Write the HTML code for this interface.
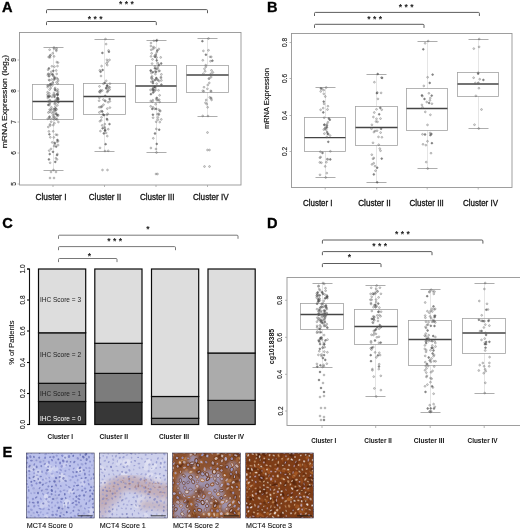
<!DOCTYPE html>
<html lang="en"><head><meta charset="utf-8"><title>Figure</title>
<style>html,body{margin:0;padding:0;background:#fff}svg{display:block}</style></head>
<body>
<svg width="520" height="530" viewBox="0 0 520 530" font-family='"Liberation Sans", sans-serif'>
<rect width="520" height="530" fill="#fff"/>
<text x="1.9" y="12" font-size="14.6" text-anchor="start" font-weight="bold" fill="#000" stroke="#000" stroke-width="0.35">A</text>
<path d="M46.5 13.2V10.6Q46.5 9.6 47.5 9.6H206.5Q207.5 9.6 207.5 10.6V13.2" fill="none" stroke="#4a4a4a" stroke-width="0.9"/>
<text x="120.6" y="6.9" font-size="8.5" text-anchor="middle" font-weight="bold" fill="#222">*</text>
<text x="126.4" y="6.9" font-size="8.5" text-anchor="middle" font-weight="bold" fill="#222">*</text>
<text x="132.2" y="6.9" font-size="8.5" text-anchor="middle" font-weight="bold" fill="#222">*</text>
<path d="M46.5 25.1V22.5Q46.5 21.5 47.5 21.5H155.3Q156.3 21.5 156.3 22.5V25.1" fill="none" stroke="#4a4a4a" stroke-width="0.9"/>
<text x="89.3" y="22.3" font-size="8.5" text-anchor="middle" font-weight="bold" fill="#222">*</text>
<text x="95.1" y="22.3" font-size="8.5" text-anchor="middle" font-weight="bold" fill="#222">*</text>
<text x="100.9" y="22.3" font-size="8.5" text-anchor="middle" font-weight="bold" fill="#222">*</text>
<rect x="19.5" y="32.5" width="221.5" height="152.5" fill="none" stroke="#949494" stroke-width="0.9"/>
<line x1="17.5" y1="60" x2="19.5" y2="60" stroke="#999" stroke-width="0.7"/>
<text x="15.5" y="60" font-size="6.5" text-anchor="middle" font-weight="normal" fill="#222" stroke="#222" stroke-width="0.15" transform="rotate(-90 15.5 60)">9</text>
<line x1="17.5" y1="91" x2="19.5" y2="91" stroke="#999" stroke-width="0.7"/>
<text x="15.5" y="91" font-size="6.5" text-anchor="middle" font-weight="normal" fill="#222" stroke="#222" stroke-width="0.15" transform="rotate(-90 15.5 91)">8</text>
<line x1="17.5" y1="122" x2="19.5" y2="122" stroke="#999" stroke-width="0.7"/>
<text x="15.5" y="122" font-size="6.5" text-anchor="middle" font-weight="normal" fill="#222" stroke="#222" stroke-width="0.15" transform="rotate(-90 15.5 122)">7</text>
<line x1="17.5" y1="153" x2="19.5" y2="153" stroke="#999" stroke-width="0.7"/>
<text x="15.5" y="153" font-size="6.5" text-anchor="middle" font-weight="normal" fill="#222" stroke="#222" stroke-width="0.15" transform="rotate(-90 15.5 153)">6</text>
<line x1="17.5" y1="184" x2="19.5" y2="184" stroke="#999" stroke-width="0.7"/>
<text x="15.5" y="184" font-size="6.5" text-anchor="middle" font-weight="normal" fill="#222" stroke="#222" stroke-width="0.15" transform="rotate(-90 15.5 184)">5</text>
<text x="7.5" y="101.6" font-size="7.7" text-anchor="middle" font-weight="normal" fill="#111" stroke="#111" stroke-width="0.15" transform="rotate(-90 7.5 101.6)" textLength="93.5" lengthAdjust="spacingAndGlyphs">mRNA Expression (log<tspan font-size="5.5" dy="1.8">2</tspan><tspan dy="-1.8">)</tspan></text>
<line x1="53" y1="185" x2="53" y2="187" stroke="#999" stroke-width="0.7"/>
<line x1="53.5" y1="47.5" x2="53.5" y2="84.5" stroke="#b5b5b5" stroke-width="0.7" stroke-dasharray="1 1"/>
<line x1="53.5" y1="119.5" x2="53.5" y2="170.5" stroke="#b5b5b5" stroke-width="0.7" stroke-dasharray="1 1"/>
<line x1="43.5" y1="47.5" x2="63.5" y2="47.5" stroke="#8a8a8a" stroke-width="0.7"/>
<line x1="43.5" y1="170.5" x2="63.5" y2="170.5" stroke="#8a8a8a" stroke-width="0.7"/>
<rect x="32.5" y="84.5" width="41.0" height="35.0" fill="none" stroke="#a2a2a2" stroke-width="0.8"/>
<line x1="32.5" y1="101.5" x2="73.5" y2="101.5" stroke="#444" stroke-width="1.3"/>
<g fill="rgba(110,110,110,0.18)" stroke="#666" stroke-width="0.5" stroke-opacity="0.8"><circle cx="57.7" cy="93.8" r="0.9"/><circle cx="54.0" cy="92.9" r="0.9"/><circle cx="56.2" cy="70.5" r="0.9"/><circle cx="56.4" cy="50.8" r="0.9"/><circle cx="49.2" cy="150.6" r="0.9"/><circle cx="49.6" cy="49.7" r="0.9"/><circle cx="50.6" cy="109.7" r="0.9"/><circle cx="50.7" cy="88.0" r="0.9"/><circle cx="56.8" cy="62.1" r="0.9"/><circle cx="56.8" cy="100.8" r="0.9"/><circle cx="52.7" cy="82.4" r="0.9"/><circle cx="54.4" cy="123.2" r="0.9"/><circle cx="51.2" cy="121.7" r="0.9"/><circle cx="50.2" cy="125.5" r="0.9"/><circle cx="49.5" cy="80.3" r="0.9"/><circle cx="49.6" cy="109.6" r="0.9"/><circle cx="54.6" cy="103.9" r="0.9"/><circle cx="50.5" cy="55.3" r="0.9"/><circle cx="57.2" cy="134.9" r="0.9"/><circle cx="50.3" cy="55.3" r="0.9"/><circle cx="48.3" cy="127.0" r="0.9"/><circle cx="54.1" cy="56.4" r="0.9"/><circle cx="58.1" cy="91.9" r="0.9"/><circle cx="57.0" cy="94.1" r="0.9"/><circle cx="56.5" cy="82.3" r="0.9"/><circle cx="57.8" cy="79.2" r="0.9"/><circle cx="54.1" cy="79.7" r="0.9"/><circle cx="47.9" cy="85.8" r="0.9"/><circle cx="50.3" cy="137.3" r="0.9"/><circle cx="50.0" cy="102.7" r="0.9"/><circle cx="54.3" cy="116.8" r="0.9"/><circle cx="49.7" cy="100.1" r="0.9"/><circle cx="48.2" cy="73.9" r="0.9"/><circle cx="53.9" cy="113.9" r="0.9"/><circle cx="57.5" cy="66.1" r="0.9"/><circle cx="47.7" cy="118.8" r="0.9"/><circle cx="48.3" cy="101.5" r="0.9"/><circle cx="57.4" cy="154.1" r="0.9"/><circle cx="57.0" cy="159.4" r="0.9"/><circle cx="51.7" cy="112.7" r="0.9"/><circle cx="48.4" cy="112.5" r="0.9"/><circle cx="57.2" cy="119.4" r="0.9"/><circle cx="56.7" cy="109.4" r="0.9"/><circle cx="54.1" cy="48.6" r="0.9"/><circle cx="55.2" cy="88.0" r="0.9"/><circle cx="49.4" cy="105.1" r="0.9"/><circle cx="57.3" cy="141.8" r="0.9"/><circle cx="49.7" cy="95.7" r="0.9"/><circle cx="51.0" cy="148.9" r="0.9"/><circle cx="56.8" cy="78.1" r="0.9"/><circle cx="50.5" cy="118.6" r="0.9"/><circle cx="49.9" cy="57.5" r="0.9"/><circle cx="52.9" cy="95.0" r="0.9"/><circle cx="58.3" cy="98.7" r="0.9"/><circle cx="47.8" cy="85.3" r="0.9"/><circle cx="53.8" cy="137.4" r="0.9"/><circle cx="47.7" cy="97.9" r="0.9"/><circle cx="56.6" cy="48.4" r="0.9"/><circle cx="54.4" cy="66.6" r="0.9"/><circle cx="54.7" cy="95.0" r="0.9"/><circle cx="47.6" cy="87.1" r="0.9"/><circle cx="55.8" cy="112.6" r="0.9"/><circle cx="57.5" cy="97.9" r="0.9"/><circle cx="48.9" cy="73.9" r="0.9"/><circle cx="57.5" cy="94.9" r="0.9"/><circle cx="57.2" cy="94.0" r="0.9"/><circle cx="57.4" cy="105.3" r="0.9"/><circle cx="56.9" cy="99.9" r="0.9"/><circle cx="52.3" cy="85.4" r="0.9"/><circle cx="52.9" cy="115.3" r="0.9"/><circle cx="56.3" cy="49.8" r="0.9"/><circle cx="56.7" cy="73.9" r="0.9"/><circle cx="52.9" cy="118.5" r="0.9"/><circle cx="53.3" cy="125.1" r="0.9"/><circle cx="53.7" cy="116.7" r="0.9"/><circle cx="56.8" cy="90.7" r="0.9"/><circle cx="58.2" cy="141.0" r="0.9"/><circle cx="49.7" cy="111.8" r="0.9"/><circle cx="54.2" cy="110.6" r="0.9"/><circle cx="51.9" cy="66.3" r="0.9"/><circle cx="55.1" cy="144.3" r="0.9"/><circle cx="58.0" cy="62.6" r="0.9"/><circle cx="48.9" cy="131.4" r="0.9"/><circle cx="57.4" cy="98.3" r="0.9"/><circle cx="49.6" cy="89.6" r="0.9"/><circle cx="48.9" cy="118.2" r="0.9"/><circle cx="50.0" cy="124.4" r="0.9"/><circle cx="51.4" cy="107.3" r="0.9"/><circle cx="55.5" cy="103.4" r="0.9"/><circle cx="49.7" cy="56.6" r="0.9"/><circle cx="51.6" cy="109.4" r="0.9"/><circle cx="49.3" cy="93.3" r="0.9"/><circle cx="50.1" cy="162.8" r="0.9"/><circle cx="57.4" cy="116.1" r="0.9"/><circle cx="57.7" cy="89.5" r="0.9"/><circle cx="49.0" cy="79.9" r="0.9"/><circle cx="48.6" cy="57.0" r="0.9"/><circle cx="47.7" cy="96.0" r="0.9"/><circle cx="58.2" cy="80.8" r="0.9"/><circle cx="53.0" cy="75.2" r="0.9"/><circle cx="53.2" cy="75.8" r="0.9"/><circle cx="49.5" cy="104.1" r="0.9"/><circle cx="57.7" cy="83.6" r="0.9"/><circle cx="52.6" cy="83.1" r="0.9"/><circle cx="53.2" cy="131.3" r="0.9"/><circle cx="47.6" cy="94.5" r="0.9"/><circle cx="52.0" cy="96.9" r="0.9"/><circle cx="47.7" cy="75.1" r="0.9"/><circle cx="56.4" cy="119.2" r="0.9"/><circle cx="55.7" cy="99.9" r="0.9"/><circle cx="55.9" cy="158.2" r="0.9"/><circle cx="47.6" cy="92.2" r="0.9"/><circle cx="54.4" cy="95.2" r="0.9"/><circle cx="51.2" cy="71.8" r="0.9"/><circle cx="53.4" cy="111.8" r="0.9"/><circle cx="54.6" cy="101.5" r="0.9"/><circle cx="58.3" cy="115.2" r="0.9"/><circle cx="50.3" cy="74.5" r="0.9"/><circle cx="49.6" cy="84.9" r="0.9"/><circle cx="50.3" cy="85.7" r="0.9"/><circle cx="58.1" cy="145.1" r="0.9"/><circle cx="54.5" cy="119.4" r="0.9"/><circle cx="55.9" cy="134.6" r="0.9"/><circle cx="52.7" cy="53.3" r="0.9"/><circle cx="48.1" cy="69.8" r="0.9"/><circle cx="54.1" cy="146.1" r="0.9"/><circle cx="54.7" cy="89.0" r="0.9"/><circle cx="55.4" cy="106.6" r="0.9"/><circle cx="50.2" cy="84.2" r="0.9"/><circle cx="51.8" cy="79.5" r="0.9"/><circle cx="58.4" cy="122.0" r="0.9"/><circle cx="52.2" cy="142.4" r="0.9"/><circle cx="50.2" cy="101.0" r="0.9"/><circle cx="55.5" cy="118.4" r="0.9"/><circle cx="54.0" cy="47.5" r="0.9"/><circle cx="53.5" cy="170.0" r="0.9"/><circle cx="51.0" cy="172.0" r="0.9"/><circle cx="56.0" cy="172.0" r="0.9"/><circle cx="50.0" cy="178.0" r="0.9"/><circle cx="54.0" cy="178.0" r="0.9"/></g>
<g fill="rgba(70,70,70,0.6)" stroke="#555" stroke-width="0.5" stroke-opacity="0.85"><circle cx="58.3" cy="102.3" r="0.9"/><circle cx="52.3" cy="74.2" r="0.9"/><circle cx="53.0" cy="151.8" r="0.9"/><circle cx="55.3" cy="161.9" r="0.9"/><circle cx="54.6" cy="78.7" r="0.9"/><circle cx="49.4" cy="134.3" r="0.9"/><circle cx="48.9" cy="68.4" r="0.9"/><circle cx="58.3" cy="99.6" r="0.9"/><circle cx="55.5" cy="110.2" r="0.9"/><circle cx="57.4" cy="114.8" r="0.9"/><circle cx="56.2" cy="114.2" r="0.9"/><circle cx="55.6" cy="108.5" r="0.9"/><circle cx="57.6" cy="94.8" r="0.9"/><circle cx="50.8" cy="84.2" r="0.9"/><circle cx="57.6" cy="98.1" r="0.9"/><circle cx="49.7" cy="154.1" r="0.9"/><circle cx="49.5" cy="96.5" r="0.9"/><circle cx="55.2" cy="90.1" r="0.9"/><circle cx="54.7" cy="142.9" r="0.9"/><circle cx="54.6" cy="77.4" r="0.9"/><circle cx="56.2" cy="146.6" r="0.9"/><circle cx="49.0" cy="76.3" r="0.9"/><circle cx="54.5" cy="96.8" r="0.9"/><circle cx="53.3" cy="70.8" r="0.9"/><circle cx="48.9" cy="159.4" r="0.9"/><circle cx="48.3" cy="104.9" r="0.9"/><circle cx="49.5" cy="116.7" r="0.9"/><circle cx="57.0" cy="155.1" r="0.9"/><circle cx="54.1" cy="108.8" r="0.9"/><circle cx="57.4" cy="140.0" r="0.9"/><circle cx="48.3" cy="96.6" r="0.9"/></g>
<line x1="104.5" y1="185" x2="104.5" y2="187" stroke="#999" stroke-width="0.7"/>
<line x1="104.5" y1="39.5" x2="104.5" y2="83.5" stroke="#b5b5b5" stroke-width="0.7" stroke-dasharray="1 1"/>
<line x1="104.5" y1="114.5" x2="104.5" y2="151.5" stroke="#b5b5b5" stroke-width="0.7" stroke-dasharray="1 1"/>
<line x1="94.5" y1="39.5" x2="114.5" y2="39.5" stroke="#8a8a8a" stroke-width="0.7"/>
<line x1="94.5" y1="151.5" x2="114.5" y2="151.5" stroke="#8a8a8a" stroke-width="0.7"/>
<rect x="83.5" y="83.5" width="42.0" height="31.0" fill="none" stroke="#a2a2a2" stroke-width="0.8"/>
<line x1="83.5" y1="96.5" x2="125.5" y2="96.5" stroke="#444" stroke-width="1.3"/>
<g fill="rgba(110,110,110,0.18)" stroke="#666" stroke-width="0.5" stroke-opacity="0.8"><circle cx="101.2" cy="120.2" r="0.9"/><circle cx="109.7" cy="87.3" r="0.9"/><circle cx="106.1" cy="44.1" r="0.9"/><circle cx="99.4" cy="112.4" r="0.9"/><circle cx="101.6" cy="66.1" r="0.9"/><circle cx="101.5" cy="106.9" r="0.9"/><circle cx="107.3" cy="65.1" r="0.9"/><circle cx="108.0" cy="90.6" r="0.9"/><circle cx="108.8" cy="86.9" r="0.9"/><circle cx="99.5" cy="86.4" r="0.9"/><circle cx="104.8" cy="128.2" r="0.9"/><circle cx="109.9" cy="101.3" r="0.9"/><circle cx="99.1" cy="100.7" r="0.9"/><circle cx="107.8" cy="88.3" r="0.9"/><circle cx="100.7" cy="107.1" r="0.9"/><circle cx="108.6" cy="50.5" r="0.9"/><circle cx="109.9" cy="107.6" r="0.9"/><circle cx="100.7" cy="90.4" r="0.9"/><circle cx="108.3" cy="129.2" r="0.9"/><circle cx="109.5" cy="59.9" r="0.9"/><circle cx="100.0" cy="147.9" r="0.9"/><circle cx="104.8" cy="124.1" r="0.9"/><circle cx="106.9" cy="59.8" r="0.9"/><circle cx="100.2" cy="92.4" r="0.9"/><circle cx="109.6" cy="89.5" r="0.9"/><circle cx="105.2" cy="100.7" r="0.9"/><circle cx="109.9" cy="83.6" r="0.9"/><circle cx="102.2" cy="125.4" r="0.9"/><circle cx="102.3" cy="90.5" r="0.9"/><circle cx="106.3" cy="88.6" r="0.9"/><circle cx="108.1" cy="102.3" r="0.9"/><circle cx="106.5" cy="63.4" r="0.9"/><circle cx="103.4" cy="99.6" r="0.9"/><circle cx="101.5" cy="117.3" r="0.9"/><circle cx="99.8" cy="70.3" r="0.9"/><circle cx="106.1" cy="132.9" r="0.9"/><circle cx="103.4" cy="83.7" r="0.9"/><circle cx="107.7" cy="113.7" r="0.9"/><circle cx="99.2" cy="107.2" r="0.9"/><circle cx="107.7" cy="61.7" r="0.9"/><circle cx="107.4" cy="119.9" r="0.9"/><circle cx="104.5" cy="127.0" r="0.9"/><circle cx="101.2" cy="111.1" r="0.9"/><circle cx="99.9" cy="121.3" r="0.9"/><circle cx="100.4" cy="131.1" r="0.9"/><circle cx="101.9" cy="106.3" r="0.9"/><circle cx="101.0" cy="76.0" r="0.9"/><circle cx="99.4" cy="97.8" r="0.9"/><circle cx="106.2" cy="80.8" r="0.9"/><circle cx="107.1" cy="92.2" r="0.9"/><circle cx="107.8" cy="91.2" r="0.9"/><circle cx="100.9" cy="90.9" r="0.9"/><circle cx="105.2" cy="101.1" r="0.9"/><circle cx="99.4" cy="91.8" r="0.9"/><circle cx="103.5" cy="104.7" r="0.9"/><circle cx="107.3" cy="108.6" r="0.9"/><circle cx="108.2" cy="150.8" r="0.9"/><circle cx="107.0" cy="115.0" r="0.9"/><circle cx="107.3" cy="136.1" r="0.9"/><circle cx="99.8" cy="91.2" r="0.9"/><circle cx="105.5" cy="39.0" r="0.9"/><circle cx="105.0" cy="151.0" r="0.9"/><circle cx="102.5" cy="170.0" r="0.9"/><circle cx="107.5" cy="170.0" r="0.9"/></g>
<g fill="rgba(70,70,70,0.6)" stroke="#555" stroke-width="0.5" stroke-opacity="0.85"><circle cx="107.2" cy="85.4" r="0.9"/><circle cx="104.0" cy="115.2" r="0.9"/><circle cx="109.5" cy="124.1" r="0.9"/><circle cx="106.9" cy="119.0" r="0.9"/><circle cx="102.3" cy="111.5" r="0.9"/><circle cx="102.4" cy="52.9" r="0.9"/><circle cx="103.1" cy="114.5" r="0.9"/><circle cx="107.0" cy="86.1" r="0.9"/><circle cx="105.2" cy="95.8" r="0.9"/><circle cx="102.6" cy="128.3" r="0.9"/><circle cx="106.2" cy="87.9" r="0.9"/><circle cx="104.7" cy="82.9" r="0.9"/><circle cx="102.6" cy="70.0" r="0.9"/><circle cx="105.0" cy="130.7" r="0.9"/><circle cx="105.6" cy="144.2" r="0.9"/><circle cx="108.9" cy="51.8" r="0.9"/><circle cx="100.6" cy="71.7" r="0.9"/><circle cx="109.6" cy="99.0" r="0.9"/><circle cx="105.2" cy="130.1" r="0.9"/><circle cx="103.8" cy="133.4" r="0.9"/></g>
<line x1="156" y1="185" x2="156" y2="187" stroke="#999" stroke-width="0.7"/>
<line x1="156.5" y1="40.5" x2="156.5" y2="65.5" stroke="#b5b5b5" stroke-width="0.7" stroke-dasharray="1 1"/>
<line x1="156.5" y1="102.5" x2="156.5" y2="152.5" stroke="#b5b5b5" stroke-width="0.7" stroke-dasharray="1 1"/>
<line x1="146.5" y1="40.5" x2="166.5" y2="40.5" stroke="#8a8a8a" stroke-width="0.7"/>
<line x1="146.5" y1="152.5" x2="166.5" y2="152.5" stroke="#8a8a8a" stroke-width="0.7"/>
<rect x="135.5" y="65.5" width="41.0" height="37.0" fill="none" stroke="#a2a2a2" stroke-width="0.8"/>
<line x1="135.5" y1="86" x2="176.5" y2="86" stroke="#444" stroke-width="1.3"/>
<g fill="rgba(110,110,110,0.18)" stroke="#666" stroke-width="0.5" stroke-opacity="0.8"><circle cx="157.8" cy="63.2" r="0.9"/><circle cx="151.5" cy="78.4" r="0.9"/><circle cx="156.3" cy="128.9" r="0.9"/><circle cx="153.3" cy="47.1" r="0.9"/><circle cx="158.8" cy="109.6" r="0.9"/><circle cx="152.5" cy="59.4" r="0.9"/><circle cx="155.6" cy="104.2" r="0.9"/><circle cx="156.0" cy="149.0" r="0.9"/><circle cx="154.5" cy="56.1" r="0.9"/><circle cx="156.2" cy="98.9" r="0.9"/><circle cx="158.0" cy="99.9" r="0.9"/><circle cx="152.4" cy="101.7" r="0.9"/><circle cx="153.1" cy="117.7" r="0.9"/><circle cx="159.2" cy="81.2" r="0.9"/><circle cx="150.7" cy="106.3" r="0.9"/><circle cx="155.4" cy="74.1" r="0.9"/><circle cx="151.3" cy="81.8" r="0.9"/><circle cx="151.0" cy="56.4" r="0.9"/><circle cx="151.5" cy="77.4" r="0.9"/><circle cx="159.2" cy="99.7" r="0.9"/><circle cx="152.9" cy="49.1" r="0.9"/><circle cx="158.9" cy="114.7" r="0.9"/><circle cx="158.7" cy="113.9" r="0.9"/><circle cx="152.1" cy="63.6" r="0.9"/><circle cx="155.2" cy="71.3" r="0.9"/><circle cx="155.6" cy="90.0" r="0.9"/><circle cx="161.3" cy="119.4" r="0.9"/><circle cx="157.0" cy="100.3" r="0.9"/><circle cx="159.8" cy="122.1" r="0.9"/><circle cx="156.5" cy="68.9" r="0.9"/><circle cx="155.6" cy="55.2" r="0.9"/><circle cx="161.4" cy="74.4" r="0.9"/><circle cx="152.8" cy="100.2" r="0.9"/><circle cx="158.1" cy="66.5" r="0.9"/><circle cx="160.7" cy="57.4" r="0.9"/><circle cx="154.5" cy="90.4" r="0.9"/><circle cx="158.9" cy="49.0" r="0.9"/><circle cx="150.7" cy="101.0" r="0.9"/><circle cx="151.4" cy="73.1" r="0.9"/><circle cx="156.2" cy="121.8" r="0.9"/><circle cx="150.9" cy="46.0" r="0.9"/><circle cx="153.9" cy="40.8" r="0.9"/><circle cx="152.0" cy="76.4" r="0.9"/><circle cx="158.5" cy="90.3" r="0.9"/><circle cx="157.9" cy="117.4" r="0.9"/><circle cx="157.8" cy="119.7" r="0.9"/><circle cx="157.5" cy="114.2" r="0.9"/><circle cx="151.2" cy="49.8" r="0.9"/><circle cx="157.8" cy="68.5" r="0.9"/><circle cx="156.6" cy="57.5" r="0.9"/><circle cx="154.8" cy="86.4" r="0.9"/><circle cx="154.9" cy="66.3" r="0.9"/><circle cx="155.7" cy="54.6" r="0.9"/><circle cx="150.8" cy="70.3" r="0.9"/><circle cx="156.7" cy="83.7" r="0.9"/><circle cx="152.5" cy="79.0" r="0.9"/><circle cx="161.0" cy="77.9" r="0.9"/><circle cx="160.9" cy="77.1" r="0.9"/><circle cx="159.6" cy="70.8" r="0.9"/><circle cx="150.9" cy="148.0" r="0.9"/><circle cx="154.5" cy="47.7" r="0.9"/><circle cx="153.0" cy="107.3" r="0.9"/><circle cx="150.5" cy="89.9" r="0.9"/><circle cx="156.5" cy="78.7" r="0.9"/><circle cx="159.6" cy="95.3" r="0.9"/><circle cx="160.2" cy="111.2" r="0.9"/><circle cx="158.1" cy="80.0" r="0.9"/><circle cx="159.6" cy="101.9" r="0.9"/><circle cx="156.7" cy="52.3" r="0.9"/><circle cx="158.7" cy="71.0" r="0.9"/><circle cx="153.2" cy="89.9" r="0.9"/><circle cx="156.2" cy="68.7" r="0.9"/><circle cx="151.6" cy="53.4" r="0.9"/><circle cx="155.5" cy="87.9" r="0.9"/><circle cx="160.0" cy="110.6" r="0.9"/><circle cx="153.3" cy="138.3" r="0.9"/><circle cx="154.2" cy="91.4" r="0.9"/><circle cx="157.4" cy="79.8" r="0.9"/><circle cx="154.6" cy="108.8" r="0.9"/><circle cx="152.5" cy="89.8" r="0.9"/><circle cx="151.0" cy="43.0" r="0.9"/><circle cx="161.4" cy="80.4" r="0.9"/><circle cx="157.0" cy="40.0" r="0.9"/><circle cx="156.5" cy="152.5" r="0.9"/><circle cx="156.0" cy="174.0" r="0.9"/><circle cx="157.5" cy="174.0" r="0.9"/></g>
<g fill="rgba(70,70,70,0.6)" stroke="#555" stroke-width="0.5" stroke-opacity="0.85"><circle cx="152.9" cy="114.7" r="0.9"/><circle cx="150.9" cy="94.2" r="0.9"/><circle cx="156.8" cy="97.8" r="0.9"/><circle cx="159.2" cy="129.7" r="0.9"/><circle cx="156.3" cy="78.0" r="0.9"/><circle cx="152.3" cy="108.9" r="0.9"/><circle cx="158.9" cy="65.0" r="0.9"/><circle cx="153.3" cy="89.8" r="0.9"/><circle cx="154.9" cy="86.7" r="0.9"/><circle cx="154.3" cy="87.0" r="0.9"/><circle cx="152.9" cy="81.4" r="0.9"/><circle cx="150.7" cy="70.8" r="0.9"/><circle cx="152.8" cy="88.4" r="0.9"/><circle cx="155.0" cy="80.0" r="0.9"/><circle cx="153.0" cy="83.2" r="0.9"/><circle cx="152.9" cy="72.2" r="0.9"/><circle cx="156.7" cy="60.4" r="0.9"/><circle cx="156.0" cy="71.9" r="0.9"/><circle cx="154.9" cy="68.3" r="0.9"/><circle cx="155.1" cy="56.8" r="0.9"/><circle cx="155.0" cy="133.5" r="0.9"/><circle cx="153.1" cy="92.5" r="0.9"/><circle cx="156.1" cy="108.8" r="0.9"/><circle cx="156.7" cy="143.9" r="0.9"/><circle cx="161.2" cy="63.5" r="0.9"/><circle cx="157.4" cy="50.5" r="0.9"/><circle cx="161.4" cy="84.6" r="0.9"/><circle cx="156.5" cy="40.7" r="0.9"/></g>
<line x1="207.5" y1="185" x2="207.5" y2="187" stroke="#999" stroke-width="0.7"/>
<line x1="207.5" y1="38.5" x2="207.5" y2="65.5" stroke="#b5b5b5" stroke-width="0.7" stroke-dasharray="1 1"/>
<line x1="207.5" y1="92.5" x2="207.5" y2="116.5" stroke="#b5b5b5" stroke-width="0.7" stroke-dasharray="1 1"/>
<line x1="197.5" y1="38.5" x2="217.5" y2="38.5" stroke="#8a8a8a" stroke-width="0.7"/>
<line x1="197.5" y1="116.5" x2="217.5" y2="116.5" stroke="#8a8a8a" stroke-width="0.7"/>
<rect x="186.5" y="65.5" width="42.0" height="27.0" fill="none" stroke="#a2a2a2" stroke-width="0.8"/>
<line x1="186.5" y1="75" x2="228.5" y2="75" stroke="#444" stroke-width="1.3"/>
<g fill="rgba(110,110,110,0.18)" stroke="#666" stroke-width="0.5" stroke-opacity="0.8"><circle cx="205.5" cy="102.8" r="0.9"/><circle cx="206.7" cy="104.1" r="0.9"/><circle cx="209.8" cy="97.3" r="0.9"/><circle cx="205.9" cy="66.8" r="0.9"/><circle cx="206.2" cy="100.0" r="0.9"/><circle cx="208.8" cy="78.7" r="0.9"/><circle cx="207.6" cy="107.3" r="0.9"/><circle cx="211.2" cy="77.0" r="0.9"/><circle cx="209.3" cy="82.9" r="0.9"/><circle cx="204.5" cy="68.8" r="0.9"/><circle cx="207.7" cy="85.0" r="0.9"/><circle cx="208.5" cy="50.3" r="0.9"/><circle cx="203.7" cy="91.3" r="0.9"/><circle cx="210.1" cy="74.9" r="0.9"/><circle cx="212.9" cy="72.4" r="0.9"/><circle cx="203.4" cy="73.7" r="0.9"/><circle cx="211.2" cy="98.0" r="0.9"/><circle cx="211.1" cy="91.4" r="0.9"/><circle cx="202.7" cy="115.9" r="0.9"/><circle cx="210.9" cy="98.4" r="0.9"/><circle cx="211.5" cy="70.4" r="0.9"/><circle cx="202.8" cy="60.3" r="0.9"/><circle cx="207.4" cy="88.8" r="0.9"/><circle cx="210.5" cy="61.2" r="0.9"/><circle cx="210.8" cy="90.8" r="0.9"/><circle cx="211.2" cy="73.6" r="0.9"/><circle cx="211.3" cy="56.9" r="0.9"/><circle cx="202.8" cy="90.8" r="0.9"/><circle cx="211.6" cy="99.9" r="0.9"/><circle cx="209.4" cy="78.4" r="0.9"/><circle cx="205.7" cy="65.2" r="0.9"/><circle cx="205.1" cy="71.3" r="0.9"/><circle cx="204.0" cy="87.2" r="0.9"/><circle cx="203.4" cy="50.9" r="0.9"/><circle cx="210.1" cy="56.8" r="0.9"/><circle cx="208.5" cy="38.5" r="0.9"/><circle cx="208.0" cy="116.0" r="0.9"/><circle cx="207.5" cy="132.5" r="0.9"/><circle cx="207.5" cy="150.0" r="0.9"/><circle cx="209.5" cy="150.0" r="0.9"/><circle cx="204.5" cy="166.5" r="0.9"/><circle cx="209.5" cy="166.5" r="0.9"/></g>
<g fill="rgba(70,70,70,0.6)" stroke="#555" stroke-width="0.5" stroke-opacity="0.85"><circle cx="212.4" cy="60.7" r="0.9"/><circle cx="202.4" cy="41.2" r="0.9"/><circle cx="205.9" cy="54.7" r="0.9"/></g>
<text x="51" y="199.6" font-size="9.3" text-anchor="middle" font-weight="normal" fill="#111" stroke="#111" stroke-width="0.3" textLength="31" lengthAdjust="spacingAndGlyphs">Cluster I</text>
<text x="105" y="199.6" font-size="9.3" text-anchor="middle" font-weight="normal" fill="#111" stroke="#111" stroke-width="0.3" textLength="32.5" lengthAdjust="spacingAndGlyphs">Cluster II</text>
<text x="157.2" y="199.6" font-size="9.3" text-anchor="middle" font-weight="normal" fill="#111" stroke="#111" stroke-width="0.3" textLength="34.5" lengthAdjust="spacingAndGlyphs">Cluster III</text>
<text x="210.8" y="199.6" font-size="9.3" text-anchor="middle" font-weight="normal" fill="#111" stroke="#111" stroke-width="0.3" textLength="35.7" lengthAdjust="spacingAndGlyphs">Cluster IV</text>
<text x="266.9" y="11.5" font-size="14.6" text-anchor="start" font-weight="bold" fill="#000" stroke="#000" stroke-width="0.3">B</text>
<path d="M314.5 16.0V13.4Q314.5 12.4 315.5 12.4H478.4Q479.4 12.4 479.4 13.4V16.0" fill="none" stroke="#4a4a4a" stroke-width="0.9"/>
<text x="400.3" y="9.8" font-size="8.5" text-anchor="middle" font-weight="bold" fill="#222">*</text>
<text x="406.1" y="9.8" font-size="8.5" text-anchor="middle" font-weight="bold" fill="#222">*</text>
<text x="411.9" y="9.8" font-size="8.5" text-anchor="middle" font-weight="bold" fill="#222">*</text>
<path d="M314.5 27.900000000000002V25.3Q314.5 24.3 315.5 24.3H423Q424 24.3 424 25.3V27.900000000000002" fill="none" stroke="#4a4a4a" stroke-width="0.9"/>
<text x="368.8" y="21.7" font-size="8.5" text-anchor="middle" font-weight="bold" fill="#222">*</text>
<text x="374.6" y="21.7" font-size="8.5" text-anchor="middle" font-weight="bold" fill="#222">*</text>
<text x="380.4" y="21.7" font-size="8.5" text-anchor="middle" font-weight="bold" fill="#222">*</text>
<rect x="291.5" y="33.5" width="220.5" height="154" fill="none" stroke="#949494" stroke-width="0.9"/>
<line x1="289.5" y1="42.5" x2="291.5" y2="42.5" stroke="#999" stroke-width="0.7"/>
<text x="286.5" y="42.5" font-size="6.5" text-anchor="middle" font-weight="normal" fill="#222" stroke="#222" stroke-width="0.15" transform="rotate(-90 286.5 42.5)">0.8</text>
<line x1="289.5" y1="78.5" x2="291.5" y2="78.5" stroke="#999" stroke-width="0.7"/>
<text x="286.5" y="78.5" font-size="6.5" text-anchor="middle" font-weight="normal" fill="#222" stroke="#222" stroke-width="0.15" transform="rotate(-90 286.5 78.5)">0.6</text>
<line x1="289.5" y1="115.5" x2="291.5" y2="115.5" stroke="#999" stroke-width="0.7"/>
<text x="286.5" y="115.5" font-size="6.5" text-anchor="middle" font-weight="normal" fill="#222" stroke="#222" stroke-width="0.15" transform="rotate(-90 286.5 115.5)">0.4</text>
<line x1="289.5" y1="151.5" x2="291.5" y2="151.5" stroke="#999" stroke-width="0.7"/>
<text x="286.5" y="151.5" font-size="6.5" text-anchor="middle" font-weight="normal" fill="#222" stroke="#222" stroke-width="0.15" transform="rotate(-90 286.5 151.5)">0.2</text>
<text x="269.3" y="98.6" font-size="7.5" text-anchor="middle" font-weight="normal" fill="#111" stroke="#111" stroke-width="0.15" transform="rotate(-90 269.3 98.6)">mRNA Expression</text>
<line x1="325.2" y1="187.5" x2="325.2" y2="189.5" stroke="#999" stroke-width="0.7"/>
<line x1="325.5" y1="87.5" x2="325.5" y2="117.5" stroke="#b5b5b5" stroke-width="0.7" stroke-dasharray="1 1"/>
<line x1="325.5" y1="151.5" x2="325.5" y2="177.5" stroke="#b5b5b5" stroke-width="0.7" stroke-dasharray="1 1"/>
<line x1="315.5" y1="87.5" x2="335.5" y2="87.5" stroke="#8a8a8a" stroke-width="0.7"/>
<line x1="315.5" y1="177.5" x2="335.5" y2="177.5" stroke="#8a8a8a" stroke-width="0.7"/>
<rect x="304.5" y="117.5" width="41.0" height="34.0" fill="none" stroke="#a2a2a2" stroke-width="0.8"/>
<line x1="304.5" y1="137.7" x2="345.5" y2="137.7" stroke="#444" stroke-width="1.3"/>
<g fill="rgba(110,110,110,0.18)" stroke="#666" stroke-width="0.5" stroke-opacity="0.8"><circle cx="323.7" cy="90.2" r="0.9"/><circle cx="330.1" cy="135.6" r="0.9"/><circle cx="327.1" cy="123.9" r="0.9"/><circle cx="330.4" cy="151.3" r="0.9"/><circle cx="326.8" cy="173.1" r="0.9"/><circle cx="320.4" cy="151.7" r="0.9"/><circle cx="323.8" cy="93.8" r="0.9"/><circle cx="320.6" cy="109.8" r="0.9"/><circle cx="327.9" cy="106.2" r="0.9"/><circle cx="319.9" cy="157.7" r="0.9"/><circle cx="320.0" cy="174.8" r="0.9"/><circle cx="325.6" cy="128.3" r="0.9"/><circle cx="325.3" cy="96.5" r="0.9"/><circle cx="320.7" cy="91.4" r="0.9"/><circle cx="322.1" cy="89.1" r="0.9"/><circle cx="324.8" cy="128.8" r="0.9"/><circle cx="321.4" cy="162.7" r="0.9"/><circle cx="326.4" cy="162.2" r="0.9"/><circle cx="319.8" cy="162.4" r="0.9"/><circle cx="327.5" cy="109.5" r="0.9"/><circle cx="326.8" cy="137.0" r="0.9"/><circle cx="320.6" cy="157.1" r="0.9"/><circle cx="325.2" cy="166.4" r="0.9"/><circle cx="327.8" cy="159.4" r="0.9"/><circle cx="324.4" cy="124.9" r="0.9"/><circle cx="324.1" cy="103.9" r="0.9"/><circle cx="323.2" cy="108.1" r="0.9"/><circle cx="327.9" cy="122.2" r="0.9"/><circle cx="324.2" cy="117.7" r="0.9"/><circle cx="323.8" cy="129.6" r="0.9"/><circle cx="326.2" cy="129.8" r="0.9"/><circle cx="325.4" cy="127.6" r="0.9"/><circle cx="324.4" cy="133.6" r="0.9"/><circle cx="327.2" cy="159.1" r="0.9"/><circle cx="328.4" cy="134.1" r="0.9"/><circle cx="326.2" cy="87.5" r="0.9"/><circle cx="325.7" cy="177.5" r="0.9"/></g>
<g fill="rgba(70,70,70,0.6)" stroke="#555" stroke-width="0.5" stroke-opacity="0.85"><circle cx="327.1" cy="132.1" r="0.9"/><circle cx="323.7" cy="101.6" r="0.9"/><circle cx="326.9" cy="125.6" r="0.9"/><circle cx="327.7" cy="133.9" r="0.9"/><circle cx="328.3" cy="141.8" r="0.9"/><circle cx="320.9" cy="88.4" r="0.9"/><circle cx="329.8" cy="119.8" r="0.9"/><circle cx="326.9" cy="127.4" r="0.9"/><circle cx="324.4" cy="124.7" r="0.9"/><circle cx="328.9" cy="118.5" r="0.9"/><circle cx="330.3" cy="159.4" r="0.9"/><circle cx="322.5" cy="152.9" r="0.9"/><circle cx="323.3" cy="112.4" r="0.9"/></g>
<line x1="376.7" y1="187.5" x2="376.7" y2="189.5" stroke="#999" stroke-width="0.7"/>
<line x1="376.5" y1="74.5" x2="376.5" y2="106.5" stroke="#b5b5b5" stroke-width="0.7" stroke-dasharray="1 1"/>
<line x1="376.5" y1="145.5" x2="376.5" y2="182.5" stroke="#b5b5b5" stroke-width="0.7" stroke-dasharray="1 1"/>
<line x1="366.5" y1="74.5" x2="386.5" y2="74.5" stroke="#8a8a8a" stroke-width="0.7"/>
<line x1="366.5" y1="182.5" x2="386.5" y2="182.5" stroke="#8a8a8a" stroke-width="0.7"/>
<rect x="355.5" y="106.5" width="42.0" height="39.0" fill="none" stroke="#a2a2a2" stroke-width="0.8"/>
<line x1="355.5" y1="127.5" x2="397.5" y2="127.5" stroke="#444" stroke-width="1.3"/>
<g fill="rgba(110,110,110,0.18)" stroke="#666" stroke-width="0.5" stroke-opacity="0.8"><circle cx="375.5" cy="170.7" r="0.9"/><circle cx="373.0" cy="158.8" r="0.9"/><circle cx="375.0" cy="131.0" r="0.9"/><circle cx="380.5" cy="118.6" r="0.9"/><circle cx="376.5" cy="118.8" r="0.9"/><circle cx="373.8" cy="158.0" r="0.9"/><circle cx="377.5" cy="121.8" r="0.9"/><circle cx="376.0" cy="121.5" r="0.9"/><circle cx="381.9" cy="137.3" r="0.9"/><circle cx="373.7" cy="163.2" r="0.9"/><circle cx="380.5" cy="150.7" r="0.9"/><circle cx="377.3" cy="92.5" r="0.9"/><circle cx="381.7" cy="109.7" r="0.9"/><circle cx="379.8" cy="148.6" r="0.9"/><circle cx="377.9" cy="98.9" r="0.9"/><circle cx="381.1" cy="92.9" r="0.9"/><circle cx="380.6" cy="132.6" r="0.9"/><circle cx="373.9" cy="132.1" r="0.9"/><circle cx="374.4" cy="82.2" r="0.9"/><circle cx="376.5" cy="109.3" r="0.9"/><circle cx="374.3" cy="112.5" r="0.9"/><circle cx="373.0" cy="142.8" r="0.9"/><circle cx="378.5" cy="136.9" r="0.9"/><circle cx="371.8" cy="154.7" r="0.9"/><circle cx="375.0" cy="166.1" r="0.9"/><circle cx="381.5" cy="77.6" r="0.9"/><circle cx="371.9" cy="124.8" r="0.9"/><circle cx="371.5" cy="128.7" r="0.9"/><circle cx="378.7" cy="144.7" r="0.9"/><circle cx="372.0" cy="164.4" r="0.9"/><circle cx="377.0" cy="130.7" r="0.9"/><circle cx="373.4" cy="117.0" r="0.9"/></g>
<g fill="rgba(70,70,70,0.6)" stroke="#555" stroke-width="0.5" stroke-opacity="0.85"><circle cx="376.9" cy="93.2" r="0.9"/><circle cx="380.3" cy="107.8" r="0.9"/><circle cx="381.7" cy="158.6" r="0.9"/><circle cx="377.2" cy="167.7" r="0.9"/><circle cx="373.8" cy="174.4" r="0.9"/><circle cx="379.2" cy="114.3" r="0.9"/><circle cx="381.1" cy="128.8" r="0.9"/><circle cx="382.1" cy="77.9" r="0.9"/><circle cx="377.7" cy="74.0" r="0.9"/><circle cx="377.2" cy="182.3" r="0.9"/></g>
<line x1="427.2" y1="187.5" x2="427.2" y2="189.5" stroke="#999" stroke-width="0.7"/>
<line x1="427.5" y1="41.5" x2="427.5" y2="88.5" stroke="#b5b5b5" stroke-width="0.7" stroke-dasharray="1 1"/>
<line x1="427.5" y1="130.5" x2="427.5" y2="168.5" stroke="#b5b5b5" stroke-width="0.7" stroke-dasharray="1 1"/>
<line x1="417.5" y1="41.5" x2="437.5" y2="41.5" stroke="#8a8a8a" stroke-width="0.7"/>
<line x1="417.5" y1="168.5" x2="437.5" y2="168.5" stroke="#8a8a8a" stroke-width="0.7"/>
<rect x="406.5" y="88.5" width="41.0" height="42.0" fill="none" stroke="#a2a2a2" stroke-width="0.8"/>
<line x1="406.5" y1="108.5" x2="447.5" y2="108.5" stroke="#444" stroke-width="1.3"/>
<g fill="rgba(110,110,110,0.18)" stroke="#666" stroke-width="0.5" stroke-opacity="0.8"><circle cx="426.2" cy="162.1" r="0.9"/><circle cx="427.5" cy="141.3" r="0.9"/><circle cx="426.7" cy="102.0" r="0.9"/><circle cx="430.3" cy="98.1" r="0.9"/><circle cx="428.9" cy="93.3" r="0.9"/><circle cx="430.1" cy="133.0" r="0.9"/><circle cx="425.9" cy="145.2" r="0.9"/><circle cx="429.9" cy="100.4" r="0.9"/><circle cx="421.9" cy="104.9" r="0.9"/><circle cx="422.4" cy="96.1" r="0.9"/><circle cx="423.8" cy="85.9" r="0.9"/><circle cx="423.0" cy="144.3" r="0.9"/><circle cx="422.5" cy="107.3" r="0.9"/><circle cx="425.1" cy="43.3" r="0.9"/><circle cx="427.6" cy="77.3" r="0.9"/><circle cx="427.5" cy="124.9" r="0.9"/><circle cx="422.5" cy="134.3" r="0.9"/><circle cx="431.9" cy="103.7" r="0.9"/><circle cx="425.3" cy="111.9" r="0.9"/><circle cx="430.4" cy="114.8" r="0.9"/><circle cx="431.0" cy="153.2" r="0.9"/><circle cx="428.2" cy="41.0" r="0.9"/><circle cx="427.7" cy="168.5" r="0.9"/></g>
<g fill="rgba(70,70,70,0.6)" stroke="#555" stroke-width="0.5" stroke-opacity="0.85"><circle cx="421.9" cy="95.4" r="0.9"/><circle cx="423.3" cy="49.3" r="0.9"/><circle cx="424.5" cy="99.0" r="0.9"/><circle cx="425.0" cy="134.5" r="0.9"/><circle cx="429.1" cy="103.0" r="0.9"/><circle cx="432.6" cy="74.6" r="0.9"/><circle cx="431.7" cy="95.6" r="0.9"/><circle cx="430.4" cy="135.2" r="0.9"/><circle cx="431.4" cy="134.0" r="0.9"/><circle cx="431.9" cy="143.2" r="0.9"/><circle cx="429.7" cy="82.9" r="0.9"/></g>
<line x1="478.2" y1="187.5" x2="478.2" y2="189.5" stroke="#999" stroke-width="0.7"/>
<line x1="478.5" y1="39.5" x2="478.5" y2="72.5" stroke="#b5b5b5" stroke-width="0.7" stroke-dasharray="1 1"/>
<line x1="478.5" y1="96.5" x2="478.5" y2="128.5" stroke="#b5b5b5" stroke-width="0.7" stroke-dasharray="1 1"/>
<line x1="468.5" y1="39.5" x2="488.5" y2="39.5" stroke="#8a8a8a" stroke-width="0.7"/>
<line x1="468.5" y1="128.5" x2="488.5" y2="128.5" stroke="#8a8a8a" stroke-width="0.7"/>
<rect x="457.5" y="72.5" width="41.0" height="24.0" fill="none" stroke="#a2a2a2" stroke-width="0.8"/>
<line x1="457.5" y1="84" x2="498.5" y2="84" stroke="#444" stroke-width="1.3"/>
<g fill="rgba(110,110,110,0.18)" stroke="#666" stroke-width="0.5" stroke-opacity="0.8"><circle cx="475.3" cy="83.0" r="0.9"/><circle cx="474.5" cy="124.7" r="0.9"/><circle cx="475.9" cy="95.8" r="0.9"/><circle cx="479.1" cy="46.9" r="0.9"/><circle cx="473.8" cy="48.6" r="0.9"/><circle cx="478.9" cy="88.2" r="0.9"/><circle cx="478.4" cy="83.1" r="0.9"/><circle cx="478.2" cy="72.7" r="0.9"/><circle cx="479.7" cy="79.2" r="0.9"/><circle cx="473.6" cy="77.7" r="0.9"/><circle cx="481.5" cy="109.5" r="0.9"/><circle cx="478.2" cy="82.9" r="0.9"/><circle cx="479.2" cy="39.0" r="0.9"/><circle cx="478.7" cy="128.5" r="0.9"/></g>
<g fill="rgba(70,70,70,0.6)" stroke="#555" stroke-width="0.5" stroke-opacity="0.85"><circle cx="478.2" cy="73.7" r="0.9"/><circle cx="483.4" cy="79.9" r="0.9"/></g>
<text x="317.8" y="206" font-size="8.7" text-anchor="middle" font-weight="normal" fill="#111" stroke="#111" stroke-width="0.3" textLength="29.5" lengthAdjust="spacingAndGlyphs">Cluster I</text>
<text x="374.5" y="206" font-size="8.7" text-anchor="middle" font-weight="normal" fill="#111" stroke="#111" stroke-width="0.3" textLength="32.5" lengthAdjust="spacingAndGlyphs">Cluster II</text>
<text x="426.7" y="206" font-size="8.7" text-anchor="middle" font-weight="normal" fill="#111" stroke="#111" stroke-width="0.3" textLength="34.3" lengthAdjust="spacingAndGlyphs">Cluster III</text>
<text x="480.5" y="206" font-size="8.7" text-anchor="middle" font-weight="normal" fill="#111" stroke="#111" stroke-width="0.3" textLength="35" lengthAdjust="spacingAndGlyphs">Cluster IV</text>
<text x="2.3" y="228.2" font-size="14.6" text-anchor="start" font-weight="bold" fill="#000" stroke="#000" stroke-width="0.3">C</text>
<path d="M58.5 238.79999999999998V236.2Q58.5 235.2 59.5 235.2H237Q238 235.2 238 236.2V238.79999999999998" fill="none" stroke="#555" stroke-width="0.8"/>
<text x="148.0" y="231.8" font-size="8.5" text-anchor="middle" font-weight="bold" fill="#222">*</text>
<path d="M58.5 250.2V247.6Q58.5 246.6 59.5 246.6H174.5Q175.5 246.6 175.5 247.6V250.2" fill="none" stroke="#555" stroke-width="0.8"/>
<text x="108.9" y="243.9" font-size="8.5" text-anchor="middle" font-weight="bold" fill="#222">*</text>
<text x="114.7" y="243.9" font-size="8.5" text-anchor="middle" font-weight="bold" fill="#222">*</text>
<text x="120.5" y="243.9" font-size="8.5" text-anchor="middle" font-weight="bold" fill="#222">*</text>
<path d="M58.5 262.1V259.5Q58.5 258.5 59.5 258.5H116Q117 258.5 117 259.5V262.1" fill="none" stroke="#555" stroke-width="0.8"/>
<text x="89.3" y="259.3" font-size="8.5" text-anchor="middle" font-weight="bold" fill="#222">*</text>
<rect x="38.5" y="401.5" width="47.2" height="23.0" fill="#373737" stroke="#0a0a0a" stroke-width="1.2"/>
<rect x="38.5" y="383.3" width="47.2" height="18.2" fill="#7c7c7c" stroke="#0a0a0a" stroke-width="1.2"/>
<rect x="38.5" y="332.8" width="47.2" height="50.5" fill="#ababab" stroke="#0a0a0a" stroke-width="1.2"/>
<rect x="38.5" y="269.0" width="47.2" height="63.8" fill="#dddddd" stroke="#0a0a0a" stroke-width="1.2"/>
<rect x="94.8" y="402.3" width="47.2" height="22.2" fill="#373737" stroke="#0a0a0a" stroke-width="1.2"/>
<rect x="94.8" y="373.4" width="47.2" height="28.9" fill="#7c7c7c" stroke="#0a0a0a" stroke-width="1.2"/>
<rect x="94.8" y="343.3" width="47.2" height="30.1" fill="#ababab" stroke="#0a0a0a" stroke-width="1.2"/>
<rect x="94.8" y="269.0" width="47.2" height="74.3" fill="#dddddd" stroke="#0a0a0a" stroke-width="1.2"/>
<rect x="151.5" y="418.3" width="47.2" height="6.2" fill="#7c7c7c" stroke="#0a0a0a" stroke-width="1.2"/>
<rect x="151.5" y="396.5" width="47.2" height="21.8" fill="#ababab" stroke="#0a0a0a" stroke-width="1.2"/>
<rect x="151.5" y="269.0" width="47.2" height="127.5" fill="#dddddd" stroke="#0a0a0a" stroke-width="1.2"/>
<rect x="208" y="400.4" width="47.2" height="24.1" fill="#7c7c7c" stroke="#0a0a0a" stroke-width="1.2"/>
<rect x="208" y="353.0" width="47.2" height="47.4" fill="#ababab" stroke="#0a0a0a" stroke-width="1.2"/>
<rect x="208" y="269.0" width="47.2" height="84.0" fill="#dddddd" stroke="#0a0a0a" stroke-width="1.2"/>
<path d="M27 269H29.5V424.5H27" fill="none" stroke="#111" stroke-width="1.1"/>
<line x1="27" y1="269" x2="29.5" y2="269" stroke="#111" stroke-width="1.1"/>
<text x="24.8" y="269" font-size="6.5" text-anchor="middle" font-weight="normal" fill="#222" stroke="#222" stroke-width="0.15" transform="rotate(-90 24.8 269)">1.0</text>
<line x1="27" y1="300" x2="29.5" y2="300" stroke="#111" stroke-width="1.1"/>
<text x="24.8" y="300" font-size="6.5" text-anchor="middle" font-weight="normal" fill="#222" stroke="#222" stroke-width="0.15" transform="rotate(-90 24.8 300)">0.8</text>
<line x1="27" y1="331" x2="29.5" y2="331" stroke="#111" stroke-width="1.1"/>
<text x="24.8" y="331" font-size="6.5" text-anchor="middle" font-weight="normal" fill="#222" stroke="#222" stroke-width="0.15" transform="rotate(-90 24.8 331)">0.6</text>
<line x1="27" y1="362.5" x2="29.5" y2="362.5" stroke="#111" stroke-width="1.1"/>
<text x="24.8" y="362.5" font-size="6.5" text-anchor="middle" font-weight="normal" fill="#222" stroke="#222" stroke-width="0.15" transform="rotate(-90 24.8 362.5)">0.4</text>
<line x1="27" y1="393.5" x2="29.5" y2="393.5" stroke="#111" stroke-width="1.1"/>
<text x="24.8" y="393.5" font-size="6.5" text-anchor="middle" font-weight="normal" fill="#222" stroke="#222" stroke-width="0.15" transform="rotate(-90 24.8 393.5)">0.2</text>
<line x1="27" y1="424.5" x2="29.5" y2="424.5" stroke="#111" stroke-width="1.1"/>
<text x="24.8" y="424.5" font-size="6.5" text-anchor="middle" font-weight="normal" fill="#222" stroke="#222" stroke-width="0.15" transform="rotate(-90 24.8 424.5)">0.0</text>
<text x="14.4" y="342.7" font-size="7.5" text-anchor="middle" font-weight="normal" fill="#111" stroke="#111" stroke-width="0.1" transform="rotate(-90 14.4 342.7)">% of Patients</text>
<text x="40" y="302" font-size="7.2" text-anchor="start" font-weight="normal" fill="#222" textLength="41" lengthAdjust="spacingAndGlyphs">IHC Score = 3</text>
<text x="40" y="356.5" font-size="7.2" text-anchor="start" font-weight="normal" fill="#222" textLength="41" lengthAdjust="spacingAndGlyphs">IHC Score = 2</text>
<text x="40" y="395.5" font-size="7.2" text-anchor="start" font-weight="normal" fill="#222" textLength="41" lengthAdjust="spacingAndGlyphs">IHC Score = 1</text>
<text x="40" y="420.5" font-size="7.2" text-anchor="start" font-weight="normal" fill="#fff" textLength="41" lengthAdjust="spacingAndGlyphs">IHC Score = 0</text>
<text x="60.3" y="438.5" font-size="7" text-anchor="middle" font-weight="bold" fill="#111" textLength="25.5" lengthAdjust="spacingAndGlyphs">Cluster I</text>
<text x="113.8" y="438.5" font-size="7" text-anchor="middle" font-weight="bold" fill="#111" textLength="28.5" lengthAdjust="spacingAndGlyphs">Cluster II</text>
<text x="174" y="438.5" font-size="7" text-anchor="middle" font-weight="bold" fill="#111" textLength="30" lengthAdjust="spacingAndGlyphs">Cluster III</text>
<text x="229" y="438.5" font-size="7" text-anchor="middle" font-weight="bold" fill="#111" textLength="30" lengthAdjust="spacingAndGlyphs">Cluster IV</text>
<text x="266.9" y="228" font-size="14.6" text-anchor="start" font-weight="bold" fill="#000" stroke="#000" stroke-width="0.3">D</text>
<path d="M322.4 243.6V241Q322.4 240 323.4 240H481.9Q482.9 240 482.9 241V243.6" fill="none" stroke="#4a4a4a" stroke-width="0.9"/>
<text x="396.6" y="237" font-size="8.5" text-anchor="middle" font-weight="bold" fill="#222">*</text>
<text x="402.4" y="237" font-size="8.5" text-anchor="middle" font-weight="bold" fill="#222">*</text>
<text x="408.2" y="237" font-size="8.5" text-anchor="middle" font-weight="bold" fill="#222">*</text>
<path d="M322.4 255.2V252.6Q322.4 251.6 323.4 251.6H431Q432 251.6 432 252.6V255.2" fill="none" stroke="#4a4a4a" stroke-width="0.9"/>
<text x="373.8" y="248.6" font-size="8.5" text-anchor="middle" font-weight="bold" fill="#222">*</text>
<text x="379.6" y="248.6" font-size="8.5" text-anchor="middle" font-weight="bold" fill="#222">*</text>
<text x="385.4" y="248.6" font-size="8.5" text-anchor="middle" font-weight="bold" fill="#222">*</text>
<path d="M322.4 267.1V264.5Q322.4 263.5 323.4 263.5H380Q381 263.5 381 264.5V267.1" fill="none" stroke="#4a4a4a" stroke-width="0.9"/>
<text x="349.3" y="259.9" font-size="8.5" text-anchor="middle" font-weight="bold" fill="#222">*</text>
<rect x="287" y="277.5" width="236" height="148" fill="none" stroke="#949494" stroke-width="0.9"/>
<line x1="285" y1="300.3" x2="287" y2="300.3" stroke="#999" stroke-width="0.7"/>
<text x="282.5" y="300.3" font-size="6.5" text-anchor="middle" font-weight="normal" fill="#222" stroke="#222" stroke-width="0.15" transform="rotate(-90 282.5 300.3)">0.8</text>
<line x1="285" y1="337.3" x2="287" y2="337.3" stroke="#999" stroke-width="0.7"/>
<text x="282.5" y="337.3" font-size="6.5" text-anchor="middle" font-weight="normal" fill="#222" stroke="#222" stroke-width="0.15" transform="rotate(-90 282.5 337.3)">0.6</text>
<line x1="285" y1="374.3" x2="287" y2="374.3" stroke="#999" stroke-width="0.7"/>
<text x="282.5" y="374.3" font-size="6.5" text-anchor="middle" font-weight="normal" fill="#222" stroke="#222" stroke-width="0.15" transform="rotate(-90 282.5 374.3)">0.4</text>
<line x1="285" y1="411" x2="287" y2="411" stroke="#999" stroke-width="0.7"/>
<text x="282.5" y="411" font-size="6.5" text-anchor="middle" font-weight="normal" fill="#222" stroke="#222" stroke-width="0.15" transform="rotate(-90 282.5 411)">0.2</text>
<text x="273.5" y="346.5" font-size="7" text-anchor="middle" font-weight="bold" fill="#111" transform="rotate(-90 273.5 346.5)">cg1018385</text>
<line x1="322" y1="426" x2="322" y2="428" stroke="#999" stroke-width="0.7"/>
<line x1="322.5" y1="283.5" x2="322.5" y2="303.5" stroke="#b5b5b5" stroke-width="0.7" stroke-dasharray="1 1"/>
<line x1="322.5" y1="329.5" x2="322.5" y2="367.5" stroke="#b5b5b5" stroke-width="0.7" stroke-dasharray="1 1"/>
<line x1="312.5" y1="283.5" x2="332.5" y2="283.5" stroke="#8a8a8a" stroke-width="0.7"/>
<line x1="312.5" y1="367.5" x2="332.5" y2="367.5" stroke="#8a8a8a" stroke-width="0.7"/>
<rect x="300.5" y="303.5" width="43.0" height="26.0" fill="none" stroke="#a2a2a2" stroke-width="0.8"/>
<line x1="300.5" y1="314.5" x2="343.5" y2="314.5" stroke="#444" stroke-width="1.3"/>
<g fill="rgba(110,110,110,0.18)" stroke="#666" stroke-width="0.5" stroke-opacity="0.8"><circle cx="319.2" cy="289.1" r="0.9"/><circle cx="326.8" cy="363.7" r="0.9"/><circle cx="323.8" cy="315.5" r="0.9"/><circle cx="319.9" cy="300.4" r="0.9"/><circle cx="327.3" cy="298.2" r="0.9"/><circle cx="324.5" cy="316.4" r="0.9"/><circle cx="323.5" cy="364.9" r="0.9"/><circle cx="320.4" cy="307.4" r="0.9"/><circle cx="319.0" cy="301.0" r="0.9"/><circle cx="324.1" cy="326.1" r="0.9"/><circle cx="319.5" cy="319.2" r="0.9"/><circle cx="326.5" cy="313.7" r="0.9"/><circle cx="323.3" cy="313.9" r="0.9"/><circle cx="319.6" cy="342.0" r="0.9"/><circle cx="316.9" cy="321.8" r="0.9"/><circle cx="324.7" cy="347.2" r="0.9"/><circle cx="319.2" cy="298.8" r="0.9"/><circle cx="326.9" cy="309.1" r="0.9"/><circle cx="321.0" cy="320.7" r="0.9"/><circle cx="317.8" cy="302.2" r="0.9"/><circle cx="326.8" cy="324.1" r="0.9"/><circle cx="327.5" cy="339.6" r="0.9"/><circle cx="324.9" cy="317.3" r="0.9"/><circle cx="319.5" cy="298.5" r="0.9"/><circle cx="320.0" cy="325.4" r="0.9"/><circle cx="321.5" cy="356.0" r="0.9"/><circle cx="321.7" cy="304.2" r="0.9"/><circle cx="317.3" cy="331.6" r="0.9"/><circle cx="321.3" cy="311.0" r="0.9"/><circle cx="324.7" cy="294.5" r="0.9"/><circle cx="324.0" cy="310.5" r="0.9"/><circle cx="324.3" cy="315.2" r="0.9"/><circle cx="316.7" cy="297.7" r="0.9"/><circle cx="323.0" cy="347.7" r="0.9"/><circle cx="317.8" cy="314.3" r="0.9"/><circle cx="320.9" cy="320.7" r="0.9"/><circle cx="321.3" cy="307.2" r="0.9"/><circle cx="323.4" cy="306.6" r="0.9"/><circle cx="325.0" cy="306.5" r="0.9"/><circle cx="326.2" cy="308.4" r="0.9"/><circle cx="323.9" cy="344.6" r="0.9"/><circle cx="324.5" cy="318.9" r="0.9"/><circle cx="321.3" cy="354.6" r="0.9"/><circle cx="325.0" cy="317.9" r="0.9"/><circle cx="320.3" cy="329.2" r="0.9"/><circle cx="321.1" cy="314.8" r="0.9"/><circle cx="318.7" cy="314.4" r="0.9"/><circle cx="324.3" cy="351.6" r="0.9"/><circle cx="319.3" cy="351.2" r="0.9"/><circle cx="321.9" cy="322.4" r="0.9"/><circle cx="323.8" cy="300.9" r="0.9"/><circle cx="321.1" cy="312.3" r="0.9"/><circle cx="322.3" cy="292.2" r="0.9"/><circle cx="324.1" cy="335.1" r="0.9"/><circle cx="320.7" cy="326.9" r="0.9"/><circle cx="322.4" cy="307.1" r="0.9"/><circle cx="318.1" cy="296.1" r="0.9"/><circle cx="326.8" cy="313.0" r="0.9"/><circle cx="317.4" cy="294.2" r="0.9"/><circle cx="321.9" cy="339.4" r="0.9"/><circle cx="325.5" cy="314.9" r="0.9"/><circle cx="324.2" cy="342.7" r="0.9"/><circle cx="318.9" cy="313.1" r="0.9"/><circle cx="321.4" cy="306.6" r="0.9"/><circle cx="327.4" cy="352.3" r="0.9"/><circle cx="318.2" cy="299.2" r="0.9"/><circle cx="318.4" cy="354.9" r="0.9"/><circle cx="318.9" cy="311.1" r="0.9"/><circle cx="324.2" cy="283.9" r="0.9"/><circle cx="317.2" cy="327.4" r="0.9"/><circle cx="324.2" cy="310.7" r="0.9"/><circle cx="319.7" cy="308.4" r="0.9"/><circle cx="320.5" cy="319.8" r="0.9"/><circle cx="316.7" cy="295.6" r="0.9"/><circle cx="324.1" cy="324.4" r="0.9"/><circle cx="320.8" cy="320.7" r="0.9"/><circle cx="322.3" cy="321.5" r="0.9"/><circle cx="326.3" cy="326.3" r="0.9"/><circle cx="316.9" cy="296.0" r="0.9"/><circle cx="318.6" cy="340.2" r="0.9"/><circle cx="320.9" cy="321.3" r="0.9"/><circle cx="319.2" cy="332.3" r="0.9"/><circle cx="322.7" cy="316.2" r="0.9"/><circle cx="321.6" cy="317.1" r="0.9"/><circle cx="321.4" cy="337.6" r="0.9"/><circle cx="322.9" cy="319.6" r="0.9"/><circle cx="317.3" cy="317.7" r="0.9"/><circle cx="322.6" cy="347.5" r="0.9"/><circle cx="325.5" cy="288.2" r="0.9"/><circle cx="317.1" cy="325.9" r="0.9"/><circle cx="318.7" cy="285.8" r="0.9"/><circle cx="327.0" cy="297.7" r="0.9"/><circle cx="325.6" cy="306.0" r="0.9"/><circle cx="326.8" cy="295.3" r="0.9"/><circle cx="325.6" cy="290.7" r="0.9"/><circle cx="318.5" cy="311.2" r="0.9"/><circle cx="319.1" cy="314.1" r="0.9"/><circle cx="323.9" cy="313.6" r="0.9"/><circle cx="323.9" cy="366.2" r="0.9"/><circle cx="324.4" cy="320.2" r="0.9"/><circle cx="321.9" cy="303.7" r="0.9"/><circle cx="317.0" cy="309.1" r="0.9"/><circle cx="320.1" cy="290.4" r="0.9"/><circle cx="318.6" cy="318.1" r="0.9"/><circle cx="326.0" cy="315.7" r="0.9"/><circle cx="325.8" cy="297.7" r="0.9"/><circle cx="324.9" cy="325.7" r="0.9"/><circle cx="325.6" cy="315.3" r="0.9"/><circle cx="316.8" cy="293.4" r="0.9"/><circle cx="317.0" cy="332.7" r="0.9"/><circle cx="316.9" cy="363.9" r="0.9"/><circle cx="317.7" cy="294.9" r="0.9"/><circle cx="318.4" cy="286.4" r="0.9"/><circle cx="318.1" cy="320.1" r="0.9"/><circle cx="320.8" cy="322.1" r="0.9"/><circle cx="323.3" cy="303.5" r="0.9"/><circle cx="323.0" cy="283.0" r="0.9"/><circle cx="322.5" cy="367.0" r="0.9"/><circle cx="324.0" cy="375.0" r="0.9"/><circle cx="323.0" cy="383.0" r="0.9"/><circle cx="320.0" cy="397.0" r="0.9"/><circle cx="324.0" cy="396.0" r="0.9"/><circle cx="321.0" cy="408.0" r="0.9"/><circle cx="325.0" cy="408.0" r="0.9"/><circle cx="320.0" cy="416.0" r="0.9"/><circle cx="324.0" cy="417.0" r="0.9"/><circle cx="321.0" cy="420.0" r="0.9"/></g>
<g fill="rgba(70,70,70,0.6)" stroke="#555" stroke-width="0.5" stroke-opacity="0.85"><circle cx="325.3" cy="359.9" r="0.9"/><circle cx="320.3" cy="339.1" r="0.9"/><circle cx="325.1" cy="298.4" r="0.9"/><circle cx="326.9" cy="296.7" r="0.9"/><circle cx="317.1" cy="303.8" r="0.9"/><circle cx="324.9" cy="310.9" r="0.9"/><circle cx="317.7" cy="292.4" r="0.9"/><circle cx="326.0" cy="305.5" r="0.9"/><circle cx="324.3" cy="344.3" r="0.9"/><circle cx="326.4" cy="307.3" r="0.9"/><circle cx="318.9" cy="341.0" r="0.9"/><circle cx="325.5" cy="340.4" r="0.9"/><circle cx="322.5" cy="322.9" r="0.9"/><circle cx="320.1" cy="344.1" r="0.9"/><circle cx="319.5" cy="328.8" r="0.9"/><circle cx="320.4" cy="365.3" r="0.9"/><circle cx="321.2" cy="337.8" r="0.9"/><circle cx="320.5" cy="338.0" r="0.9"/><circle cx="322.9" cy="293.9" r="0.9"/><circle cx="327.3" cy="296.5" r="0.9"/><circle cx="318.4" cy="300.0" r="0.9"/><circle cx="319.5" cy="309.8" r="0.9"/><circle cx="322.1" cy="292.4" r="0.9"/><circle cx="324.8" cy="313.2" r="0.9"/><circle cx="324.1" cy="355.1" r="0.9"/><circle cx="327.4" cy="327.7" r="0.9"/><circle cx="319.9" cy="348.8" r="0.9"/><circle cx="317.3" cy="366.6" r="0.9"/><circle cx="320.8" cy="332.3" r="0.9"/><circle cx="323.0" cy="358.1" r="0.9"/><circle cx="318.9" cy="314.8" r="0.9"/><circle cx="319.7" cy="295.4" r="0.9"/><circle cx="318.5" cy="301.3" r="0.9"/><circle cx="324.9" cy="322.0" r="0.9"/><circle cx="320.0" cy="372.0" r="0.9"/><circle cx="319.0" cy="380.0" r="0.9"/><circle cx="321.0" cy="388.0" r="0.9"/><circle cx="324.0" cy="392.0" r="0.9"/><circle cx="324.0" cy="420.0" r="0.9"/></g>
<line x1="375.7" y1="426" x2="375.7" y2="428" stroke="#999" stroke-width="0.7"/>
<line x1="375.5" y1="285.5" x2="375.5" y2="309.5" stroke="#b5b5b5" stroke-width="0.7" stroke-dasharray="1 1"/>
<line x1="375.5" y1="344.5" x2="375.5" y2="396.5" stroke="#b5b5b5" stroke-width="0.7" stroke-dasharray="1 1"/>
<line x1="365.5" y1="285.5" x2="385.5" y2="285.5" stroke="#8a8a8a" stroke-width="0.7"/>
<line x1="365.5" y1="396.5" x2="385.5" y2="396.5" stroke="#8a8a8a" stroke-width="0.7"/>
<rect x="354.5" y="309.5" width="43.0" height="35.0" fill="none" stroke="#a2a2a2" stroke-width="0.8"/>
<line x1="354.5" y1="326.5" x2="397.5" y2="326.5" stroke="#444" stroke-width="1.3"/>
<g fill="rgba(110,110,110,0.18)" stroke="#666" stroke-width="0.5" stroke-opacity="0.8"><circle cx="371.7" cy="296.8" r="0.9"/><circle cx="370.9" cy="303.1" r="0.9"/><circle cx="380.5" cy="327.4" r="0.9"/><circle cx="378.8" cy="311.5" r="0.9"/><circle cx="373.5" cy="335.0" r="0.9"/><circle cx="373.7" cy="376.6" r="0.9"/><circle cx="378.9" cy="342.8" r="0.9"/><circle cx="376.2" cy="288.8" r="0.9"/><circle cx="376.3" cy="357.4" r="0.9"/><circle cx="371.5" cy="334.8" r="0.9"/><circle cx="375.7" cy="307.0" r="0.9"/><circle cx="374.3" cy="333.1" r="0.9"/><circle cx="371.6" cy="299.7" r="0.9"/><circle cx="376.9" cy="337.3" r="0.9"/><circle cx="380.9" cy="390.1" r="0.9"/><circle cx="374.3" cy="320.3" r="0.9"/><circle cx="377.3" cy="315.4" r="0.9"/><circle cx="379.5" cy="315.2" r="0.9"/><circle cx="374.4" cy="388.4" r="0.9"/><circle cx="373.7" cy="331.0" r="0.9"/><circle cx="373.5" cy="307.2" r="0.9"/><circle cx="371.8" cy="311.0" r="0.9"/><circle cx="371.1" cy="342.6" r="0.9"/><circle cx="372.7" cy="322.3" r="0.9"/><circle cx="372.4" cy="369.1" r="0.9"/><circle cx="373.3" cy="316.4" r="0.9"/><circle cx="371.5" cy="349.5" r="0.9"/><circle cx="370.4" cy="299.7" r="0.9"/><circle cx="373.7" cy="319.5" r="0.9"/><circle cx="380.9" cy="293.8" r="0.9"/><circle cx="379.1" cy="328.8" r="0.9"/><circle cx="371.2" cy="287.8" r="0.9"/><circle cx="381.1" cy="311.7" r="0.9"/><circle cx="378.8" cy="369.1" r="0.9"/><circle cx="378.0" cy="318.0" r="0.9"/><circle cx="378.9" cy="336.8" r="0.9"/><circle cx="370.7" cy="348.3" r="0.9"/><circle cx="375.0" cy="292.8" r="0.9"/><circle cx="373.3" cy="318.9" r="0.9"/><circle cx="379.9" cy="287.7" r="0.9"/><circle cx="376.7" cy="306.3" r="0.9"/><circle cx="375.9" cy="333.9" r="0.9"/><circle cx="377.6" cy="291.5" r="0.9"/><circle cx="376.1" cy="299.6" r="0.9"/><circle cx="379.3" cy="352.8" r="0.9"/><circle cx="379.2" cy="364.2" r="0.9"/><circle cx="375.4" cy="306.9" r="0.9"/><circle cx="377.3" cy="291.2" r="0.9"/><circle cx="374.3" cy="317.2" r="0.9"/><circle cx="378.0" cy="321.0" r="0.9"/><circle cx="370.6" cy="293.9" r="0.9"/><circle cx="379.4" cy="307.6" r="0.9"/><circle cx="374.4" cy="305.2" r="0.9"/><circle cx="378.6" cy="297.4" r="0.9"/><circle cx="371.1" cy="304.1" r="0.9"/><circle cx="374.1" cy="316.9" r="0.9"/><circle cx="373.1" cy="322.9" r="0.9"/><circle cx="380.8" cy="375.8" r="0.9"/><circle cx="372.4" cy="370.3" r="0.9"/><circle cx="375.1" cy="352.4" r="0.9"/><circle cx="380.1" cy="355.1" r="0.9"/><circle cx="373.3" cy="347.1" r="0.9"/><circle cx="380.6" cy="316.3" r="0.9"/><circle cx="371.0" cy="341.3" r="0.9"/><circle cx="372.7" cy="293.5" r="0.9"/><circle cx="376.2" cy="302.1" r="0.9"/><circle cx="373.4" cy="318.9" r="0.9"/><circle cx="375.6" cy="293.4" r="0.9"/><circle cx="376.7" cy="285.5" r="0.9"/><circle cx="376.2" cy="396.5" r="0.9"/></g>
<g fill="rgba(70,70,70,0.6)" stroke="#555" stroke-width="0.5" stroke-opacity="0.85"><circle cx="375.1" cy="330.3" r="0.9"/><circle cx="375.4" cy="304.9" r="0.9"/><circle cx="370.7" cy="355.2" r="0.9"/><circle cx="371.0" cy="361.2" r="0.9"/><circle cx="378.4" cy="311.9" r="0.9"/><circle cx="377.9" cy="355.4" r="0.9"/><circle cx="377.2" cy="327.0" r="0.9"/><circle cx="379.7" cy="325.1" r="0.9"/><circle cx="380.7" cy="342.6" r="0.9"/><circle cx="376.0" cy="329.3" r="0.9"/><circle cx="379.0" cy="366.5" r="0.9"/><circle cx="381.1" cy="326.6" r="0.9"/><circle cx="372.0" cy="347.6" r="0.9"/><circle cx="375.0" cy="340.5" r="0.9"/><circle cx="371.8" cy="318.9" r="0.9"/><circle cx="373.6" cy="294.2" r="0.9"/><circle cx="378.3" cy="303.6" r="0.9"/></g>
<line x1="430.2" y1="426" x2="430.2" y2="428" stroke="#999" stroke-width="0.7"/>
<line x1="430.5" y1="289.5" x2="430.5" y2="320.5" stroke="#b5b5b5" stroke-width="0.7" stroke-dasharray="1 1"/>
<line x1="430.5" y1="365.5" x2="430.5" y2="412.5" stroke="#b5b5b5" stroke-width="0.7" stroke-dasharray="1 1"/>
<line x1="420.5" y1="289.5" x2="440.5" y2="289.5" stroke="#8a8a8a" stroke-width="0.7"/>
<line x1="420.5" y1="412.5" x2="440.5" y2="412.5" stroke="#8a8a8a" stroke-width="0.7"/>
<rect x="408.5" y="320.5" width="43.0" height="45.0" fill="none" stroke="#a2a2a2" stroke-width="0.8"/>
<line x1="408.5" y1="339.5" x2="451.5" y2="339.5" stroke="#444" stroke-width="1.3"/>
<g fill="rgba(110,110,110,0.18)" stroke="#666" stroke-width="0.5" stroke-opacity="0.8"><circle cx="425.7" cy="366.0" r="0.9"/><circle cx="425.2" cy="315.6" r="0.9"/><circle cx="435.3" cy="322.4" r="0.9"/><circle cx="432.9" cy="387.5" r="0.9"/><circle cx="430.5" cy="378.1" r="0.9"/><circle cx="433.9" cy="361.2" r="0.9"/><circle cx="430.1" cy="316.4" r="0.9"/><circle cx="434.6" cy="341.3" r="0.9"/><circle cx="429.8" cy="360.4" r="0.9"/><circle cx="430.7" cy="310.7" r="0.9"/><circle cx="427.4" cy="311.2" r="0.9"/><circle cx="432.3" cy="311.5" r="0.9"/><circle cx="434.2" cy="366.5" r="0.9"/><circle cx="431.5" cy="358.5" r="0.9"/><circle cx="425.5" cy="326.9" r="0.9"/><circle cx="432.2" cy="340.9" r="0.9"/><circle cx="433.6" cy="393.7" r="0.9"/><circle cx="429.8" cy="411.5" r="0.9"/><circle cx="434.2" cy="309.4" r="0.9"/><circle cx="424.8" cy="348.9" r="0.9"/><circle cx="431.2" cy="411.3" r="0.9"/><circle cx="429.8" cy="411.6" r="0.9"/><circle cx="428.3" cy="366.0" r="0.9"/><circle cx="429.0" cy="339.4" r="0.9"/><circle cx="425.8" cy="333.6" r="0.9"/><circle cx="426.1" cy="328.0" r="0.9"/><circle cx="424.9" cy="345.4" r="0.9"/><circle cx="427.9" cy="337.5" r="0.9"/><circle cx="428.5" cy="341.2" r="0.9"/><circle cx="434.2" cy="355.0" r="0.9"/><circle cx="426.1" cy="340.9" r="0.9"/><circle cx="435.6" cy="361.3" r="0.9"/><circle cx="431.6" cy="378.7" r="0.9"/><circle cx="435.4" cy="343.0" r="0.9"/><circle cx="435.5" cy="346.5" r="0.9"/><circle cx="432.1" cy="321.8" r="0.9"/><circle cx="428.0" cy="324.6" r="0.9"/><circle cx="432.0" cy="347.8" r="0.9"/><circle cx="434.8" cy="406.8" r="0.9"/><circle cx="425.7" cy="336.2" r="0.9"/><circle cx="425.8" cy="341.5" r="0.9"/><circle cx="430.5" cy="382.2" r="0.9"/><circle cx="434.5" cy="291.6" r="0.9"/><circle cx="425.0" cy="386.3" r="0.9"/><circle cx="430.5" cy="340.5" r="0.9"/><circle cx="432.6" cy="370.9" r="0.9"/><circle cx="433.2" cy="348.1" r="0.9"/><circle cx="430.5" cy="350.3" r="0.9"/><circle cx="428.7" cy="335.2" r="0.9"/><circle cx="433.0" cy="319.9" r="0.9"/><circle cx="426.5" cy="368.4" r="0.9"/><circle cx="435.2" cy="308.9" r="0.9"/><circle cx="427.1" cy="324.9" r="0.9"/><circle cx="429.3" cy="312.7" r="0.9"/><circle cx="428.2" cy="338.6" r="0.9"/><circle cx="425.0" cy="370.3" r="0.9"/><circle cx="425.3" cy="362.2" r="0.9"/><circle cx="432.3" cy="345.5" r="0.9"/><circle cx="426.4" cy="376.9" r="0.9"/><circle cx="425.4" cy="317.7" r="0.9"/><circle cx="434.4" cy="321.3" r="0.9"/><circle cx="428.6" cy="322.1" r="0.9"/><circle cx="431.9" cy="308.7" r="0.9"/><circle cx="429.6" cy="291.4" r="0.9"/><circle cx="427.4" cy="384.6" r="0.9"/><circle cx="424.7" cy="335.6" r="0.9"/><circle cx="426.9" cy="375.9" r="0.9"/><circle cx="425.2" cy="302.5" r="0.9"/><circle cx="434.4" cy="315.9" r="0.9"/><circle cx="426.0" cy="351.9" r="0.9"/><circle cx="433.5" cy="356.2" r="0.9"/><circle cx="426.3" cy="372.6" r="0.9"/><circle cx="434.2" cy="321.0" r="0.9"/><circle cx="430.1" cy="360.5" r="0.9"/><circle cx="433.6" cy="404.1" r="0.9"/><circle cx="433.1" cy="291.4" r="0.9"/><circle cx="427.9" cy="339.2" r="0.9"/><circle cx="435.4" cy="337.0" r="0.9"/><circle cx="432.1" cy="341.2" r="0.9"/><circle cx="431.0" cy="372.3" r="0.9"/><circle cx="429.3" cy="292.2" r="0.9"/><circle cx="429.7" cy="405.2" r="0.9"/><circle cx="433.4" cy="321.5" r="0.9"/><circle cx="426.3" cy="350.1" r="0.9"/><circle cx="426.0" cy="321.7" r="0.9"/><circle cx="433.8" cy="293.9" r="0.9"/><circle cx="430.8" cy="362.0" r="0.9"/><circle cx="431.1" cy="318.0" r="0.9"/><circle cx="425.2" cy="355.9" r="0.9"/><circle cx="431.2" cy="289.7" r="0.9"/><circle cx="430.7" cy="412.0" r="0.9"/></g>
<g fill="rgba(70,70,70,0.6)" stroke="#555" stroke-width="0.5" stroke-opacity="0.85"><circle cx="434.6" cy="317.2" r="0.9"/><circle cx="431.7" cy="347.9" r="0.9"/><circle cx="427.2" cy="296.2" r="0.9"/><circle cx="434.0" cy="408.5" r="0.9"/><circle cx="425.5" cy="391.9" r="0.9"/><circle cx="432.1" cy="386.3" r="0.9"/><circle cx="428.7" cy="357.5" r="0.9"/><circle cx="433.5" cy="350.5" r="0.9"/><circle cx="426.9" cy="339.1" r="0.9"/><circle cx="427.6" cy="330.5" r="0.9"/><circle cx="433.2" cy="336.0" r="0.9"/><circle cx="434.5" cy="326.0" r="0.9"/><circle cx="430.7" cy="408.4" r="0.9"/><circle cx="432.6" cy="353.5" r="0.9"/><circle cx="430.8" cy="325.8" r="0.9"/><circle cx="426.6" cy="339.2" r="0.9"/><circle cx="427.0" cy="364.0" r="0.9"/><circle cx="433.5" cy="306.4" r="0.9"/><circle cx="426.2" cy="343.1" r="0.9"/><circle cx="427.7" cy="408.5" r="0.9"/><circle cx="435.1" cy="315.7" r="0.9"/></g>
<line x1="484.2" y1="426" x2="484.2" y2="428" stroke="#999" stroke-width="0.7"/>
<line x1="484.5" y1="283.5" x2="484.5" y2="318.5" stroke="#b5b5b5" stroke-width="0.7" stroke-dasharray="1 1"/>
<line x1="484.5" y1="353.5" x2="484.5" y2="393.5" stroke="#b5b5b5" stroke-width="0.7" stroke-dasharray="1 1"/>
<line x1="474.5" y1="283.5" x2="494.5" y2="283.5" stroke="#8a8a8a" stroke-width="0.7"/>
<line x1="474.5" y1="393.5" x2="494.5" y2="393.5" stroke="#8a8a8a" stroke-width="0.7"/>
<rect x="462.5" y="318.5" width="43.0" height="35.0" fill="none" stroke="#a2a2a2" stroke-width="0.8"/>
<line x1="462.5" y1="333.0" x2="505.5" y2="333.0" stroke="#444" stroke-width="1.3"/>
<g fill="rgba(110,110,110,0.18)" stroke="#666" stroke-width="0.5" stroke-opacity="0.8"><circle cx="485.5" cy="332.9" r="0.9"/><circle cx="485.3" cy="382.8" r="0.9"/><circle cx="484.3" cy="320.9" r="0.9"/><circle cx="484.4" cy="289.0" r="0.9"/><circle cx="478.8" cy="370.5" r="0.9"/><circle cx="485.7" cy="371.2" r="0.9"/><circle cx="480.0" cy="331.1" r="0.9"/><circle cx="484.8" cy="342.7" r="0.9"/><circle cx="489.2" cy="366.3" r="0.9"/><circle cx="484.7" cy="338.6" r="0.9"/><circle cx="484.1" cy="366.3" r="0.9"/><circle cx="481.2" cy="320.8" r="0.9"/><circle cx="485.3" cy="324.6" r="0.9"/><circle cx="483.9" cy="327.5" r="0.9"/><circle cx="489.4" cy="362.9" r="0.9"/><circle cx="481.5" cy="339.9" r="0.9"/><circle cx="485.1" cy="369.3" r="0.9"/><circle cx="489.6" cy="357.1" r="0.9"/><circle cx="481.7" cy="315.3" r="0.9"/><circle cx="488.0" cy="309.5" r="0.9"/><circle cx="479.3" cy="301.0" r="0.9"/><circle cx="489.4" cy="325.6" r="0.9"/><circle cx="485.2" cy="350.5" r="0.9"/><circle cx="482.8" cy="363.0" r="0.9"/><circle cx="488.9" cy="320.1" r="0.9"/><circle cx="484.1" cy="321.4" r="0.9"/><circle cx="479.7" cy="365.1" r="0.9"/><circle cx="487.0" cy="303.8" r="0.9"/><circle cx="483.7" cy="373.2" r="0.9"/><circle cx="485.2" cy="283.0" r="0.9"/><circle cx="484.7" cy="393.0" r="0.9"/></g>
<g fill="rgba(70,70,70,0.6)" stroke="#555" stroke-width="0.5" stroke-opacity="0.85"><circle cx="478.9" cy="319.8" r="0.9"/><circle cx="485.5" cy="347.7" r="0.9"/><circle cx="486.0" cy="344.2" r="0.9"/><circle cx="486.1" cy="334.9" r="0.9"/><circle cx="489.4" cy="341.8" r="0.9"/><circle cx="488.5" cy="320.9" r="0.9"/><circle cx="482.6" cy="320.9" r="0.9"/><circle cx="486.2" cy="342.0" r="0.9"/><circle cx="481.6" cy="331.0" r="0.9"/><circle cx="484.9" cy="344.2" r="0.9"/><circle cx="486.3" cy="309.7" r="0.9"/></g>
<text x="323.7" y="443" font-size="7" text-anchor="middle" font-weight="bold" fill="#111" textLength="25" lengthAdjust="spacingAndGlyphs">Cluster I</text>
<text x="378" y="443" font-size="7" text-anchor="middle" font-weight="bold" fill="#111" textLength="27.5" lengthAdjust="spacingAndGlyphs">Cluster II</text>
<text x="429" y="443" font-size="7" text-anchor="middle" font-weight="bold" fill="#111" textLength="30.5" lengthAdjust="spacingAndGlyphs">Cluster III</text>
<text x="482.5" y="443" font-size="7" text-anchor="middle" font-weight="bold" fill="#111" textLength="30" lengthAdjust="spacingAndGlyphs">Cluster IV</text>
<text x="2.4" y="457.2" font-size="14.6" text-anchor="start" font-weight="bold" fill="#000" stroke="#000" stroke-width="0.3">E</text>
<defs><filter id="blur3" x="-20%" y="-20%" width="140%" height="140%"><feGaussianBlur stdDeviation="2.5"/></filter><filter id="blur2" x="-20%" y="-20%" width="140%" height="140%"><feGaussianBlur stdDeviation="2"/></filter></defs>
<clipPath id="clip0"><rect x="26.3" y="453" width="67.9" height="65"/></clipPath>
<g clip-path="url(#clip0)">
<rect x="26.3" y="453" width="67.9" height="65" fill="#bbc1ec"/>
<ellipse cx="62.0" cy="476.2" rx="3.2" ry="3.0" fill="#dcdef3" opacity="0.72" transform="rotate(54 62.0 476.2)"/>
<ellipse cx="82.6" cy="482.8" rx="3.7" ry="3.3" fill="#dcdef3" opacity="0.50" transform="rotate(108 82.6 482.8)"/>
<ellipse cx="55.5" cy="497.4" rx="3.3" ry="3.1" fill="#b4b9e2" opacity="0.69" transform="rotate(89 55.5 497.4)"/>
<ellipse cx="67.4" cy="502.1" rx="3.3" ry="2.7" fill="#dcdef3" opacity="0.70" transform="rotate(28 67.4 502.1)"/>
<ellipse cx="69.0" cy="460.7" rx="2.7" ry="1.8" fill="#dcdef3" opacity="0.45" transform="rotate(100 69.0 460.7)"/>
<ellipse cx="46.8" cy="500.3" rx="4.3" ry="2.5" fill="#dcdef3" opacity="0.42" transform="rotate(138 46.8 500.3)"/>
<ellipse cx="30.9" cy="468.2" rx="4.3" ry="3.0" fill="#dcdef3" opacity="0.59" transform="rotate(3 30.9 468.2)"/>
<ellipse cx="65.0" cy="465.0" rx="3.6" ry="1.9" fill="#dcdef3" opacity="0.51" transform="rotate(142 65.0 465.0)"/>
<ellipse cx="59.9" cy="480.1" rx="3.9" ry="2.7" fill="#d3d6ef" opacity="0.56" transform="rotate(152 59.9 480.1)"/>
<ellipse cx="62.4" cy="510.2" rx="5.0" ry="3.2" fill="#b4b9e2" opacity="0.76" transform="rotate(95 62.4 510.2)"/>
<ellipse cx="66.1" cy="457.5" rx="2.9" ry="2.8" fill="#dcdef3" opacity="0.62" transform="rotate(109 66.1 457.5)"/>
<ellipse cx="55.4" cy="468.6" rx="2.9" ry="2.9" fill="#dcdef3" opacity="0.53" transform="rotate(56 55.4 468.6)"/>
<ellipse cx="56.7" cy="480.9" rx="3.9" ry="3.0" fill="#b4b9e2" opacity="0.72" transform="rotate(131 56.7 480.9)"/>
<ellipse cx="92.3" cy="482.2" rx="3.3" ry="2.8" fill="#d3d6ef" opacity="0.48" transform="rotate(48 92.3 482.2)"/>
<ellipse cx="42.1" cy="505.2" rx="3.3" ry="2.1" fill="#d3d6ef" opacity="0.66" transform="rotate(97 42.1 505.2)"/>
<ellipse cx="79.7" cy="457.9" rx="5.0" ry="1.7" fill="#b4b9e2" opacity="0.51" transform="rotate(3 79.7 457.9)"/>
<ellipse cx="86.1" cy="457.4" rx="2.9" ry="3.4" fill="#b4b9e2" opacity="0.61" transform="rotate(112 86.1 457.4)"/>
<ellipse cx="91.0" cy="511.6" rx="4.7" ry="3.0" fill="#dcdef3" opacity="0.60" transform="rotate(147 91.0 511.6)"/>
<ellipse cx="45.9" cy="496.3" rx="2.4" ry="2.0" fill="#dcdef3" opacity="0.79" transform="rotate(108 45.9 496.3)"/>
<ellipse cx="70.9" cy="491.2" rx="3.4" ry="2.3" fill="#dcdef3" opacity="0.63" transform="rotate(157 70.9 491.2)"/>
<ellipse cx="38.5" cy="472.0" rx="3.7" ry="2.7" fill="#d3d6ef" opacity="0.67" transform="rotate(8 38.5 472.0)"/>
<ellipse cx="90.4" cy="483.4" rx="2.6" ry="3.0" fill="#b4b9e2" opacity="0.45" transform="rotate(108 90.4 483.4)"/>
<ellipse cx="44.4" cy="490.8" rx="2.7" ry="1.6" fill="#b4b9e2" opacity="0.63" transform="rotate(27 44.4 490.8)"/>
<ellipse cx="43.5" cy="460.7" rx="2.1" ry="2.6" fill="#b4b9e2" opacity="0.68" transform="rotate(148 43.5 460.7)"/>
<ellipse cx="35.8" cy="477.4" rx="3.0" ry="2.9" fill="#d3d6ef" opacity="0.70" transform="rotate(128 35.8 477.4)"/>
<ellipse cx="39.6" cy="481.1" rx="3.2" ry="1.7" fill="#dcdef3" opacity="0.46" transform="rotate(69 39.6 481.1)"/>
<ellipse cx="52.0" cy="474.8" rx="3.1" ry="1.8" fill="#d3d6ef" opacity="0.66" transform="rotate(52 52.0 474.8)"/>
<ellipse cx="79.6" cy="470.1" rx="2.5" ry="3.3" fill="#dcdef3" opacity="0.75" transform="rotate(127 79.6 470.1)"/>
<ellipse cx="83.4" cy="512.4" rx="4.8" ry="2.3" fill="#b4b9e2" opacity="0.58" transform="rotate(5 83.4 512.4)"/>
<ellipse cx="64.8" cy="479.0" rx="3.1" ry="3.4" fill="#d3d6ef" opacity="0.43" transform="rotate(76 64.8 479.0)"/>
<ellipse cx="59.2" cy="507.7" rx="3.9" ry="1.8" fill="#b4b9e2" opacity="0.53" transform="rotate(124 59.2 507.7)"/>
<ellipse cx="36.9" cy="490.5" rx="4.2" ry="2.0" fill="#b4b9e2" opacity="0.52" transform="rotate(172 36.9 490.5)"/>
<ellipse cx="50.0" cy="468.8" rx="3.6" ry="2.8" fill="#dcdef3" opacity="0.73" transform="rotate(114 50.0 468.8)"/>
<ellipse cx="79.3" cy="506.5" rx="4.1" ry="3.2" fill="#b4b9e2" opacity="0.42" transform="rotate(32 79.3 506.5)"/>
<ellipse cx="46.9" cy="464.8" rx="2.9" ry="1.7" fill="#dcdef3" opacity="0.67" transform="rotate(136 46.9 464.8)"/>
<ellipse cx="88.7" cy="496.8" rx="4.8" ry="2.5" fill="#b4b9e2" opacity="0.46" transform="rotate(88 88.7 496.8)"/>
<ellipse cx="46.5" cy="504.0" rx="3.5" ry="2.5" fill="#d3d6ef" opacity="0.51" transform="rotate(124 46.5 504.0)"/>
<ellipse cx="28.7" cy="465.5" rx="4.9" ry="2.8" fill="#b4b9e2" opacity="0.62" transform="rotate(28 28.7 465.5)"/>
<ellipse cx="31.3" cy="513.8" rx="4.8" ry="3.5" fill="#b4b9e2" opacity="0.45" transform="rotate(48 31.3 513.8)"/>
<ellipse cx="36.4" cy="459.8" rx="4.8" ry="2.4" fill="#b4b9e2" opacity="0.61" transform="rotate(1 36.4 459.8)"/>
<ellipse cx="65.0" cy="504.8" rx="3.2" ry="2.1" fill="#dcdef3" opacity="0.71" transform="rotate(94 65.0 504.8)"/>
<ellipse cx="46.0" cy="478.5" rx="2.0" ry="1.6" fill="#dcdef3" opacity="0.55" transform="rotate(141 46.0 478.5)"/>
<ellipse cx="46.9" cy="517.9" rx="2.1" ry="3.1" fill="#dcdef3" opacity="0.63" transform="rotate(143 46.9 517.9)"/>
<ellipse cx="68.9" cy="459.3" rx="4.7" ry="2.4" fill="#b4b9e2" opacity="0.48" transform="rotate(88 68.9 459.3)"/>
<ellipse cx="55.4" cy="487.2" rx="2.2" ry="2.0" fill="#b4b9e2" opacity="0.65" transform="rotate(176 55.4 487.2)"/>
<ellipse cx="93.1" cy="503.6" rx="1.5" ry="0.9" fill="#6c72b8" opacity="0.60" transform="rotate(143 93.1 503.6)"/>
<ellipse cx="48.4" cy="486.4" rx="1.1" ry="1.0" fill="#6068b0" opacity="0.61" transform="rotate(114 48.4 486.4)"/>
<ellipse cx="61.1" cy="502.0" rx="1.5" ry="0.9" fill="#8a90cf" opacity="0.71" transform="rotate(54 61.1 502.0)"/>
<ellipse cx="51.9" cy="502.6" rx="1.1" ry="0.9" fill="#8a90cf" opacity="0.85" transform="rotate(117 51.9 502.6)"/>
<ellipse cx="56.8" cy="498.2" rx="1.4" ry="0.9" fill="#959bd4" opacity="0.68" transform="rotate(156 56.8 498.2)"/>
<ellipse cx="37.1" cy="512.3" rx="1.0" ry="1.2" fill="#6068b0" opacity="0.82" transform="rotate(125 37.1 512.3)"/>
<ellipse cx="74.3" cy="462.0" rx="1.3" ry="0.9" fill="#6068b0" opacity="0.70" transform="rotate(137 74.3 462.0)"/>
<ellipse cx="31.1" cy="493.2" rx="0.9" ry="1.0" fill="#959bd4" opacity="0.74" transform="rotate(141 31.1 493.2)"/>
<ellipse cx="57.2" cy="511.0" rx="1.3" ry="0.7" fill="#7a80c6" opacity="0.89" transform="rotate(96 57.2 511.0)"/>
<ellipse cx="28.5" cy="506.2" rx="1.1" ry="0.9" fill="#6068b0" opacity="0.74" transform="rotate(157 28.5 506.2)"/>
<ellipse cx="80.2" cy="471.3" rx="1.1" ry="0.9" fill="#6068b0" opacity="0.74" transform="rotate(148 80.2 471.3)"/>
<ellipse cx="28.7" cy="512.0" rx="1.4" ry="1.1" fill="#8a90cf" opacity="0.70" transform="rotate(29 28.7 512.0)"/>
<ellipse cx="47.4" cy="513.1" rx="1.3" ry="0.8" fill="#8a90cf" opacity="0.63" transform="rotate(172 47.4 513.1)"/>
<ellipse cx="60.2" cy="516.1" rx="1.2" ry="1.0" fill="#6068b0" opacity="0.92" transform="rotate(69 60.2 516.1)"/>
<ellipse cx="84.3" cy="499.6" rx="0.9" ry="0.7" fill="#8a90cf" opacity="0.71" transform="rotate(69 84.3 499.6)"/>
<ellipse cx="52.6" cy="515.0" rx="1.3" ry="1.2" fill="#6068b0" opacity="0.62" transform="rotate(177 52.6 515.0)"/>
<ellipse cx="58.4" cy="459.3" rx="1.0" ry="1.0" fill="#6068b0" opacity="0.87" transform="rotate(30 58.4 459.3)"/>
<ellipse cx="85.7" cy="463.5" rx="1.0" ry="1.0" fill="#6c72b8" opacity="0.79" transform="rotate(85 85.7 463.5)"/>
<ellipse cx="40.0" cy="482.6" rx="1.4" ry="1.1" fill="#6068b0" opacity="0.83" transform="rotate(19 40.0 482.6)"/>
<ellipse cx="29.5" cy="466.2" rx="1.6" ry="0.9" fill="#6c72b8" opacity="0.89" transform="rotate(126 29.5 466.2)"/>
<ellipse cx="76.4" cy="496.7" rx="1.1" ry="1.0" fill="#6068b0" opacity="0.83" transform="rotate(62 76.4 496.7)"/>
<ellipse cx="90.1" cy="461.6" rx="1.0" ry="1.1" fill="#8a90cf" opacity="0.87" transform="rotate(156 90.1 461.6)"/>
<ellipse cx="33.6" cy="488.4" rx="1.4" ry="1.1" fill="#959bd4" opacity="0.69" transform="rotate(160 33.6 488.4)"/>
<ellipse cx="92.7" cy="498.9" rx="1.0" ry="0.9" fill="#6068b0" opacity="0.95" transform="rotate(31 92.7 498.9)"/>
<ellipse cx="81.7" cy="516.1" rx="1.5" ry="0.8" fill="#6c72b8" opacity="0.78" transform="rotate(119 81.7 516.1)"/>
<ellipse cx="45.1" cy="457.7" rx="1.0" ry="1.2" fill="#7a80c6" opacity="0.93" transform="rotate(18 45.1 457.7)"/>
<ellipse cx="73.2" cy="455.8" rx="0.9" ry="1.1" fill="#6068b0" opacity="0.90" transform="rotate(25 73.2 455.8)"/>
<ellipse cx="38.1" cy="471.9" rx="1.1" ry="0.8" fill="#6c72b8" opacity="0.74" transform="rotate(172 38.1 471.9)"/>
<ellipse cx="27.7" cy="497.7" rx="1.1" ry="1.1" fill="#8a90cf" opacity="0.70" transform="rotate(121 27.7 497.7)"/>
<ellipse cx="37.9" cy="502.4" rx="1.3" ry="1.1" fill="#6068b0" opacity="0.77" transform="rotate(75 37.9 502.4)"/>
<ellipse cx="64.8" cy="494.2" rx="1.2" ry="0.8" fill="#6068b0" opacity="0.91" transform="rotate(89 64.8 494.2)"/>
<ellipse cx="52.0" cy="460.2" rx="1.3" ry="0.9" fill="#7a80c6" opacity="0.90" transform="rotate(63 52.0 460.2)"/>
<ellipse cx="73.3" cy="498.9" rx="1.0" ry="0.9" fill="#8a90cf" opacity="0.82" transform="rotate(46 73.3 498.9)"/>
<ellipse cx="43.3" cy="503.5" rx="1.0" ry="1.1" fill="#6c72b8" opacity="0.82" transform="rotate(84 43.3 503.5)"/>
<ellipse cx="85.7" cy="477.8" rx="1.2" ry="0.8" fill="#6068b0" opacity="0.86" transform="rotate(161 85.7 477.8)"/>
<ellipse cx="81.5" cy="478.2" rx="1.0" ry="0.8" fill="#6068b0" opacity="0.78" transform="rotate(1 81.5 478.2)"/>
<ellipse cx="58.9" cy="507.8" rx="1.3" ry="1.2" fill="#6068b0" opacity="0.91" transform="rotate(146 58.9 507.8)"/>
<ellipse cx="90.8" cy="517.6" rx="1.5" ry="1.0" fill="#6068b0" opacity="0.86" transform="rotate(131 90.8 517.6)"/>
<ellipse cx="51.5" cy="467.0" rx="1.0" ry="0.8" fill="#8a90cf" opacity="0.69" transform="rotate(175 51.5 467.0)"/>
<ellipse cx="55.9" cy="462.6" rx="1.3" ry="1.0" fill="#959bd4" opacity="0.76" transform="rotate(82 55.9 462.6)"/>
<ellipse cx="82.3" cy="490.5" rx="1.1" ry="1.1" fill="#6068b0" opacity="0.74" transform="rotate(173 82.3 490.5)"/>
<ellipse cx="77.7" cy="489.9" rx="1.6" ry="1.0" fill="#959bd4" opacity="0.76" transform="rotate(154 77.7 489.9)"/>
<ellipse cx="84.5" cy="481.9" rx="1.5" ry="1.0" fill="#7a80c6" opacity="0.86" transform="rotate(79 84.5 481.9)"/>
<ellipse cx="58.0" cy="452.4" rx="1.2" ry="0.9" fill="#6c72b8" opacity="0.81" transform="rotate(52 58.0 452.4)"/>
<ellipse cx="93.6" cy="474.4" rx="1.1" ry="0.8" fill="#6c72b8" opacity="0.93" transform="rotate(70 93.6 474.4)"/>
<ellipse cx="56.0" cy="485.2" rx="1.3" ry="1.0" fill="#7a80c6" opacity="0.85" transform="rotate(51 56.0 485.2)"/>
<ellipse cx="86.2" cy="503.7" rx="1.4" ry="0.7" fill="#6068b0" opacity="0.85" transform="rotate(103 86.2 503.7)"/>
<ellipse cx="46.1" cy="483.0" rx="1.6" ry="0.9" fill="#959bd4" opacity="0.90" transform="rotate(157 46.1 483.0)"/>
<ellipse cx="90.2" cy="496.4" rx="1.3" ry="1.0" fill="#6068b0" opacity="0.72" transform="rotate(117 90.2 496.4)"/>
<ellipse cx="91.2" cy="487.2" rx="1.2" ry="0.9" fill="#6068b0" opacity="0.74" transform="rotate(10 91.2 487.2)"/>
<ellipse cx="40.6" cy="518.4" rx="1.4" ry="0.9" fill="#8a90cf" opacity="0.90" transform="rotate(44 40.6 518.4)"/>
<ellipse cx="74.9" cy="516.1" rx="1.4" ry="1.1" fill="#959bd4" opacity="0.89" transform="rotate(29 74.9 516.1)"/>
<ellipse cx="89.3" cy="471.4" rx="1.1" ry="0.8" fill="#8a90cf" opacity="0.76" transform="rotate(110 89.3 471.4)"/>
<ellipse cx="31.1" cy="515.5" rx="1.1" ry="0.8" fill="#959bd4" opacity="0.66" transform="rotate(161 31.1 515.5)"/>
<ellipse cx="84.1" cy="495.4" rx="1.2" ry="1.2" fill="#6068b0" opacity="0.72" transform="rotate(134 84.1 495.4)"/>
<ellipse cx="92.2" cy="453.6" rx="1.2" ry="1.2" fill="#8a90cf" opacity="0.66" transform="rotate(3 92.2 453.6)"/>
<ellipse cx="69.4" cy="476.1" rx="1.3" ry="0.7" fill="#959bd4" opacity="0.79" transform="rotate(11 69.4 476.1)"/>
<ellipse cx="55.8" cy="466.3" rx="1.2" ry="0.8" fill="#7a80c6" opacity="0.67" transform="rotate(84 55.8 466.3)"/>
<ellipse cx="70.6" cy="493.1" rx="0.9" ry="0.8" fill="#959bd4" opacity="0.72" transform="rotate(59 70.6 493.1)"/>
<ellipse cx="63.1" cy="518.3" rx="1.5" ry="0.8" fill="#959bd4" opacity="0.67" transform="rotate(138 63.1 518.3)"/>
<ellipse cx="59.5" cy="481.4" rx="1.1" ry="0.9" fill="#7a80c6" opacity="0.76" transform="rotate(76 59.5 481.4)"/>
<ellipse cx="31.4" cy="460.6" rx="1.4" ry="0.8" fill="#6c72b8" opacity="0.78" transform="rotate(9 31.4 460.6)"/>
<ellipse cx="64.2" cy="490.2" rx="1.5" ry="0.7" fill="#8a90cf" opacity="0.70" transform="rotate(172 64.2 490.2)"/>
<ellipse cx="94.6" cy="517.8" rx="0.9" ry="1.0" fill="#6068b0" opacity="0.65" transform="rotate(38 94.6 517.8)"/>
<ellipse cx="51.6" cy="494.2" rx="1.1" ry="1.0" fill="#6068b0" opacity="0.67" transform="rotate(52 51.6 494.2)"/>
<ellipse cx="68.1" cy="503.2" rx="1.5" ry="0.9" fill="#8a90cf" opacity="0.78" transform="rotate(106 68.1 503.2)"/>
<ellipse cx="46.3" cy="473.4" rx="1.4" ry="1.1" fill="#959bd4" opacity="0.86" transform="rotate(51 46.3 473.4)"/>
<ellipse cx="25.6" cy="475.6" rx="1.5" ry="1.1" fill="#6c72b8" opacity="0.80" transform="rotate(84 25.6 475.6)"/>
<ellipse cx="34.9" cy="517.1" rx="1.1" ry="1.0" fill="#959bd4" opacity="0.65" transform="rotate(30 34.9 517.1)"/>
<ellipse cx="62.4" cy="508.7" rx="0.9" ry="1.0" fill="#6c72b8" opacity="0.73" transform="rotate(131 62.4 508.7)"/>
<ellipse cx="59.7" cy="477.1" rx="1.1" ry="1.1" fill="#6068b0" opacity="0.74" transform="rotate(117 59.7 477.1)"/>
<ellipse cx="94.5" cy="468.2" rx="1.5" ry="0.8" fill="#959bd4" opacity="0.73" transform="rotate(178 94.5 468.2)"/>
<ellipse cx="51.9" cy="473.7" rx="1.5" ry="1.0" fill="#959bd4" opacity="0.73" transform="rotate(169 51.9 473.7)"/>
<ellipse cx="65.6" cy="480.9" rx="1.4" ry="1.0" fill="#6068b0" opacity="0.69" transform="rotate(17 65.6 480.9)"/>
<ellipse cx="46.7" cy="489.4" rx="1.6" ry="0.9" fill="#8a90cf" opacity="0.94" transform="rotate(1 46.7 489.4)"/>
<ellipse cx="40.1" cy="508.8" rx="1.6" ry="0.8" fill="#7a80c6" opacity="0.75" transform="rotate(12 40.1 508.8)"/>
<ellipse cx="29.3" cy="471.1" rx="1.3" ry="1.1" fill="#6c72b8" opacity="0.81" transform="rotate(35 29.3 471.1)"/>
<ellipse cx="33.9" cy="456.9" rx="1.2" ry="0.9" fill="#6068b0" opacity="0.80" transform="rotate(78 33.9 456.9)"/>
<ellipse cx="85.9" cy="492.0" rx="1.1" ry="0.8" fill="#6c72b8" opacity="0.82" transform="rotate(113 85.9 492.0)"/>
<ellipse cx="41.8" cy="490.6" rx="1.1" ry="0.9" fill="#6c72b8" opacity="0.71" transform="rotate(117 41.8 490.6)"/>
<ellipse cx="40.4" cy="461.9" rx="1.3" ry="1.2" fill="#7a80c6" opacity="0.60" transform="rotate(164 40.4 461.9)"/>
<ellipse cx="56.1" cy="477.9" rx="1.2" ry="1.1" fill="#6068b0" opacity="0.81" transform="rotate(70 56.1 477.9)"/>
<ellipse cx="53.1" cy="499.0" rx="1.3" ry="1.0" fill="#6068b0" opacity="0.73" transform="rotate(176 53.1 499.0)"/>
<ellipse cx="66.2" cy="485.1" rx="1.2" ry="0.8" fill="#959bd4" opacity="0.94" transform="rotate(28 66.2 485.1)"/>
<ellipse cx="88.8" cy="484.3" rx="1.3" ry="0.8" fill="#7a80c6" opacity="0.84" transform="rotate(69 88.8 484.3)"/>
<ellipse cx="67.0" cy="461.6" rx="1.2" ry="1.1" fill="#6c72b8" opacity="0.71" transform="rotate(112 67.0 461.6)"/>
<ellipse cx="38.0" cy="493.0" rx="1.3" ry="0.9" fill="#6068b0" opacity="0.93" transform="rotate(98 38.0 493.0)"/>
<ellipse cx="43.1" cy="494.2" rx="1.5" ry="0.7" fill="#8a90cf" opacity="0.84" transform="rotate(58 43.1 494.2)"/>
<ellipse cx="65.4" cy="452.1" rx="1.6" ry="0.8" fill="#7a80c6" opacity="0.61" transform="rotate(11 65.4 452.1)"/>
<ellipse cx="63.2" cy="460.9" rx="1.5" ry="1.2" fill="#6c72b8" opacity="0.82" transform="rotate(67 63.2 460.9)"/>
<ellipse cx="46.4" cy="499.0" rx="1.1" ry="1.1" fill="#8a90cf" opacity="0.86" transform="rotate(34 46.4 499.0)"/>
<ellipse cx="72.9" cy="489.6" rx="1.5" ry="0.9" fill="#7a80c6" opacity="0.93" transform="rotate(134 72.9 489.6)"/>
<ellipse cx="60.7" cy="469.9" rx="1.5" ry="0.9" fill="#8a90cf" opacity="0.80" transform="rotate(41 60.7 469.9)"/>
<ellipse cx="91.2" cy="478.8" rx="1.6" ry="0.8" fill="#8a90cf" opacity="0.87" transform="rotate(115 91.2 478.8)"/>
<ellipse cx="70.5" cy="461.8" rx="0.9" ry="0.8" fill="#6c72b8" opacity="0.81" transform="rotate(28 70.5 461.8)"/>
<ellipse cx="60.5" cy="491.4" rx="1.2" ry="0.9" fill="#7a80c6" opacity="0.69" transform="rotate(30 60.5 491.4)"/>
<ellipse cx="25.6" cy="492.8" rx="1.0" ry="1.2" fill="#7a80c6" opacity="0.61" transform="rotate(33 25.6 492.8)"/>
<ellipse cx="95.0" cy="482.5" rx="1.2" ry="1.1" fill="#959bd4" opacity="0.94" transform="rotate(175 95.0 482.5)"/>
<ellipse cx="89.3" cy="474.8" rx="1.0" ry="0.9" fill="#8a90cf" opacity="0.78" transform="rotate(21 89.3 474.8)"/>
<ellipse cx="34.3" cy="506.1" rx="1.4" ry="1.1" fill="#8a90cf" opacity="0.94" transform="rotate(113 34.3 506.1)"/>
<ellipse cx="45.7" cy="454.1" rx="1.5" ry="1.1" fill="#959bd4" opacity="0.84" transform="rotate(150 45.7 454.1)"/>
<ellipse cx="28.2" cy="487.1" rx="0.9" ry="0.9" fill="#8a90cf" opacity="0.91" transform="rotate(164 28.2 487.1)"/>
<ellipse cx="33.7" cy="476.9" rx="1.4" ry="0.9" fill="#6068b0" opacity="0.74" transform="rotate(130 33.7 476.9)"/>
<ellipse cx="40.8" cy="476.5" rx="1.1" ry="0.8" fill="#6c72b8" opacity="0.77" transform="rotate(170 40.8 476.5)"/>
<ellipse cx="60.0" cy="473.4" rx="1.5" ry="0.8" fill="#7a80c6" opacity="0.62" transform="rotate(79 60.0 473.4)"/>
<ellipse cx="69.2" cy="469.5" rx="0.9" ry="1.0" fill="#8a90cf" opacity="0.62" transform="rotate(119 69.2 469.5)"/>
<ellipse cx="43.5" cy="509.0" rx="1.4" ry="0.9" fill="#8a90cf" opacity="0.64" transform="rotate(144 43.5 509.0)"/>
<ellipse cx="66.8" cy="512.2" rx="1.0" ry="1.1" fill="#6068b0" opacity="0.93" transform="rotate(147 66.8 512.2)"/>
<ellipse cx="36.7" cy="466.8" rx="1.4" ry="0.9" fill="#6068b0" opacity="0.73" transform="rotate(80 36.7 466.8)"/>
<ellipse cx="69.0" cy="456.5" rx="1.6" ry="1.2" fill="#7a80c6" opacity="0.87" transform="rotate(94 69.0 456.5)"/>
<ellipse cx="29.5" cy="477.9" rx="1.2" ry="0.9" fill="#6068b0" opacity="0.73" transform="rotate(57 29.5 477.9)"/>
<ellipse cx="85.9" cy="454.3" rx="1.5" ry="1.1" fill="#6068b0" opacity="0.87" transform="rotate(128 85.9 454.3)"/>
<ellipse cx="60.8" cy="486.0" rx="1.0" ry="0.9" fill="#6c72b8" opacity="0.66" transform="rotate(15 60.8 486.0)"/>
<ellipse cx="85.0" cy="488.5" rx="1.3" ry="1.0" fill="#8a90cf" opacity="0.93" transform="rotate(25 85.0 488.5)"/>
<ellipse cx="42.0" cy="471.8" rx="1.3" ry="0.9" fill="#7a80c6" opacity="0.71" transform="rotate(87 42.0 471.8)"/>
<ellipse cx="73.4" cy="510.8" rx="1.0" ry="0.9" fill="#6c72b8" opacity="0.85" transform="rotate(79 73.4 510.8)"/>
<ellipse cx="90.1" cy="490.5" rx="1.0" ry="1.2" fill="#6068b0" opacity="0.77" transform="rotate(46 90.1 490.5)"/>
<ellipse cx="67.5" cy="518.8" rx="1.0" ry="1.1" fill="#6068b0" opacity="0.89" transform="rotate(109 67.5 518.8)"/>
<ellipse cx="84.9" cy="508.5" rx="1.1" ry="0.7" fill="#7a80c6" opacity="0.71" transform="rotate(53 84.9 508.5)"/>
<ellipse cx="36.2" cy="497.4" rx="1.5" ry="0.7" fill="#6068b0" opacity="0.75" transform="rotate(140 36.2 497.4)"/>
<ellipse cx="41.3" cy="466.2" rx="1.1" ry="0.9" fill="#6068b0" opacity="0.67" transform="rotate(83 41.3 466.2)"/>
<ellipse cx="70.5" cy="480.1" rx="1.2" ry="1.0" fill="#959bd4" opacity="0.81" transform="rotate(131 70.5 480.1)"/>
<ellipse cx="33.0" cy="498.9" rx="1.2" ry="1.2" fill="#8a90cf" opacity="0.88" transform="rotate(140 33.0 498.9)"/>
<ellipse cx="53.5" cy="457.1" rx="1.3" ry="1.2" fill="#6c72b8" opacity="0.72" transform="rotate(65 53.5 457.1)"/>
<ellipse cx="62.2" cy="455.7" rx="1.2" ry="1.1" fill="#7a80c6" opacity="0.82" transform="rotate(35 62.2 455.7)"/>
<ellipse cx="80.3" cy="454.8" rx="1.2" ry="0.8" fill="#6c72b8" opacity="0.64" transform="rotate(90 80.3 454.8)"/>
<ellipse cx="59.0" cy="494.9" rx="1.3" ry="1.0" fill="#6c72b8" opacity="0.70" transform="rotate(138 59.0 494.9)"/>
<ellipse cx="27.2" cy="453.9" rx="1.4" ry="1.0" fill="#8a90cf" opacity="0.78" transform="rotate(3 27.2 453.9)"/>
<ellipse cx="49.3" cy="477.7" rx="1.0" ry="0.7" fill="#8a90cf" opacity="0.85" transform="rotate(63 49.3 477.7)"/>
<ellipse cx="72.8" cy="502.9" rx="1.5" ry="0.8" fill="#6c72b8" opacity="0.85" transform="rotate(155 72.8 502.9)"/>
<ellipse cx="47.8" cy="493.0" rx="1.4" ry="1.0" fill="#8a90cf" opacity="0.82" transform="rotate(151 47.8 493.0)"/>
<ellipse cx="77.8" cy="458.4" rx="1.3" ry="1.1" fill="#7a80c6" opacity="0.70" transform="rotate(56 77.8 458.4)"/>
<ellipse cx="34.1" cy="473.3" rx="1.0" ry="0.8" fill="#8a90cf" opacity="0.86" transform="rotate(90 34.1 473.3)"/>
<ellipse cx="44.8" cy="464.0" rx="1.3" ry="1.0" fill="#7a80c6" opacity="0.77" transform="rotate(150 44.8 464.0)"/>
<ellipse cx="69.3" cy="487.1" rx="1.5" ry="0.8" fill="#6c72b8" opacity="0.63" transform="rotate(28 69.3 487.1)"/>
<ellipse cx="71.3" cy="517.6" rx="1.3" ry="0.8" fill="#6068b0" opacity="0.74" transform="rotate(60 71.3 517.6)"/>
<ellipse cx="73.2" cy="472.1" rx="1.2" ry="0.9" fill="#6c72b8" opacity="0.68" transform="rotate(59 73.2 472.1)"/>
<ellipse cx="77.5" cy="485.4" rx="1.6" ry="0.8" fill="#6068b0" opacity="0.91" transform="rotate(163 77.5 485.4)"/>
<ellipse cx="74.8" cy="452.1" rx="1.0" ry="1.1" fill="#6068b0" opacity="0.69" transform="rotate(124 74.8 452.1)"/>
<ellipse cx="89.5" cy="500.8" rx="1.6" ry="0.8" fill="#8a90cf" opacity="0.83" transform="rotate(123 89.5 500.8)"/>
<ellipse cx="76.4" cy="504.7" rx="1.3" ry="1.0" fill="#7a80c6" opacity="0.88" transform="rotate(178 76.4 504.7)"/>
<ellipse cx="55.2" cy="505.6" rx="1.2" ry="0.9" fill="#8a90cf" opacity="0.63" transform="rotate(103 55.2 505.6)"/>
<ellipse cx="78.8" cy="510.2" rx="1.4" ry="0.8" fill="#6c72b8" opacity="0.62" transform="rotate(23 78.8 510.2)"/>
<ellipse cx="92.5" cy="493.7" rx="0.9" ry="1.2" fill="#6068b0" opacity="0.88" transform="rotate(141 92.5 493.7)"/>
<ellipse cx="48.9" cy="505.6" rx="1.3" ry="0.7" fill="#959bd4" opacity="0.86" transform="rotate(41 48.9 505.6)"/>
<ellipse cx="66.3" cy="465.1" rx="1.1" ry="0.9" fill="#8a90cf" opacity="0.73" transform="rotate(110 66.3 465.1)"/>
<ellipse cx="56.4" cy="514.6" rx="1.4" ry="1.0" fill="#7a80c6" opacity="0.83" transform="rotate(28 56.4 514.6)"/>
<ellipse cx="65.7" cy="498.1" rx="1.2" ry="0.8" fill="#6068b0" opacity="0.70" transform="rotate(76 65.7 498.1)"/>
<ellipse cx="94.4" cy="461.2" rx="1.5" ry="0.9" fill="#8a90cf" opacity="0.76" transform="rotate(50 94.4 461.2)"/>
<ellipse cx="80.8" cy="460.1" rx="1.2" ry="0.7" fill="#6c72b8" opacity="0.79" transform="rotate(2 80.8 460.1)"/>
<ellipse cx="31.8" cy="485.3" rx="1.3" ry="1.1" fill="#8a90cf" opacity="0.92" transform="rotate(51 31.8 485.3)"/>
<ellipse cx="29.6" cy="502.4" rx="1.1" ry="0.8" fill="#6c72b8" opacity="0.67" transform="rotate(98 29.6 502.4)"/>
<ellipse cx="50.2" cy="457.1" rx="0.9" ry="1.2" fill="#6068b0" opacity="0.65" transform="rotate(71 50.2 457.1)"/>
<ellipse cx="74.9" cy="482.6" rx="1.4" ry="0.8" fill="#8a90cf" opacity="0.70" transform="rotate(33 74.9 482.6)"/>
<ellipse cx="80.8" cy="506.2" rx="1.3" ry="1.0" fill="#8a90cf" opacity="0.70" transform="rotate(143 80.8 506.2)"/>
<ellipse cx="88.8" cy="507.6" rx="1.3" ry="0.7" fill="#8a90cf" opacity="0.79" transform="rotate(180 88.8 507.6)"/>
<ellipse cx="73.9" cy="493.3" rx="1.1" ry="0.9" fill="#6068b0" opacity="0.70" transform="rotate(159 73.9 493.3)"/>
<ellipse cx="86.3" cy="467.9" rx="1.2" ry="0.9" fill="#8a90cf" opacity="0.73" transform="rotate(31 86.3 467.9)"/>
<ellipse cx="84.1" cy="513.4" rx="1.2" ry="1.2" fill="#959bd4" opacity="0.66" transform="rotate(156 84.1 513.4)"/>
<ellipse cx="84.9" cy="474.0" rx="1.6" ry="0.8" fill="#6068b0" opacity="0.81" transform="rotate(90 84.9 474.0)"/>
<ellipse cx="25.8" cy="467.1" rx="1.4" ry="0.8" fill="#8a90cf" opacity="0.94" transform="rotate(14 25.8 467.1)"/>
<ellipse cx="94.5" cy="457.4" rx="1.0" ry="0.8" fill="#8a90cf" opacity="0.70" transform="rotate(13 94.5 457.4)"/>
<ellipse cx="64.4" cy="474.2" rx="1.3" ry="0.7" fill="#8a90cf" opacity="0.76" transform="rotate(176 64.4 474.2)"/>
<ellipse cx="70.0" cy="465.8" rx="1.1" ry="0.9" fill="#6068b0" opacity="0.74" transform="rotate(3 70.0 465.8)"/>
<ellipse cx="77.7" cy="480.1" rx="1.3" ry="0.9" fill="#8a90cf" opacity="0.70" transform="rotate(113 77.7 480.1)"/>
<ellipse cx="49.1" cy="517.5" rx="0.9" ry="0.8" fill="#8a90cf" opacity="0.75" transform="rotate(53 49.1 517.5)"/>
<ellipse cx="26.7" cy="480.6" rx="1.2" ry="0.7" fill="#8a90cf" opacity="0.64" transform="rotate(45 26.7 480.6)"/>
<ellipse cx="68.2" cy="507.6" rx="1.3" ry="0.9" fill="#6068b0" opacity="0.70" transform="rotate(23 68.2 507.6)"/>
<ellipse cx="40.8" cy="498.9" rx="1.4" ry="0.8" fill="#8a90cf" opacity="0.84" transform="rotate(58 40.8 498.9)"/>
<ellipse cx="55.4" cy="495.1" rx="0.9" ry="0.8" fill="#959bd4" opacity="0.92" transform="rotate(43 55.4 495.1)"/>
<ellipse cx="42.8" cy="452.0" rx="1.1" ry="0.8" fill="#8a90cf" opacity="0.87" transform="rotate(157 42.8 452.0)"/>
<ellipse cx="39.6" cy="488.1" rx="1.2" ry="0.8" fill="#6c72b8" opacity="0.73" transform="rotate(125 39.6 488.1)"/>
<ellipse cx="65.4" cy="470.9" rx="1.0" ry="1.1" fill="#8a90cf" opacity="0.73" transform="rotate(55 65.4 470.9)"/>
<ellipse cx="57.7" cy="502.7" rx="1.1" ry="1.1" fill="#8a90cf" opacity="0.75" transform="rotate(8 57.7 502.7)"/>
<ellipse cx="89.0" cy="457.1" rx="1.4" ry="0.8" fill="#6068b0" opacity="0.70" transform="rotate(83 89.0 457.1)"/>
<ellipse cx="79.0" cy="502.4" rx="0.9" ry="1.1" fill="#7a80c6" opacity="0.93" transform="rotate(140 79.0 502.4)"/>
<ellipse cx="42.9" cy="479.7" rx="1.0" ry="1.0" fill="#8a90cf" opacity="0.81" transform="rotate(6 42.9 479.7)"/>
<ellipse cx="31.4" cy="452.6" rx="1.5" ry="0.7" fill="#7a80c6" opacity="0.72" transform="rotate(106 31.4 452.6)"/>
<ellipse cx="61.8" cy="498.8" rx="1.5" ry="1.1" fill="#6068b0" opacity="0.75" transform="rotate(171 61.8 498.8)"/>
<ellipse cx="51.8" cy="490.5" rx="1.5" ry="1.1" fill="#6068b0" opacity="0.91" transform="rotate(63 51.8 490.5)"/>
<ellipse cx="36.5" cy="483.4" rx="1.1" ry="1.0" fill="#7a80c6" opacity="0.83" transform="rotate(42 36.5 483.4)"/>
<ellipse cx="39.5" cy="452.9" rx="1.0" ry="0.9" fill="#6068b0" opacity="0.75" transform="rotate(86 39.5 452.9)"/>
<ellipse cx="52.1" cy="507.5" rx="1.0" ry="1.0" fill="#959bd4" opacity="0.76" transform="rotate(14 52.1 507.5)"/>
<ellipse cx="56.9" cy="472.1" rx="1.3" ry="0.8" fill="#8a90cf" opacity="0.80" transform="rotate(23 56.9 472.1)"/>
<ellipse cx="51.9" cy="486.5" rx="1.0" ry="0.8" fill="#6068b0" opacity="0.92" transform="rotate(147 51.9 486.5)"/>
<ellipse cx="76.0" cy="476.1" rx="1.3" ry="1.1" fill="#7a80c6" opacity="0.71" transform="rotate(6 76.0 476.1)"/>
<ellipse cx="78.0" cy="514.1" rx="1.4" ry="0.9" fill="#8a90cf" opacity="0.82" transform="rotate(114 78.0 514.1)"/>
<ellipse cx="31.4" cy="509.7" rx="1.5" ry="1.1" fill="#959bd4" opacity="0.90" transform="rotate(25 31.4 509.7)"/>
<ellipse cx="76.7" cy="472.0" rx="1.2" ry="0.9" fill="#6068b0" opacity="0.77" transform="rotate(171 76.7 472.0)"/>
<ellipse cx="79.5" cy="495.7" rx="1.3" ry="1.1" fill="#6068b0" opacity="0.72" transform="rotate(164 79.5 495.7)"/>
<ellipse cx="82.0" cy="464.3" rx="1.6" ry="1.1" fill="#959bd4" opacity="0.74" transform="rotate(26 82.0 464.3)"/>
<ellipse cx="48.2" cy="466.7" rx="1.0" ry="1.0" fill="#7a80c6" opacity="0.79" transform="rotate(68 48.2 466.7)"/>
<ellipse cx="48.9" cy="462.3" rx="1.6" ry="1.1" fill="#8a90cf" opacity="0.88" transform="rotate(81 48.9 462.3)"/>
<ellipse cx="34.4" cy="480.8" rx="1.1" ry="0.7" fill="#6068b0" opacity="0.81" transform="rotate(5 34.4 480.8)"/>
<ellipse cx="74.0" cy="486.0" rx="1.1" ry="1.0" fill="#7a80c6" opacity="0.66" transform="rotate(97 74.0 486.0)"/>
<ellipse cx="73.7" cy="468.5" rx="1.1" ry="0.7" fill="#7a80c6" opacity="0.79" transform="rotate(140 73.7 468.5)"/>
<ellipse cx="33.6" cy="469.5" rx="1.0" ry="1.2" fill="#6c72b8" opacity="0.91" transform="rotate(24 33.6 469.5)"/>
<ellipse cx="61.7" cy="466.3" rx="1.4" ry="1.2" fill="#8a90cf" opacity="0.87" transform="rotate(116 61.7 466.3)"/>
<ellipse cx="78.0" cy="464.7" rx="1.2" ry="0.8" fill="#959bd4" opacity="0.90" transform="rotate(79 78.0 464.7)"/>
<ellipse cx="46.1" cy="478.5" rx="1.3" ry="1.2" fill="#959bd4" opacity="0.69" transform="rotate(26 46.1 478.5)"/>
<ellipse cx="72.7" cy="477.0" rx="1.1" ry="1.2" fill="#7a80c6" opacity="0.65" transform="rotate(66 72.7 477.0)"/>
<ellipse cx="26.7" cy="462.9" rx="1.4" ry="1.1" fill="#7a80c6" opacity="0.71" transform="rotate(144 26.7 462.9)"/>
<ellipse cx="91.9" cy="465.3" rx="1.0" ry="0.8" fill="#959bd4" opacity="0.81" transform="rotate(94 91.9 465.3)"/>
<ellipse cx="37.0" cy="475.2" rx="1.3" ry="0.8" fill="#959bd4" opacity="0.81" transform="rotate(2 37.0 475.2)"/>
<ellipse cx="93.7" cy="512.2" rx="0.9" ry="1.0" fill="#6068b0" opacity="0.92" transform="rotate(24 93.7 512.2)"/>
<ellipse cx="43.1" cy="514.6" rx="0.9" ry="0.7" fill="#8a90cf" opacity="0.75" transform="rotate(69 43.1 514.6)"/>
<ellipse cx="39.2" cy="457.7" rx="1.1" ry="1.0" fill="#6068b0" opacity="0.78" transform="rotate(69 39.2 457.7)"/>
<ellipse cx="34.5" cy="492.9" rx="1.0" ry="1.2" fill="#959bd4" opacity="0.72" transform="rotate(99 34.5 492.9)"/>
<ellipse cx="70.8" cy="512.9" rx="1.3" ry="0.8" fill="#959bd4" opacity="0.79" transform="rotate(144 70.8 512.9)"/>
<ellipse cx="55.5" cy="491.7" rx="1.2" ry="0.8" fill="#7a80c6" opacity="0.67" transform="rotate(94 55.5 491.7)"/>
<ellipse cx="54.5" cy="481.4" rx="1.3" ry="1.1" fill="#6068b0" opacity="0.88" transform="rotate(39 54.5 481.4)"/>
<ellipse cx="27.1" cy="457.8" rx="1.5" ry="1.2" fill="#6068b0" opacity="0.81" transform="rotate(64 27.1 457.8)"/>
<ellipse cx="77.5" cy="519.0" rx="1.3" ry="0.8" fill="#6c72b8" opacity="0.65" transform="rotate(135 77.5 519.0)"/>
<ellipse cx="48.7" cy="452.5" rx="0.9" ry="1.1" fill="#8a90cf" opacity="0.90" transform="rotate(98 48.7 452.5)"/>
<ellipse cx="52.7" cy="452.6" rx="1.4" ry="0.9" fill="#7a80c6" opacity="0.93" transform="rotate(122 52.7 452.6)"/>
<ellipse cx="43.6" cy="460.9" rx="0.9" ry="0.7" fill="#8a90cf" opacity="0.77" transform="rotate(170 43.6 460.9)"/>
<ellipse cx="86.4" cy="518.6" rx="1.3" ry="0.9" fill="#7a80c6" opacity="0.93" transform="rotate(16 86.4 518.6)"/>
<ellipse cx="82.1" cy="486.2" rx="1.0" ry="0.8" fill="#8a90cf" opacity="0.89" transform="rotate(31 82.1 486.2)"/>
<ellipse cx="34.3" cy="464.5" rx="1.3" ry="0.8" fill="#6c72b8" opacity="0.72" transform="rotate(112 34.3 464.5)"/>
<ellipse cx="47.5" cy="470.2" rx="1.5" ry="1.1" fill="#6068b0" opacity="0.78" transform="rotate(141 47.5 470.2)"/>
<ellipse cx="67.4" cy="491.0" rx="1.1" ry="1.0" fill="#959bd4" opacity="0.69" transform="rotate(167 67.4 491.0)"/>
<ellipse cx="26.9" cy="484.0" rx="1.1" ry="0.9" fill="#7a80c6" opacity="0.91" transform="rotate(76 26.9 484.0)"/>
<ellipse cx="55.3" cy="518.9" rx="1.4" ry="1.0" fill="#6c72b8" opacity="0.80" transform="rotate(123 55.3 518.9)"/>
<ellipse cx="48.8" cy="509.4" rx="1.2" ry="0.8" fill="#6c72b8" opacity="0.67" transform="rotate(25 48.8 509.4)"/>
<ellipse cx="42.8" cy="484.6" rx="1.3" ry="0.9" fill="#6068b0" opacity="0.75" transform="rotate(137 42.8 484.6)"/>
<ellipse cx="83.8" cy="470.2" rx="1.2" ry="0.9" fill="#6c72b8" opacity="0.76" transform="rotate(18 83.8 470.2)"/>
<ellipse cx="74.2" cy="507.2" rx="1.1" ry="1.2" fill="#959bd4" opacity="0.82" transform="rotate(91 74.2 507.2)"/>
<ellipse cx="93.0" cy="507.4" rx="1.1" ry="0.9" fill="#6c72b8" opacity="0.88" transform="rotate(56 93.0 507.4)"/>
<ellipse cx="69.8" cy="496.6" rx="1.1" ry="0.9" fill="#8a90cf" opacity="0.64" transform="rotate(141 69.8 496.6)"/>
<ellipse cx="80.8" cy="482.4" rx="1.0" ry="1.1" fill="#959bd4" opacity="0.62" transform="rotate(84 80.8 482.4)"/>
<ellipse cx="88.6" cy="511.6" rx="1.6" ry="1.1" fill="#8a90cf" opacity="0.74" transform="rotate(80 88.6 511.6)"/>
<ellipse cx="60.1" cy="463.0" rx="1.4" ry="1.0" fill="#7a80c6" opacity="0.94" transform="rotate(93 60.1 463.0)"/>
<ellipse cx="26.0" cy="472.3" rx="1.2" ry="1.0" fill="#7a80c6" opacity="0.82" transform="rotate(131 26.0 472.3)"/>
<ellipse cx="48.4" cy="501.7" rx="1.4" ry="1.1" fill="#959bd4" opacity="0.71" transform="rotate(29 48.4 501.7)"/>
<ellipse cx="33.7" cy="512.9" rx="1.1" ry="0.9" fill="#959bd4" opacity="0.66" transform="rotate(13 33.7 512.9)"/>
<ellipse cx="36.4" cy="460.4" rx="1.0" ry="0.9" fill="#8a90cf" opacity="0.94" transform="rotate(171 36.4 460.4)"/>
<ellipse cx="38.4" cy="505.7" rx="1.1" ry="0.8" fill="#8a90cf" opacity="0.84" transform="rotate(42 38.4 505.7)"/>
<ellipse cx="94.2" cy="490.5" rx="0.9" ry="1.0" fill="#6068b0" opacity="0.89" transform="rotate(91 94.2 490.5)"/>
<ellipse cx="86.7" cy="459.5" rx="1.5" ry="1.1" fill="#6068b0" opacity="0.71" transform="rotate(94 86.7 459.5)"/>
<ellipse cx="64.9" cy="506.6" rx="1.4" ry="1.1" fill="#959bd4" opacity="0.69" transform="rotate(89 64.9 506.6)"/>
<ellipse cx="60.9" cy="512.9" rx="1.3" ry="1.0" fill="#959bd4" opacity="0.78" transform="rotate(149 60.9 512.9)"/>
<ellipse cx="26.6" cy="517.6" rx="1.4" ry="0.7" fill="#6068b0" opacity="0.85" transform="rotate(137 26.6 517.6)"/>
<ellipse cx="40.7" cy="512.3" rx="1.2" ry="0.8" fill="#959bd4" opacity="0.79" transform="rotate(126 40.7 512.3)"/>
<ellipse cx="49.7" cy="481.5" rx="1.0" ry="0.9" fill="#6c72b8" opacity="0.77" transform="rotate(147 49.7 481.5)"/>
<ellipse cx="33.2" cy="502.6" rx="1.5" ry="0.9" fill="#6c72b8" opacity="0.85" transform="rotate(12 33.2 502.6)"/>
<ellipse cx="34.9" cy="452.0" rx="1.3" ry="0.7" fill="#8a90cf" opacity="0.68" transform="rotate(126 34.9 452.0)"/>
<ellipse cx="89.6" cy="468.0" rx="1.4" ry="1.1" fill="#959bd4" opacity="0.86" transform="rotate(21 89.6 468.0)"/>
<ellipse cx="25.8" cy="509.6" rx="1.2" ry="1.1" fill="#8a90cf" opacity="0.70" transform="rotate(67 25.8 509.6)"/>
<ellipse cx="78.9" cy="499.0" rx="1.6" ry="0.9" fill="#6c72b8" opacity="0.78" transform="rotate(30 78.9 499.0)"/>
<ellipse cx="65.1" cy="457.6" rx="1.1" ry="1.1" fill="#6068b0" opacity="0.63" transform="rotate(121 65.1 457.6)"/>
<ellipse cx="58.2" cy="488.6" rx="1.0" ry="0.8" fill="#959bd4" opacity="0.64" transform="rotate(175 58.2 488.6)"/>
<ellipse cx="64.4" cy="503.3" rx="1.0" ry="0.7" fill="#6068b0" opacity="0.76" transform="rotate(112 64.4 503.3)"/>
<ellipse cx="28.8" cy="490.4" rx="1.5" ry="0.7" fill="#6068b0" opacity="0.70" transform="rotate(88 28.8 490.4)"/>
<ellipse cx="30.4" cy="456.7" rx="1.5" ry="1.1" fill="#6c72b8" opacity="0.75" transform="rotate(67 30.4 456.7)"/>
<ellipse cx="75.9" cy="501.1" rx="1.4" ry="1.1" fill="#6c72b8" opacity="0.67" transform="rotate(26 75.9 501.1)"/>
<ellipse cx="63.9" cy="514.8" rx="1.2" ry="0.7" fill="#6068b0" opacity="0.61" transform="rotate(19 63.9 514.8)"/>
<ellipse cx="38.6" cy="515.3" rx="1.2" ry="1.0" fill="#8a90cf" opacity="0.85" transform="rotate(72 38.6 515.3)"/>
<ellipse cx="52.7" cy="511.6" rx="1.0" ry="0.9" fill="#959bd4" opacity="0.84" transform="rotate(23 52.7 511.6)"/>
<ellipse cx="38.2" cy="479.0" rx="1.2" ry="0.8" fill="#6c72b8" opacity="0.81" transform="rotate(80 38.2 479.0)"/>
<ellipse cx="56.7" cy="455.6" rx="1.0" ry="1.2" fill="#8a90cf" opacity="0.77" transform="rotate(139 56.7 455.6)"/>
<ellipse cx="63.4" cy="478.3" rx="1.4" ry="1.2" fill="#6c72b8" opacity="0.73" transform="rotate(117 63.4 478.3)"/>
<ellipse cx="29.4" cy="474.4" rx="0.9" ry="0.9" fill="#8a90cf" opacity="0.60" transform="rotate(17 29.4 474.4)"/>
<ellipse cx="49.4" cy="497.0" rx="1.5" ry="0.8" fill="#6068b0" opacity="0.62" transform="rotate(168 49.4 497.0)"/>
<ellipse cx="31.3" cy="481.8" rx="1.0" ry="1.0" fill="#6068b0" opacity="0.83" transform="rotate(154 31.3 481.8)"/>
<ellipse cx="30.3" cy="518.7" rx="1.1" ry="1.2" fill="#6c72b8" opacity="0.68" transform="rotate(179 30.3 518.7)"/>
<ellipse cx="79.9" cy="467.9" rx="1.5" ry="1.1" fill="#6c72b8" opacity="0.93" transform="rotate(141 79.9 467.9)"/>
<ellipse cx="83.3" cy="457.0" rx="1.5" ry="1.1" fill="#6068b0" opacity="0.88" transform="rotate(43 83.3 457.0)"/>
<ellipse cx="87.9" cy="515.5" rx="1.6" ry="0.9" fill="#8a90cf" opacity="0.69" transform="rotate(179 87.9 515.5)"/>
<ellipse cx="88.1" cy="480.4" rx="1.1" ry="1.1" fill="#959bd4" opacity="0.66" transform="rotate(50 88.1 480.4)"/>
<ellipse cx="71.3" cy="452.9" rx="1.4" ry="1.0" fill="#6c72b8" opacity="0.67" transform="rotate(88 71.3 452.9)"/>
<ellipse cx="94.6" cy="478.1" rx="1.4" ry="1.1" fill="#6068b0" opacity="0.89" transform="rotate(116 94.6 478.1)"/>
<ellipse cx="45.4" cy="518.1" rx="1.3" ry="1.2" fill="#6c72b8" opacity="0.63" transform="rotate(151 45.4 518.1)"/>
<ellipse cx="25.7" cy="501.0" rx="1.0" ry="0.9" fill="#959bd4" opacity="0.87" transform="rotate(165 25.7 501.0)"/>
<ellipse cx="94.5" cy="486.8" rx="1.0" ry="1.0" fill="#6c72b8" opacity="0.89" transform="rotate(178 94.5 486.8)"/>
<ellipse cx="79.4" cy="475.2" rx="1.5" ry="0.8" fill="#7a80c6" opacity="0.64" transform="rotate(179 79.4 475.2)"/>
<ellipse cx="61.4" cy="452.3" rx="0.9" ry="1.0" fill="#959bd4" opacity="0.78" transform="rotate(122 61.4 452.3)"/>
</g>
<rect x="26.3" y="453" width="67.9" height="65" fill="none" stroke="#3a3a55" stroke-width="0.6"/>
<line x1="77.7" y1="515.8" x2="92.7" y2="515.8" stroke="#1a1a1a" stroke-width="0.8"/>
<text x="26.7" y="528" font-size="7" text-anchor="start" font-weight="normal" fill="#111" stroke="#111" stroke-width="0.12" textLength="46" lengthAdjust="spacingAndGlyphs">MCT4 Score 0</text>
<clipPath id="clip1"><rect x="99.4" y="453" width="67.9" height="65"/></clipPath>
<g clip-path="url(#clip1)">
<rect x="99.4" y="453" width="67.9" height="65" fill="#cdd0ec"/>
<ellipse cx="159.9" cy="517.5" rx="4.0" ry="4.0" fill="#e2e3f3" opacity="0.48" transform="rotate(126 159.9 517.5)"/>
<ellipse cx="149.0" cy="462.0" rx="2.9" ry="2.0" fill="#e2e3f3" opacity="0.77" transform="rotate(115 149.0 462.0)"/>
<ellipse cx="128.1" cy="463.3" rx="4.1" ry="2.5" fill="#e2e3f3" opacity="0.72" transform="rotate(112 128.1 463.3)"/>
<ellipse cx="130.0" cy="482.1" rx="3.3" ry="2.5" fill="#e2e3f3" opacity="0.51" transform="rotate(107 130.0 482.1)"/>
<ellipse cx="122.1" cy="485.7" rx="3.8" ry="1.9" fill="#e2e3f3" opacity="0.62" transform="rotate(14 122.1 485.7)"/>
<ellipse cx="163.3" cy="497.2" rx="4.7" ry="1.8" fill="#e2e3f3" opacity="0.67" transform="rotate(99 163.3 497.2)"/>
<ellipse cx="142.4" cy="495.6" rx="2.4" ry="3.0" fill="#e2e3f3" opacity="0.50" transform="rotate(84 142.4 495.6)"/>
<ellipse cx="136.2" cy="506.2" rx="2.9" ry="1.7" fill="#e2e3f3" opacity="0.72" transform="rotate(24 136.2 506.2)"/>
<ellipse cx="119.0" cy="462.6" rx="3.9" ry="2.0" fill="#e2e3f3" opacity="0.50" transform="rotate(132 119.0 462.6)"/>
<ellipse cx="111.0" cy="486.9" rx="4.0" ry="2.7" fill="#e2e3f3" opacity="0.66" transform="rotate(63 111.0 486.9)"/>
<ellipse cx="161.4" cy="464.1" rx="4.1" ry="1.5" fill="#e2e3f3" opacity="0.60" transform="rotate(84 161.4 464.1)"/>
<ellipse cx="103.4" cy="468.8" rx="4.0" ry="1.7" fill="#e2e3f3" opacity="0.56" transform="rotate(38 103.4 468.8)"/>
<ellipse cx="155.4" cy="486.6" rx="2.6" ry="3.5" fill="#e2e3f3" opacity="0.67" transform="rotate(2 155.4 486.6)"/>
<ellipse cx="141.3" cy="501.5" rx="4.4" ry="3.8" fill="#e2e3f3" opacity="0.54" transform="rotate(46 141.3 501.5)"/>
<ellipse cx="145.9" cy="467.6" rx="2.5" ry="2.9" fill="#e2e3f3" opacity="0.63" transform="rotate(1 145.9 467.6)"/>
<ellipse cx="113.8" cy="508.0" rx="4.5" ry="1.9" fill="#e2e3f3" opacity="0.41" transform="rotate(82 113.8 508.0)"/>
<ellipse cx="157.6" cy="479.4" rx="4.4" ry="3.5" fill="#e2e3f3" opacity="0.68" transform="rotate(94 157.6 479.4)"/>
<ellipse cx="166.5" cy="457.9" rx="2.6" ry="2.3" fill="#e2e3f3" opacity="0.52" transform="rotate(106 166.5 457.9)"/>
<ellipse cx="147.2" cy="462.3" rx="2.1" ry="3.6" fill="#e2e3f3" opacity="0.75" transform="rotate(32 147.2 462.3)"/>
<ellipse cx="149.5" cy="475.2" rx="4.1" ry="2.3" fill="#e2e3f3" opacity="0.70" transform="rotate(160 149.5 475.2)"/>
<ellipse cx="153.7" cy="466.8" rx="4.5" ry="2.0" fill="#e2e3f3" opacity="0.76" transform="rotate(132 153.7 466.8)"/>
<ellipse cx="125.0" cy="475.2" rx="4.9" ry="2.0" fill="#e2e3f3" opacity="0.75" transform="rotate(29 125.0 475.2)"/>
<ellipse cx="148.5" cy="488.3" rx="3.9" ry="1.6" fill="#e2e3f3" opacity="0.52" transform="rotate(63 148.5 488.3)"/>
<ellipse cx="106.1" cy="485.8" rx="4.2" ry="3.2" fill="#e2e3f3" opacity="0.60" transform="rotate(125 106.1 485.8)"/>
<ellipse cx="113.7" cy="488.6" rx="2.5" ry="3.2" fill="#e2e3f3" opacity="0.40" transform="rotate(111 113.7 488.6)"/>
<ellipse cx="146.0" cy="515.8" rx="3.5" ry="2.2" fill="#e2e3f3" opacity="0.63" transform="rotate(65 146.0 515.8)"/>
<ellipse cx="113.6" cy="497.2" rx="2.5" ry="2.2" fill="#e2e3f3" opacity="0.41" transform="rotate(108 113.6 497.2)"/>
<ellipse cx="126.2" cy="462.2" rx="3.8" ry="3.0" fill="#e2e3f3" opacity="0.70" transform="rotate(163 126.2 462.2)"/>
<ellipse cx="100.1" cy="495.7" rx="3.2" ry="3.1" fill="#e2e3f3" opacity="0.51" transform="rotate(125 100.1 495.7)"/>
<ellipse cx="103.9" cy="483.0" rx="3.2" ry="2.9" fill="#e2e3f3" opacity="0.71" transform="rotate(160 103.9 483.0)"/>
<g filter="url(#blur3)">
<path d="M95.4 505.0C107.548 488.75 119.77000000000001 480.3 133.35000000000002 483.55S157.115 492.0 171.3 492.0" fill="none" stroke="#bfa6ae" stroke-width="15" opacity="0.8"/>
<path d="M97.4 518.0Q109.58500000000001 501.75 119.77000000000001 492.0" fill="none" stroke="#bda4ae" stroke-width="11" opacity="0.5"/>
<path d="M140.14000000000001 505.0Q153.72000000000003 503.7 169.3 508.25" fill="none" stroke="#bfa6ac" stroke-width="9" opacity="0.6"/>
</g>
<ellipse cx="138.2" cy="486.4" rx="0.7" ry="0.9" fill="#8e6468" opacity="0.64"/>
<ellipse cx="154.9" cy="487.6" rx="1.0" ry="0.7" fill="#7d5a68" opacity="0.38"/>
<ellipse cx="129.2" cy="478.9" rx="1.0" ry="1.0" fill="#7d5a68" opacity="0.57"/>
<ellipse cx="148.7" cy="485.1" rx="0.7" ry="0.6" fill="#8e6468" opacity="0.43"/>
<ellipse cx="106.7" cy="498.8" rx="1.2" ry="0.7" fill="#a07a7c" opacity="0.61"/>
<ellipse cx="138.3" cy="483.9" rx="0.6" ry="0.6" fill="#7d5a68" opacity="0.64"/>
<ellipse cx="129.5" cy="483.8" rx="1.2" ry="1.0" fill="#8e6468" opacity="0.63"/>
<ellipse cx="144.3" cy="480.2" rx="0.8" ry="0.7" fill="#8e6468" opacity="0.64"/>
<ellipse cx="135.6" cy="485.9" rx="0.7" ry="0.6" fill="#a07a7c" opacity="0.64"/>
<ellipse cx="145.4" cy="487.2" rx="1.0" ry="0.9" fill="#8e6468" opacity="0.66"/>
<ellipse cx="158.6" cy="483.1" rx="1.1" ry="0.6" fill="#8e6468" opacity="0.68"/>
<ellipse cx="112.2" cy="493.7" rx="0.7" ry="0.5" fill="#8e6468" opacity="0.51"/>
<ellipse cx="165.6" cy="486.9" rx="1.2" ry="0.5" fill="#8e6468" opacity="0.39"/>
<ellipse cx="145.8" cy="488.3" rx="0.6" ry="0.7" fill="#7d5a68" opacity="0.40"/>
<ellipse cx="138.5" cy="485.5" rx="0.9" ry="0.9" fill="#7d5a68" opacity="0.42"/>
<ellipse cx="134.7" cy="477.3" rx="1.1" ry="0.7" fill="#7d5a68" opacity="0.46"/>
<ellipse cx="148.2" cy="488.8" rx="0.8" ry="0.5" fill="#8e6468" opacity="0.68"/>
<ellipse cx="99.4" cy="505.2" rx="0.6" ry="0.6" fill="#7d5a68" opacity="0.57"/>
<ellipse cx="110.2" cy="491.0" rx="0.8" ry="0.8" fill="#7d5a68" opacity="0.64"/>
<ellipse cx="125.4" cy="487.0" rx="0.9" ry="0.8" fill="#8e6468" opacity="0.68"/>
<ellipse cx="123.7" cy="482.2" rx="0.7" ry="0.6" fill="#7d5a68" opacity="0.45"/>
<ellipse cx="143.4" cy="486.8" rx="0.9" ry="0.6" fill="#a07a7c" opacity="0.35"/>
<ellipse cx="107.8" cy="491.1" rx="0.7" ry="0.7" fill="#8e6468" opacity="0.52"/>
<ellipse cx="135.2" cy="487.1" rx="1.0" ry="0.9" fill="#8e6468" opacity="0.44"/>
<ellipse cx="152.5" cy="483.6" rx="0.7" ry="0.8" fill="#a07a7c" opacity="0.48"/>
<ellipse cx="138.4" cy="482.6" rx="1.2" ry="0.9" fill="#a07a7c" opacity="0.47"/>
<ellipse cx="144.9" cy="481.8" rx="0.8" ry="1.0" fill="#a07a7c" opacity="0.41"/>
<ellipse cx="166.9" cy="486.6" rx="1.0" ry="0.5" fill="#7d5a68" opacity="0.40"/>
<ellipse cx="159.6" cy="487.2" rx="1.3" ry="0.9" fill="#7d5a68" opacity="0.48"/>
<ellipse cx="146.0" cy="479.7" rx="0.8" ry="1.0" fill="#a07a7c" opacity="0.70"/>
<ellipse cx="149.6" cy="492.1" rx="1.3" ry="1.0" fill="#7d5a68" opacity="0.65"/>
<ellipse cx="105.6" cy="503.9" rx="1.1" ry="0.5" fill="#7d5a68" opacity="0.56"/>
<ellipse cx="159.9" cy="492.3" rx="0.8" ry="0.8" fill="#7d5a68" opacity="0.49"/>
<ellipse cx="115.0" cy="493.2" rx="1.0" ry="0.9" fill="#a07a7c" opacity="0.38"/>
<ellipse cx="149.7" cy="483.0" rx="1.0" ry="0.8" fill="#a07a7c" opacity="0.51"/>
<ellipse cx="155.6" cy="483.4" rx="1.2" ry="0.7" fill="#a07a7c" opacity="0.51"/>
<ellipse cx="141.9" cy="485.7" rx="1.2" ry="0.9" fill="#a07a7c" opacity="0.38"/>
<ellipse cx="113.6" cy="486.4" rx="1.0" ry="0.9" fill="#8e6468" opacity="0.43"/>
<ellipse cx="163.0" cy="492.4" rx="0.7" ry="0.6" fill="#8e6468" opacity="0.50"/>
<ellipse cx="122.6" cy="480.4" rx="1.0" ry="0.5" fill="#8e6468" opacity="0.36"/>
<ellipse cx="156.8" cy="514.4" rx="0.9" ry="1.1" fill="#9da1d4" opacity="0.57" transform="rotate(165 156.8 514.4)"/>
<ellipse cx="99.1" cy="500.6" rx="1.4" ry="0.8" fill="#9095cf" opacity="0.82" transform="rotate(15 99.1 500.6)"/>
<ellipse cx="121.2" cy="481.9" rx="1.3" ry="0.9" fill="#7a7fbe" opacity="0.51" transform="rotate(47 121.2 481.9)"/>
<ellipse cx="135.3" cy="454.2" rx="1.0" ry="0.7" fill="#9095cf" opacity="0.66" transform="rotate(31 135.3 454.2)"/>
<ellipse cx="164.3" cy="467.0" rx="1.4" ry="0.7" fill="#9095cf" opacity="0.69" transform="rotate(179 164.3 467.0)"/>
<ellipse cx="168.1" cy="458.5" rx="1.1" ry="1.0" fill="#9095cf" opacity="0.84" transform="rotate(72 168.1 458.5)"/>
<ellipse cx="164.2" cy="502.6" rx="1.4" ry="0.7" fill="#9095cf" opacity="0.71" transform="rotate(103 164.2 502.6)"/>
<ellipse cx="108.1" cy="499.9" rx="1.3" ry="0.8" fill="#9095cf" opacity="0.52" transform="rotate(176 108.1 499.9)"/>
<ellipse cx="131.0" cy="508.9" rx="0.8" ry="0.7" fill="#7a7fbe" opacity="0.73" transform="rotate(101 131.0 508.9)"/>
<ellipse cx="151.9" cy="510.2" rx="0.8" ry="1.0" fill="#9095cf" opacity="0.87" transform="rotate(60 151.9 510.2)"/>
<ellipse cx="117.6" cy="470.7" rx="1.1" ry="0.8" fill="#9095cf" opacity="0.73" transform="rotate(25 117.6 470.7)"/>
<ellipse cx="109.0" cy="474.4" rx="0.9" ry="0.6" fill="#7a7fbe" opacity="0.72" transform="rotate(91 109.0 474.4)"/>
<ellipse cx="113.6" cy="474.4" rx="1.3" ry="0.6" fill="#9095cf" opacity="0.59" transform="rotate(57 113.6 474.4)"/>
<ellipse cx="152.8" cy="518.8" rx="1.5" ry="0.9" fill="#9095cf" opacity="0.79" transform="rotate(10 152.8 518.8)"/>
<ellipse cx="131.6" cy="457.7" rx="0.8" ry="1.0" fill="#858ac6" opacity="0.56" transform="rotate(169 131.6 457.7)"/>
<ellipse cx="158.0" cy="489.8" rx="1.2" ry="0.7" fill="#9095cf" opacity="0.56" transform="rotate(25 158.0 489.8)"/>
<ellipse cx="126.9" cy="455.0" rx="1.3" ry="0.8" fill="#9da1d4" opacity="0.72" transform="rotate(163 126.9 455.0)"/>
<ellipse cx="131.2" cy="462.0" rx="1.0" ry="0.9" fill="#9095cf" opacity="0.71" transform="rotate(142 131.2 462.0)"/>
<ellipse cx="130.2" cy="484.9" rx="1.1" ry="0.6" fill="#9da1d4" opacity="0.82" transform="rotate(123 130.2 484.9)"/>
<ellipse cx="99.7" cy="457.8" rx="1.1" ry="0.9" fill="#7a7fbe" opacity="0.82" transform="rotate(68 99.7 457.8)"/>
<ellipse cx="157.0" cy="502.1" rx="1.4" ry="1.1" fill="#858ac6" opacity="0.70" transform="rotate(59 157.0 502.1)"/>
<ellipse cx="129.8" cy="493.1" rx="1.0" ry="0.7" fill="#9da1d4" opacity="0.74" transform="rotate(177 129.8 493.1)"/>
<ellipse cx="124.5" cy="494.0" rx="1.5" ry="0.7" fill="#858ac6" opacity="0.60" transform="rotate(87 124.5 494.0)"/>
<ellipse cx="102.6" cy="479.4" rx="1.2" ry="0.8" fill="#9095cf" opacity="0.53" transform="rotate(32 102.6 479.4)"/>
<ellipse cx="157.9" cy="458.4" rx="1.3" ry="0.8" fill="#9095cf" opacity="0.79" transform="rotate(116 157.9 458.4)"/>
<ellipse cx="166.9" cy="497.8" rx="0.9" ry="0.9" fill="#9da1d4" opacity="0.66" transform="rotate(131 166.9 497.8)"/>
<ellipse cx="167.5" cy="510.0" rx="1.2" ry="1.1" fill="#9da1d4" opacity="0.62" transform="rotate(16 167.5 510.0)"/>
<ellipse cx="133.7" cy="477.2" rx="1.0" ry="0.8" fill="#9da1d4" opacity="0.77" transform="rotate(114 133.7 477.2)"/>
<ellipse cx="164.9" cy="479.6" rx="1.3" ry="1.0" fill="#9095cf" opacity="0.56" transform="rotate(130 164.9 479.6)"/>
<ellipse cx="117.4" cy="461.4" rx="1.4" ry="0.6" fill="#9095cf" opacity="0.58" transform="rotate(96 117.4 461.4)"/>
<ellipse cx="141.2" cy="509.4" rx="1.5" ry="0.7" fill="#9095cf" opacity="0.56" transform="rotate(143 141.2 509.4)"/>
<ellipse cx="162.4" cy="495.8" rx="1.3" ry="0.6" fill="#9095cf" opacity="0.65" transform="rotate(166 162.4 495.8)"/>
<ellipse cx="145.3" cy="497.8" rx="1.4" ry="0.7" fill="#9da1d4" opacity="0.55" transform="rotate(123 145.3 497.8)"/>
<ellipse cx="157.5" cy="496.7" rx="1.3" ry="1.1" fill="#9095cf" opacity="0.50" transform="rotate(35 157.5 496.7)"/>
<ellipse cx="137.7" cy="483.1" rx="1.1" ry="1.0" fill="#9da1d4" opacity="0.57" transform="rotate(167 137.7 483.1)"/>
<ellipse cx="116.8" cy="509.6" rx="1.1" ry="0.8" fill="#858ac6" opacity="0.52" transform="rotate(92 116.8 509.6)"/>
<ellipse cx="106.7" cy="495.6" rx="1.1" ry="1.1" fill="#7a7fbe" opacity="0.72" transform="rotate(165 106.7 495.6)"/>
<ellipse cx="104.6" cy="508.3" rx="0.9" ry="0.7" fill="#9095cf" opacity="0.53" transform="rotate(94 104.6 508.3)"/>
<ellipse cx="163.7" cy="488.8" rx="0.9" ry="0.9" fill="#9da1d4" opacity="0.57" transform="rotate(21 163.7 488.8)"/>
<ellipse cx="137.3" cy="473.8" rx="1.4" ry="0.7" fill="#9da1d4" opacity="0.56" transform="rotate(22 137.3 473.8)"/>
<ellipse cx="161.3" cy="483.8" rx="1.1" ry="0.8" fill="#9095cf" opacity="0.77" transform="rotate(152 161.3 483.8)"/>
<ellipse cx="140.2" cy="491.6" rx="1.0" ry="0.7" fill="#9da1d4" opacity="0.82" transform="rotate(106 140.2 491.6)"/>
<ellipse cx="98.9" cy="495.0" rx="1.1" ry="1.0" fill="#9095cf" opacity="0.73" transform="rotate(58 98.9 495.0)"/>
<ellipse cx="149.3" cy="464.5" rx="1.1" ry="1.1" fill="#858ac6" opacity="0.52" transform="rotate(135 149.3 464.5)"/>
<ellipse cx="150.0" cy="497.5" rx="0.9" ry="1.0" fill="#7a7fbe" opacity="0.83" transform="rotate(37 150.0 497.5)"/>
<ellipse cx="136.0" cy="501.3" rx="1.3" ry="1.0" fill="#858ac6" opacity="0.59" transform="rotate(67 136.0 501.3)"/>
<ellipse cx="145.1" cy="461.8" rx="1.0" ry="0.7" fill="#7a7fbe" opacity="0.68" transform="rotate(117 145.1 461.8)"/>
<ellipse cx="144.4" cy="506.3" rx="1.2" ry="1.1" fill="#9da1d4" opacity="0.61" transform="rotate(107 144.4 506.3)"/>
<ellipse cx="151.3" cy="515.1" rx="1.0" ry="0.9" fill="#858ac6" opacity="0.76" transform="rotate(18 151.3 515.1)"/>
<ellipse cx="120.0" cy="517.3" rx="0.8" ry="0.9" fill="#9095cf" opacity="0.74" transform="rotate(143 120.0 517.3)"/>
<ellipse cx="123.7" cy="478.1" rx="0.9" ry="0.8" fill="#858ac6" opacity="0.55" transform="rotate(174 123.7 478.1)"/>
<ellipse cx="148.7" cy="471.1" rx="1.2" ry="1.1" fill="#9da1d4" opacity="0.78" transform="rotate(99 148.7 471.1)"/>
<ellipse cx="111.0" cy="466.9" rx="1.1" ry="1.1" fill="#7a7fbe" opacity="0.87" transform="rotate(15 111.0 466.9)"/>
<ellipse cx="159.0" cy="505.3" rx="1.1" ry="0.7" fill="#858ac6" opacity="0.58" transform="rotate(118 159.0 505.3)"/>
<ellipse cx="163.9" cy="475.6" rx="0.9" ry="1.1" fill="#7a7fbe" opacity="0.75" transform="rotate(82 163.9 475.6)"/>
<ellipse cx="123.7" cy="467.1" rx="1.3" ry="0.7" fill="#858ac6" opacity="0.90" transform="rotate(23 123.7 467.1)"/>
<ellipse cx="109.9" cy="479.5" rx="1.3" ry="0.9" fill="#9da1d4" opacity="0.62" transform="rotate(136 109.9 479.5)"/>
<ellipse cx="100.5" cy="464.1" rx="0.9" ry="0.9" fill="#7a7fbe" opacity="0.75" transform="rotate(113 100.5 464.1)"/>
<ellipse cx="152.8" cy="503.2" rx="1.0" ry="0.8" fill="#9da1d4" opacity="0.50" transform="rotate(81 152.8 503.2)"/>
<ellipse cx="119.8" cy="457.7" rx="1.2" ry="1.0" fill="#858ac6" opacity="0.73" transform="rotate(140 119.8 457.7)"/>
<ellipse cx="112.7" cy="504.7" rx="1.3" ry="0.9" fill="#9095cf" opacity="0.76" transform="rotate(149 112.7 504.7)"/>
<ellipse cx="108.7" cy="462.0" rx="1.1" ry="0.8" fill="#9095cf" opacity="0.87" transform="rotate(125 108.7 462.0)"/>
<ellipse cx="149.9" cy="476.1" rx="1.5" ry="0.9" fill="#9da1d4" opacity="0.73" transform="rotate(131 149.9 476.1)"/>
<ellipse cx="146.2" cy="482.9" rx="1.3" ry="0.8" fill="#9da1d4" opacity="0.87" transform="rotate(118 146.2 482.9)"/>
<ellipse cx="127.6" cy="517.8" rx="1.2" ry="1.0" fill="#7a7fbe" opacity="0.86" transform="rotate(86 127.6 517.8)"/>
<ellipse cx="106.0" cy="517.8" rx="1.0" ry="0.9" fill="#9da1d4" opacity="0.61" transform="rotate(145 106.0 517.8)"/>
<ellipse cx="123.5" cy="457.2" rx="1.3" ry="0.9" fill="#9095cf" opacity="0.84" transform="rotate(147 123.5 457.2)"/>
<ellipse cx="120.2" cy="497.1" rx="1.2" ry="0.9" fill="#858ac6" opacity="0.52" transform="rotate(104 120.2 497.1)"/>
<ellipse cx="156.5" cy="462.3" rx="1.3" ry="0.8" fill="#9095cf" opacity="0.80" transform="rotate(98 156.5 462.3)"/>
<ellipse cx="98.9" cy="506.6" rx="0.9" ry="1.0" fill="#7a7fbe" opacity="0.90" transform="rotate(21 98.9 506.6)"/>
<ellipse cx="143.6" cy="515.5" rx="0.8" ry="1.1" fill="#9da1d4" opacity="0.56" transform="rotate(169 143.6 515.5)"/>
<ellipse cx="163.9" cy="506.9" rx="0.9" ry="0.9" fill="#7a7fbe" opacity="0.77" transform="rotate(166 163.9 506.9)"/>
<ellipse cx="147.5" cy="458.7" rx="1.2" ry="0.8" fill="#9095cf" opacity="0.69" transform="rotate(8 147.5 458.7)"/>
<ellipse cx="156.1" cy="468.0" rx="0.9" ry="0.8" fill="#7a7fbe" opacity="0.56" transform="rotate(22 156.1 468.0)"/>
<ellipse cx="136.0" cy="505.2" rx="1.3" ry="0.6" fill="#7a7fbe" opacity="0.72" transform="rotate(69 136.0 505.2)"/>
<ellipse cx="106.9" cy="457.3" rx="1.4" ry="0.9" fill="#9da1d4" opacity="0.86" transform="rotate(96 106.9 457.3)"/>
<ellipse cx="132.4" cy="514.4" rx="1.4" ry="0.7" fill="#858ac6" opacity="0.77" transform="rotate(93 132.4 514.4)"/>
<ellipse cx="112.2" cy="498.5" rx="1.3" ry="0.9" fill="#7a7fbe" opacity="0.63" transform="rotate(58 112.2 498.5)"/>
<ellipse cx="112.7" cy="493.6" rx="1.0" ry="1.0" fill="#7a7fbe" opacity="0.83" transform="rotate(158 112.7 493.6)"/>
<ellipse cx="136.3" cy="488.6" rx="1.1" ry="1.1" fill="#858ac6" opacity="0.57" transform="rotate(118 136.3 488.6)"/>
<ellipse cx="151.8" cy="454.3" rx="0.8" ry="0.8" fill="#7a7fbe" opacity="0.62" transform="rotate(101 151.8 454.3)"/>
<ellipse cx="112.3" cy="514.3" rx="1.2" ry="0.9" fill="#858ac6" opacity="0.77" transform="rotate(78 112.3 514.3)"/>
<ellipse cx="141.7" cy="458.7" rx="1.3" ry="0.8" fill="#9da1d4" opacity="0.62" transform="rotate(44 141.7 458.7)"/>
<ellipse cx="123.6" cy="518.8" rx="0.9" ry="1.0" fill="#9095cf" opacity="0.81" transform="rotate(120 123.6 518.8)"/>
<ellipse cx="141.4" cy="474.1" rx="1.3" ry="0.8" fill="#9da1d4" opacity="0.76" transform="rotate(151 141.4 474.1)"/>
<ellipse cx="129.6" cy="488.8" rx="1.1" ry="0.8" fill="#7a7fbe" opacity="0.83" transform="rotate(172 129.6 488.8)"/>
<ellipse cx="110.2" cy="517.8" rx="1.0" ry="1.0" fill="#7a7fbe" opacity="0.66" transform="rotate(55 110.2 517.8)"/>
<ellipse cx="122.4" cy="514.2" rx="1.1" ry="0.9" fill="#7a7fbe" opacity="0.66" transform="rotate(42 122.4 514.2)"/>
<ellipse cx="128.7" cy="476.8" rx="1.2" ry="0.9" fill="#858ac6" opacity="0.81" transform="rotate(145 128.7 476.8)"/>
<ellipse cx="102.4" cy="503.3" rx="0.8" ry="0.9" fill="#9da1d4" opacity="0.71" transform="rotate(103 102.4 503.3)"/>
<ellipse cx="103.2" cy="455.9" rx="0.9" ry="0.7" fill="#9095cf" opacity="0.82" transform="rotate(11 103.2 455.9)"/>
<ellipse cx="155.7" cy="452.9" rx="1.3" ry="1.1" fill="#9da1d4" opacity="0.71" transform="rotate(62 155.7 452.9)"/>
<ellipse cx="129.4" cy="470.3" rx="1.4" ry="1.0" fill="#9095cf" opacity="0.79" transform="rotate(57 129.4 470.3)"/>
<ellipse cx="135.0" cy="493.2" rx="1.2" ry="0.8" fill="#9095cf" opacity="0.80" transform="rotate(171 135.0 493.2)"/>
<ellipse cx="144.7" cy="478.4" rx="1.4" ry="0.9" fill="#9095cf" opacity="0.65" transform="rotate(58 144.7 478.4)"/>
<ellipse cx="117.0" cy="491.1" rx="1.1" ry="1.0" fill="#858ac6" opacity="0.52" transform="rotate(138 117.0 491.1)"/>
<ellipse cx="109.4" cy="511.4" rx="1.5" ry="1.1" fill="#7a7fbe" opacity="0.76" transform="rotate(14 109.4 511.4)"/>
<ellipse cx="153.6" cy="486.4" rx="1.1" ry="0.7" fill="#858ac6" opacity="0.56" transform="rotate(39 153.6 486.4)"/>
<ellipse cx="138.6" cy="513.3" rx="1.2" ry="0.7" fill="#9095cf" opacity="0.74" transform="rotate(63 138.6 513.3)"/>
<ellipse cx="162.4" cy="458.4" rx="0.8" ry="1.0" fill="#9095cf" opacity="0.69" transform="rotate(156 162.4 458.4)"/>
<ellipse cx="100.8" cy="469.2" rx="1.1" ry="0.7" fill="#858ac6" opacity="0.79" transform="rotate(12 100.8 469.2)"/>
<ellipse cx="154.3" cy="493.8" rx="1.0" ry="0.8" fill="#9095cf" opacity="0.64" transform="rotate(150 154.3 493.8)"/>
<ellipse cx="141.3" cy="495.6" rx="1.3" ry="1.0" fill="#9095cf" opacity="0.51" transform="rotate(101 141.3 495.6)"/>
<ellipse cx="126.1" cy="472.5" rx="1.4" ry="1.0" fill="#7a7fbe" opacity="0.65" transform="rotate(174 126.1 472.5)"/>
<ellipse cx="99.4" cy="486.2" rx="1.0" ry="0.7" fill="#7a7fbe" opacity="0.66" transform="rotate(177 99.4 486.2)"/>
<ellipse cx="104.9" cy="469.6" rx="0.8" ry="1.1" fill="#858ac6" opacity="0.88" transform="rotate(151 104.9 469.6)"/>
<ellipse cx="156.1" cy="477.8" rx="0.8" ry="0.8" fill="#7a7fbe" opacity="0.76" transform="rotate(102 156.1 477.8)"/>
<ellipse cx="109.3" cy="488.1" rx="0.9" ry="0.7" fill="#858ac6" opacity="0.59" transform="rotate(72 109.3 488.1)"/>
<ellipse cx="162.0" cy="515.3" rx="1.3" ry="0.7" fill="#7a7fbe" opacity="0.57" transform="rotate(100 162.0 515.3)"/>
<ellipse cx="114.5" cy="483.0" rx="1.2" ry="1.0" fill="#858ac6" opacity="0.80" transform="rotate(61 114.5 483.0)"/>
<ellipse cx="104.4" cy="476.0" rx="1.2" ry="0.7" fill="#858ac6" opacity="0.83" transform="rotate(81 104.4 476.0)"/>
<ellipse cx="123.7" cy="504.3" rx="1.1" ry="0.8" fill="#9095cf" opacity="0.70" transform="rotate(128 123.7 504.3)"/>
<ellipse cx="128.9" cy="501.2" rx="1.4" ry="0.7" fill="#9da1d4" opacity="0.54" transform="rotate(113 128.9 501.2)"/>
<ellipse cx="143.0" cy="467.4" rx="1.0" ry="0.9" fill="#7a7fbe" opacity="0.50" transform="rotate(160 143.0 467.4)"/>
<ellipse cx="124.9" cy="487.1" rx="1.0" ry="0.9" fill="#7a7fbe" opacity="0.76" transform="rotate(6 124.9 487.1)"/>
<ellipse cx="157.7" cy="482.6" rx="1.1" ry="0.6" fill="#858ac6" opacity="0.67" transform="rotate(67 157.7 482.6)"/>
<ellipse cx="153.8" cy="482.4" rx="1.2" ry="0.7" fill="#858ac6" opacity="0.68" transform="rotate(106 153.8 482.4)"/>
<ellipse cx="102.7" cy="515.9" rx="0.9" ry="1.0" fill="#9da1d4" opacity="0.76" transform="rotate(141 102.7 515.9)"/>
<ellipse cx="113.2" cy="459.6" rx="1.3" ry="1.0" fill="#9da1d4" opacity="0.79" transform="rotate(63 113.2 459.6)"/>
<ellipse cx="133.5" cy="497.3" rx="1.2" ry="0.9" fill="#9095cf" opacity="0.71" transform="rotate(169 133.5 497.3)"/>
<ellipse cx="145.7" cy="454.8" rx="1.0" ry="1.0" fill="#9da1d4" opacity="0.90" transform="rotate(85 145.7 454.8)"/>
<ellipse cx="121.8" cy="508.3" rx="1.2" ry="0.7" fill="#858ac6" opacity="0.50" transform="rotate(20 121.8 508.3)"/>
<ellipse cx="126.1" cy="498.4" rx="1.5" ry="1.0" fill="#9095cf" opacity="0.51" transform="rotate(159 126.1 498.4)"/>
<ellipse cx="164.7" cy="462.3" rx="1.1" ry="0.9" fill="#858ac6" opacity="0.76" transform="rotate(125 164.7 462.3)"/>
<ellipse cx="118.0" cy="502.5" rx="0.8" ry="0.8" fill="#7a7fbe" opacity="0.68" transform="rotate(172 118.0 502.5)"/>
<ellipse cx="113.9" cy="488.8" rx="1.3" ry="0.6" fill="#9095cf" opacity="0.61" transform="rotate(16 113.9 488.8)"/>
<ellipse cx="141.3" cy="501.4" rx="1.5" ry="1.0" fill="#9da1d4" opacity="0.59" transform="rotate(131 141.3 501.4)"/>
<ellipse cx="98.6" cy="479.1" rx="1.1" ry="0.7" fill="#9da1d4" opacity="0.84" transform="rotate(131 98.6 479.1)"/>
<ellipse cx="105.3" cy="487.3" rx="0.9" ry="0.8" fill="#858ac6" opacity="0.87" transform="rotate(120 105.3 487.3)"/>
<ellipse cx="164.3" cy="454.0" rx="1.4" ry="1.0" fill="#9095cf" opacity="0.72" transform="rotate(46 164.3 454.0)"/>
<ellipse cx="160.8" cy="463.2" rx="1.5" ry="1.0" fill="#858ac6" opacity="0.79" transform="rotate(89 160.8 463.2)"/>
<ellipse cx="145.4" cy="491.4" rx="1.5" ry="1.0" fill="#858ac6" opacity="0.64" transform="rotate(141 145.4 491.4)"/>
<ellipse cx="134.4" cy="465.6" rx="1.1" ry="0.6" fill="#9095cf" opacity="0.81" transform="rotate(159 134.4 465.6)"/>
<ellipse cx="138.9" cy="463.6" rx="1.4" ry="0.9" fill="#858ac6" opacity="0.60" transform="rotate(173 138.9 463.6)"/>
<ellipse cx="119.7" cy="474.6" rx="1.5" ry="0.8" fill="#9da1d4" opacity="0.67" transform="rotate(137 119.7 474.6)"/>
<ellipse cx="127.3" cy="466.3" rx="1.4" ry="1.1" fill="#9da1d4" opacity="0.77" transform="rotate(147 127.3 466.3)"/>
<ellipse cx="164.9" cy="517.6" rx="1.1" ry="0.8" fill="#7a7fbe" opacity="0.57" transform="rotate(28 164.9 517.6)"/>
<ellipse cx="147.4" cy="501.1" rx="1.0" ry="0.7" fill="#9da1d4" opacity="0.74" transform="rotate(136 147.4 501.1)"/>
<ellipse cx="125.8" cy="462.6" rx="1.4" ry="0.9" fill="#9095cf" opacity="0.83" transform="rotate(152 125.8 462.6)"/>
<ellipse cx="112.7" cy="470.6" rx="1.1" ry="1.0" fill="#7a7fbe" opacity="0.52" transform="rotate(15 112.7 470.6)"/>
<ellipse cx="106.0" cy="503.1" rx="0.9" ry="0.8" fill="#858ac6" opacity="0.81" transform="rotate(88 106.0 503.1)"/>
<ellipse cx="102.9" cy="494.4" rx="1.3" ry="0.9" fill="#9da1d4" opacity="0.67" transform="rotate(28 102.9 494.4)"/>
<ellipse cx="149.4" cy="507.3" rx="1.0" ry="0.8" fill="#9da1d4" opacity="0.62" transform="rotate(77 149.4 507.3)"/>
<ellipse cx="108.2" cy="453.9" rx="0.9" ry="0.7" fill="#9da1d4" opacity="0.74" transform="rotate(28 108.2 453.9)"/>
<ellipse cx="126.8" cy="513.9" rx="1.0" ry="1.0" fill="#7a7fbe" opacity="0.81" transform="rotate(170 126.8 513.9)"/>
<ellipse cx="165.8" cy="470.4" rx="1.2" ry="0.8" fill="#858ac6" opacity="0.75" transform="rotate(24 165.8 470.4)"/>
<ellipse cx="150.5" cy="489.2" rx="1.3" ry="1.1" fill="#858ac6" opacity="0.72" transform="rotate(22 150.5 489.2)"/>
<ellipse cx="119.6" cy="488.6" rx="1.3" ry="1.0" fill="#9095cf" opacity="0.90" transform="rotate(125 119.6 488.6)"/>
<ellipse cx="151.7" cy="468.3" rx="0.8" ry="0.6" fill="#7a7fbe" opacity="0.56" transform="rotate(135 151.7 468.3)"/>
<ellipse cx="116.4" cy="476.8" rx="1.0" ry="0.9" fill="#7a7fbe" opacity="0.76" transform="rotate(96 116.4 476.8)"/>
<ellipse cx="166.4" cy="483.7" rx="0.8" ry="0.8" fill="#9095cf" opacity="0.51" transform="rotate(142 166.4 483.7)"/>
<ellipse cx="119.2" cy="453.4" rx="1.1" ry="0.7" fill="#858ac6" opacity="0.89" transform="rotate(158 119.2 453.4)"/>
<ellipse cx="159.2" cy="518.9" rx="1.3" ry="0.8" fill="#858ac6" opacity="0.86" transform="rotate(128 159.2 518.9)"/>
<ellipse cx="104.9" cy="482.7" rx="0.9" ry="0.9" fill="#7a7fbe" opacity="0.89" transform="rotate(35 104.9 482.7)"/>
<ellipse cx="146.6" cy="511.6" rx="1.3" ry="0.7" fill="#9da1d4" opacity="0.73" transform="rotate(145 146.6 511.6)"/>
<ellipse cx="98.5" cy="490.6" rx="1.1" ry="1.0" fill="#9da1d4" opacity="0.67" transform="rotate(172 98.5 490.6)"/>
<ellipse cx="147.5" cy="518.0" rx="0.8" ry="0.8" fill="#858ac6" opacity="0.74" transform="rotate(100 147.5 518.0)"/>
<ellipse cx="120.8" cy="464.2" rx="0.8" ry="1.1" fill="#9da1d4" opacity="0.89" transform="rotate(29 120.8 464.2)"/>
<ellipse cx="113.4" cy="452.3" rx="0.9" ry="0.8" fill="#858ac6" opacity="0.64" transform="rotate(24 113.4 452.3)"/>
<ellipse cx="163.7" cy="510.6" rx="0.9" ry="1.1" fill="#7a7fbe" opacity="0.90" transform="rotate(165 163.7 510.6)"/>
<ellipse cx="131.1" cy="453.3" rx="1.4" ry="1.0" fill="#7a7fbe" opacity="0.80" transform="rotate(40 131.1 453.3)"/>
<ellipse cx="160.4" cy="467.3" rx="0.8" ry="0.8" fill="#858ac6" opacity="0.84" transform="rotate(157 160.4 467.3)"/>
<ellipse cx="134.2" cy="518.3" rx="1.3" ry="0.8" fill="#9da1d4" opacity="0.58" transform="rotate(54 134.2 518.3)"/>
<ellipse cx="126.1" cy="508.6" rx="1.0" ry="0.9" fill="#858ac6" opacity="0.56" transform="rotate(83 126.1 508.6)"/>
<ellipse cx="99.4" cy="453.9" rx="1.0" ry="0.7" fill="#9da1d4" opacity="0.59" transform="rotate(123 99.4 453.9)"/>
<ellipse cx="160.4" cy="477.8" rx="0.9" ry="0.7" fill="#7a7fbe" opacity="0.61" transform="rotate(46 160.4 477.8)"/>
<ellipse cx="105.5" cy="511.8" rx="1.3" ry="0.9" fill="#9095cf" opacity="0.60" transform="rotate(77 105.5 511.8)"/>
<ellipse cx="106.8" cy="490.9" rx="1.3" ry="0.9" fill="#7a7fbe" opacity="0.74" transform="rotate(36 106.8 490.9)"/>
<ellipse cx="140.3" cy="486.0" rx="0.9" ry="0.8" fill="#9da1d4" opacity="0.72" transform="rotate(60 140.3 486.0)"/>
<ellipse cx="139.5" cy="467.8" rx="1.2" ry="0.9" fill="#9da1d4" opacity="0.69" transform="rotate(63 139.5 467.8)"/>
<ellipse cx="109.8" cy="483.8" rx="1.4" ry="1.0" fill="#9da1d4" opacity="0.63" transform="rotate(173 109.8 483.8)"/>
<ellipse cx="154.6" cy="499.3" rx="1.5" ry="1.1" fill="#7a7fbe" opacity="0.73" transform="rotate(140 154.6 499.3)"/>
<ellipse cx="151.0" cy="479.9" rx="1.4" ry="0.7" fill="#7a7fbe" opacity="0.58" transform="rotate(59 151.0 479.9)"/>
<ellipse cx="134.5" cy="510.7" rx="0.8" ry="0.6" fill="#7a7fbe" opacity="0.66" transform="rotate(90 134.5 510.7)"/>
<ellipse cx="138.1" cy="457.4" rx="1.0" ry="0.7" fill="#858ac6" opacity="0.86" transform="rotate(10 138.1 457.4)"/>
<ellipse cx="155.4" cy="473.4" rx="1.1" ry="0.9" fill="#9da1d4" opacity="0.81" transform="rotate(20 155.4 473.4)"/>
<ellipse cx="151.1" cy="460.0" rx="1.2" ry="0.9" fill="#9da1d4" opacity="0.61" transform="rotate(89 151.1 460.0)"/>
<ellipse cx="168.2" cy="464.5" rx="0.8" ry="1.0" fill="#9095cf" opacity="0.69" transform="rotate(132 168.2 464.5)"/>
<ellipse cx="116.5" cy="466.2" rx="1.1" ry="0.8" fill="#9095cf" opacity="0.51" transform="rotate(1 116.5 466.2)"/>
<ellipse cx="99.8" cy="511.6" rx="1.3" ry="0.9" fill="#7a7fbe" opacity="0.65" transform="rotate(46 99.8 511.6)"/>
<ellipse cx="112.7" cy="509.3" rx="0.8" ry="1.0" fill="#7a7fbe" opacity="0.85" transform="rotate(22 112.7 509.3)"/>
<ellipse cx="116.8" cy="514.6" rx="0.8" ry="0.7" fill="#9095cf" opacity="0.58" transform="rotate(80 116.8 514.6)"/>
<ellipse cx="99.0" cy="516.0" rx="1.4" ry="0.7" fill="#858ac6" opacity="0.71" transform="rotate(104 99.0 516.0)"/>
<ellipse cx="127.3" cy="504.9" rx="1.2" ry="0.8" fill="#9da1d4" opacity="0.75" transform="rotate(23 127.3 504.9)"/>
<ellipse cx="144.3" cy="487.9" rx="1.3" ry="0.9" fill="#9095cf" opacity="0.84" transform="rotate(41 144.3 487.9)"/>
<ellipse cx="131.3" cy="474.2" rx="0.9" ry="0.7" fill="#9da1d4" opacity="0.61" transform="rotate(157 131.3 474.2)"/>
<ellipse cx="168.2" cy="454.1" rx="1.3" ry="0.7" fill="#9da1d4" opacity="0.52" transform="rotate(24 168.2 454.1)"/>
<ellipse cx="122.3" cy="500.2" rx="1.5" ry="0.9" fill="#7a7fbe" opacity="0.74" transform="rotate(135 122.3 500.2)"/>
<ellipse cx="137.1" cy="496.3" rx="1.5" ry="0.7" fill="#9095cf" opacity="0.86" transform="rotate(85 137.1 496.3)"/>
<ellipse cx="132.7" cy="481.9" rx="1.2" ry="1.0" fill="#858ac6" opacity="0.71" transform="rotate(8 132.7 481.9)"/>
<ellipse cx="139.1" cy="453.1" rx="1.1" ry="0.7" fill="#858ac6" opacity="0.54" transform="rotate(109 139.1 453.1)"/>
<ellipse cx="148.7" cy="486.1" rx="0.9" ry="0.6" fill="#9da1d4" opacity="0.70" transform="rotate(104 148.7 486.1)"/>
<ellipse cx="161.0" cy="492.0" rx="0.8" ry="0.7" fill="#7a7fbe" opacity="0.89" transform="rotate(33 161.0 492.0)"/>
<ellipse cx="102.3" cy="472.7" rx="1.3" ry="0.7" fill="#9da1d4" opacity="0.72" transform="rotate(20 102.3 472.7)"/>
<ellipse cx="167.5" cy="505.1" rx="0.9" ry="0.7" fill="#7a7fbe" opacity="0.58" transform="rotate(157 167.5 505.1)"/>
<ellipse cx="164.6" cy="492.6" rx="0.9" ry="0.8" fill="#7a7fbe" opacity="0.60" transform="rotate(142 164.6 492.6)"/>
<ellipse cx="133.7" cy="469.6" rx="1.0" ry="0.8" fill="#9da1d4" opacity="0.59" transform="rotate(103 133.7 469.6)"/>
<ellipse cx="167.9" cy="473.4" rx="1.0" ry="0.6" fill="#9da1d4" opacity="0.78" transform="rotate(5 167.9 473.4)"/>
<ellipse cx="159.8" cy="473.8" rx="0.9" ry="0.7" fill="#858ac6" opacity="0.83" transform="rotate(125 159.8 473.8)"/>
<ellipse cx="125.5" cy="483.5" rx="1.4" ry="1.1" fill="#858ac6" opacity="0.60" transform="rotate(6 125.5 483.5)"/>
<ellipse cx="123.6" cy="452.8" rx="1.3" ry="1.0" fill="#858ac6" opacity="0.63" transform="rotate(150 123.6 452.8)"/>
<ellipse cx="167.9" cy="487.2" rx="1.4" ry="0.9" fill="#858ac6" opacity="0.82" transform="rotate(95 167.9 487.2)"/>
<ellipse cx="99.2" cy="475.1" rx="1.4" ry="0.9" fill="#9095cf" opacity="0.67" transform="rotate(110 99.2 475.1)"/>
<ellipse cx="148.5" cy="494.1" rx="1.4" ry="0.9" fill="#7a7fbe" opacity="0.74" transform="rotate(172 148.5 494.1)"/>
<ellipse cx="140.7" cy="479.4" rx="1.4" ry="1.0" fill="#7a7fbe" opacity="0.71" transform="rotate(130 140.7 479.4)"/>
<ellipse cx="168.2" cy="513.9" rx="1.5" ry="1.0" fill="#858ac6" opacity="0.85" transform="rotate(141 168.2 513.9)"/>
<ellipse cx="157.7" cy="510.0" rx="0.9" ry="0.7" fill="#9da1d4" opacity="0.60" transform="rotate(129 157.7 510.0)"/>
<ellipse cx="112.4" cy="455.9" rx="0.8" ry="0.7" fill="#7a7fbe" opacity="0.60" transform="rotate(34 112.4 455.9)"/>
<ellipse cx="153.0" cy="464.4" rx="1.0" ry="1.0" fill="#7a7fbe" opacity="0.69" transform="rotate(99 153.0 464.4)"/>
<ellipse cx="116.0" cy="456.1" rx="1.5" ry="0.8" fill="#7a7fbe" opacity="0.66" transform="rotate(106 116.0 456.1)"/>
<ellipse cx="104.4" cy="452.5" rx="1.4" ry="0.8" fill="#9da1d4" opacity="0.81" transform="rotate(142 104.4 452.5)"/>
<ellipse cx="143.1" cy="452.2" rx="0.8" ry="1.1" fill="#9da1d4" opacity="0.70" transform="rotate(8 143.1 452.2)"/>
<ellipse cx="117.9" cy="480.1" rx="1.3" ry="0.7" fill="#9da1d4" opacity="0.75" transform="rotate(143 117.9 480.1)"/>
<ellipse cx="160.2" cy="452.4" rx="1.0" ry="0.8" fill="#9da1d4" opacity="0.56" transform="rotate(137 160.2 452.4)"/>
<ellipse cx="120.5" cy="493.5" rx="0.9" ry="1.0" fill="#9da1d4" opacity="0.88" transform="rotate(149 120.5 493.5)"/>
<ellipse cx="116.7" cy="518.8" rx="1.0" ry="1.0" fill="#9da1d4" opacity="0.59" transform="rotate(53 116.7 518.8)"/>
<ellipse cx="107.0" cy="466.5" rx="0.9" ry="0.7" fill="#9da1d4" opacity="0.73" transform="rotate(90 107.0 466.5)"/>
<ellipse cx="140.6" cy="517.8" rx="1.4" ry="0.7" fill="#858ac6" opacity="0.57" transform="rotate(39 140.6 517.8)"/>
<ellipse cx="154.3" cy="507.0" rx="1.2" ry="0.7" fill="#9da1d4" opacity="0.81" transform="rotate(7 154.3 507.0)"/>
<ellipse cx="103.2" cy="498.8" rx="1.5" ry="1.1" fill="#7a7fbe" opacity="0.64" transform="rotate(137 103.2 498.8)"/>
<ellipse cx="160.8" cy="500.9" rx="1.4" ry="1.0" fill="#9da1d4" opacity="0.88" transform="rotate(27 160.8 500.9)"/>
<ellipse cx="109.3" cy="507.1" rx="0.9" ry="0.7" fill="#9095cf" opacity="0.52" transform="rotate(35 109.3 507.1)"/>
<ellipse cx="103.0" cy="490.2" rx="1.0" ry="1.0" fill="#7a7fbe" opacity="0.81" transform="rotate(120 103.0 490.2)"/>
<ellipse cx="135.0" cy="460.8" rx="1.2" ry="0.8" fill="#858ac6" opacity="0.79" transform="rotate(12 135.0 460.8)"/>
<ellipse cx="122.1" cy="471.9" rx="1.0" ry="1.0" fill="#7a7fbe" opacity="0.64" transform="rotate(62 122.1 471.9)"/>
<ellipse cx="118.0" cy="484.4" rx="1.3" ry="0.8" fill="#858ac6" opacity="0.78" transform="rotate(23 118.0 484.4)"/>
<ellipse cx="104.8" cy="460.8" rx="1.3" ry="0.9" fill="#9095cf" opacity="0.64" transform="rotate(165 104.8 460.8)"/>
<ellipse cx="115.4" cy="496.6" rx="1.0" ry="0.8" fill="#858ac6" opacity="0.80" transform="rotate(9 115.4 496.6)"/>
<ellipse cx="145.8" cy="474.4" rx="1.0" ry="1.1" fill="#9da1d4" opacity="0.85" transform="rotate(129 145.8 474.4)"/>
<ellipse cx="139.7" cy="505.8" rx="1.1" ry="0.8" fill="#858ac6" opacity="0.60" transform="rotate(148 139.7 505.8)"/>
<ellipse cx="131.6" cy="504.7" rx="1.1" ry="0.6" fill="#7a7fbe" opacity="0.82" transform="rotate(2 131.6 504.7)"/>
<ellipse cx="113.7" cy="479.2" rx="0.9" ry="1.0" fill="#9da1d4" opacity="0.54" transform="rotate(100 113.7 479.2)"/>
<ellipse cx="129.2" cy="480.8" rx="1.0" ry="0.9" fill="#9095cf" opacity="0.86" transform="rotate(134 129.2 480.8)"/>
<ellipse cx="167.9" cy="477.6" rx="1.3" ry="0.7" fill="#858ac6" opacity="0.71" transform="rotate(79 167.9 477.6)"/>
<ellipse cx="101.1" cy="482.9" rx="0.9" ry="0.7" fill="#7a7fbe" opacity="0.90" transform="rotate(176 101.1 482.9)"/>
<ellipse cx="148.5" cy="452.4" rx="0.9" ry="0.9" fill="#9095cf" opacity="0.77" transform="rotate(73 148.5 452.4)"/>
<ellipse cx="112.9" cy="463.2" rx="1.3" ry="0.8" fill="#9da1d4" opacity="0.62" transform="rotate(131 112.9 463.2)"/>
<ellipse cx="118.7" cy="506.1" rx="0.9" ry="1.0" fill="#858ac6" opacity="0.59" transform="rotate(173 118.7 506.1)"/>
</g>
<rect x="99.4" y="453" width="67.9" height="65" fill="none" stroke="#3a3a55" stroke-width="0.6"/>
<line x1="150.8" y1="515.8" x2="165.8" y2="515.8" stroke="#1a1a1a" stroke-width="0.8"/>
<text x="99.80000000000001" y="528" font-size="7" text-anchor="start" font-weight="normal" fill="#111" stroke="#111" stroke-width="0.12" textLength="46" lengthAdjust="spacingAndGlyphs">MCT4 Score 1</text>
<clipPath id="clip2"><rect x="172.5" y="453" width="67.9" height="65"/></clipPath>
<g clip-path="url(#clip2)">
<rect x="172.5" y="453" width="67.9" height="65" fill="#8c5230"/>
<ellipse cx="194.8" cy="512.4" rx="3.9" ry="1.5" fill="#c08850" opacity="0.80" transform="rotate(116 194.8 512.4)"/>
<ellipse cx="181.6" cy="501.4" rx="1.5" ry="1.8" fill="#b87844" opacity="0.63" transform="rotate(177 181.6 501.4)"/>
<ellipse cx="221.5" cy="502.9" rx="1.7" ry="1.1" fill="#a86430" opacity="0.72" transform="rotate(115 221.5 502.9)"/>
<ellipse cx="183.1" cy="472.7" rx="3.1" ry="1.5" fill="#a86430" opacity="0.57" transform="rotate(33 183.1 472.7)"/>
<ellipse cx="230.9" cy="475.5" rx="3.2" ry="0.8" fill="#6a3212" opacity="0.57" transform="rotate(117 230.9 475.5)"/>
<ellipse cx="212.4" cy="476.9" rx="2.2" ry="1.7" fill="#b87844" opacity="0.62" transform="rotate(164 212.4 476.9)"/>
<ellipse cx="238.9" cy="457.6" rx="3.1" ry="1.4" fill="#c08850" opacity="0.52" transform="rotate(41 238.9 457.6)"/>
<ellipse cx="218.9" cy="457.2" rx="3.3" ry="1.9" fill="#643018" opacity="0.71" transform="rotate(155 218.9 457.2)"/>
<ellipse cx="221.7" cy="483.4" rx="1.6" ry="1.8" fill="#a86430" opacity="0.55" transform="rotate(140 221.7 483.4)"/>
<ellipse cx="203.1" cy="493.4" rx="3.7" ry="1.2" fill="#643018" opacity="0.78" transform="rotate(64 203.1 493.4)"/>
<ellipse cx="199.3" cy="493.2" rx="2.0" ry="1.3" fill="#643018" opacity="0.86" transform="rotate(33 199.3 493.2)"/>
<ellipse cx="208.2" cy="483.2" rx="3.2" ry="1.5" fill="#6a3212" opacity="0.83" transform="rotate(35 208.2 483.2)"/>
<ellipse cx="195.0" cy="514.1" rx="3.3" ry="1.1" fill="#6a3212" opacity="0.54" transform="rotate(74 195.0 514.1)"/>
<ellipse cx="204.9" cy="453.8" rx="2.2" ry="1.8" fill="#7a4020" opacity="0.55" transform="rotate(95 204.9 453.8)"/>
<ellipse cx="239.1" cy="475.5" rx="3.2" ry="1.6" fill="#643018" opacity="0.62" transform="rotate(45 239.1 475.5)"/>
<ellipse cx="228.0" cy="453.7" rx="3.3" ry="2.0" fill="#7a4020" opacity="0.87" transform="rotate(14 228.0 453.7)"/>
<ellipse cx="194.9" cy="490.5" rx="3.0" ry="1.7" fill="#6a3212" opacity="0.54" transform="rotate(19 194.9 490.5)"/>
<ellipse cx="210.7" cy="513.4" rx="2.1" ry="1.2" fill="#b87844" opacity="0.53" transform="rotate(88 210.7 513.4)"/>
<ellipse cx="185.8" cy="512.5" rx="2.5" ry="0.9" fill="#7a4020" opacity="0.62" transform="rotate(39 185.8 512.5)"/>
<ellipse cx="173.0" cy="473.8" rx="2.7" ry="2.0" fill="#5c2a10" opacity="0.80" transform="rotate(139 173.0 473.8)"/>
<ellipse cx="209.8" cy="491.8" rx="1.7" ry="1.6" fill="#b87844" opacity="0.84" transform="rotate(35 209.8 491.8)"/>
<ellipse cx="227.1" cy="462.5" rx="2.7" ry="0.9" fill="#6a3212" opacity="0.51" transform="rotate(150 227.1 462.5)"/>
<ellipse cx="237.1" cy="458.7" rx="3.5" ry="0.8" fill="#a86430" opacity="0.87" transform="rotate(89 237.1 458.7)"/>
<ellipse cx="181.4" cy="464.0" rx="3.4" ry="2.0" fill="#643018" opacity="0.79" transform="rotate(131 181.4 464.0)"/>
<ellipse cx="213.1" cy="473.6" rx="2.7" ry="1.2" fill="#a86430" opacity="0.65" transform="rotate(59 213.1 473.6)"/>
<ellipse cx="215.7" cy="506.9" rx="3.8" ry="1.9" fill="#a86430" opacity="0.89" transform="rotate(3 215.7 506.9)"/>
<ellipse cx="214.7" cy="480.7" rx="2.5" ry="1.1" fill="#c08850" opacity="0.72" transform="rotate(63 214.7 480.7)"/>
<ellipse cx="218.7" cy="467.9" rx="2.0" ry="0.8" fill="#643018" opacity="0.90" transform="rotate(33 218.7 467.9)"/>
<ellipse cx="172.9" cy="506.6" rx="1.5" ry="1.1" fill="#a86430" opacity="0.59" transform="rotate(127 172.9 506.6)"/>
<ellipse cx="217.2" cy="502.8" rx="2.6" ry="1.5" fill="#643018" opacity="0.60" transform="rotate(173 217.2 502.8)"/>
<ellipse cx="187.3" cy="478.2" rx="3.2" ry="1.0" fill="#5c2a10" opacity="0.76" transform="rotate(82 187.3 478.2)"/>
<ellipse cx="195.2" cy="482.6" rx="1.7" ry="1.3" fill="#c08850" opacity="0.60" transform="rotate(19 195.2 482.6)"/>
<ellipse cx="186.8" cy="509.0" rx="3.2" ry="0.9" fill="#c08850" opacity="0.66" transform="rotate(17 186.8 509.0)"/>
<ellipse cx="217.8" cy="504.4" rx="1.6" ry="0.8" fill="#c08850" opacity="0.59" transform="rotate(51 217.8 504.4)"/>
<ellipse cx="218.5" cy="503.8" rx="1.8" ry="1.7" fill="#6a3212" opacity="0.86" transform="rotate(11 218.5 503.8)"/>
<ellipse cx="240.2" cy="514.6" rx="3.1" ry="1.7" fill="#c08850" opacity="0.88" transform="rotate(49 240.2 514.6)"/>
<ellipse cx="202.9" cy="486.1" rx="3.8" ry="1.2" fill="#6a3212" opacity="0.77" transform="rotate(109 202.9 486.1)"/>
<ellipse cx="232.0" cy="490.1" rx="2.4" ry="1.3" fill="#a86430" opacity="0.63" transform="rotate(81 232.0 490.1)"/>
<ellipse cx="197.6" cy="472.2" rx="1.8" ry="1.1" fill="#7a4020" opacity="0.76" transform="rotate(34 197.6 472.2)"/>
<ellipse cx="231.9" cy="464.1" rx="3.0" ry="0.9" fill="#a86430" opacity="0.60" transform="rotate(131 231.9 464.1)"/>
<ellipse cx="238.7" cy="455.0" rx="3.0" ry="1.9" fill="#643018" opacity="0.62" transform="rotate(8 238.7 455.0)"/>
<ellipse cx="191.5" cy="466.1" rx="1.9" ry="1.3" fill="#5c2a10" opacity="0.76" transform="rotate(128 191.5 466.1)"/>
<ellipse cx="201.3" cy="453.1" rx="2.2" ry="1.5" fill="#a86430" opacity="0.66" transform="rotate(144 201.3 453.1)"/>
<ellipse cx="228.8" cy="481.1" rx="3.1" ry="1.7" fill="#c08850" opacity="0.65" transform="rotate(159 228.8 481.1)"/>
<ellipse cx="210.6" cy="499.9" rx="3.8" ry="0.9" fill="#5c2a10" opacity="0.72" transform="rotate(117 210.6 499.9)"/>
<ellipse cx="196.5" cy="465.8" rx="3.1" ry="1.9" fill="#b87844" opacity="0.59" transform="rotate(36 196.5 465.8)"/>
<ellipse cx="199.1" cy="492.9" rx="3.7" ry="1.2" fill="#6a3212" opacity="0.82" transform="rotate(75 199.1 492.9)"/>
<ellipse cx="232.5" cy="512.1" rx="1.7" ry="1.0" fill="#643018" opacity="0.75" transform="rotate(98 232.5 512.1)"/>
<ellipse cx="189.0" cy="475.3" rx="1.7" ry="1.5" fill="#a86430" opacity="0.51" transform="rotate(151 189.0 475.3)"/>
<ellipse cx="237.4" cy="509.9" rx="3.8" ry="1.5" fill="#643018" opacity="0.53" transform="rotate(142 237.4 509.9)"/>
<ellipse cx="174.9" cy="510.8" rx="2.7" ry="1.2" fill="#6a3212" opacity="0.60" transform="rotate(145 174.9 510.8)"/>
<ellipse cx="217.1" cy="472.1" rx="2.0" ry="1.7" fill="#a86430" opacity="0.57" transform="rotate(60 217.1 472.1)"/>
<ellipse cx="224.1" cy="481.6" rx="2.4" ry="0.9" fill="#a86430" opacity="0.57" transform="rotate(106 224.1 481.6)"/>
<ellipse cx="189.9" cy="471.3" rx="1.8" ry="1.7" fill="#7a4020" opacity="0.56" transform="rotate(159 189.9 471.3)"/>
<ellipse cx="220.5" cy="468.5" rx="3.4" ry="0.9" fill="#7a4020" opacity="0.70" transform="rotate(162 220.5 468.5)"/>
<ellipse cx="219.9" cy="510.8" rx="2.2" ry="1.1" fill="#c08850" opacity="0.67" transform="rotate(92 219.9 510.8)"/>
<ellipse cx="195.7" cy="489.7" rx="3.5" ry="1.0" fill="#c08850" opacity="0.84" transform="rotate(110 195.7 489.7)"/>
<ellipse cx="234.1" cy="501.8" rx="1.8" ry="0.9" fill="#b87844" opacity="0.52" transform="rotate(109 234.1 501.8)"/>
<ellipse cx="188.3" cy="479.6" rx="3.3" ry="1.4" fill="#643018" opacity="0.58" transform="rotate(154 188.3 479.6)"/>
<ellipse cx="197.1" cy="498.2" rx="2.7" ry="1.1" fill="#5c2a10" opacity="0.70" transform="rotate(56 197.1 498.2)"/>
<ellipse cx="219.8" cy="454.2" rx="2.8" ry="1.3" fill="#5c2a10" opacity="0.63" transform="rotate(156 219.8 454.2)"/>
<ellipse cx="186.1" cy="502.9" rx="3.4" ry="1.6" fill="#5c2a10" opacity="0.87" transform="rotate(140 186.1 502.9)"/>
<ellipse cx="193.2" cy="514.8" rx="2.1" ry="0.8" fill="#6a3212" opacity="0.70" transform="rotate(62 193.2 514.8)"/>
<ellipse cx="233.0" cy="469.3" rx="3.5" ry="1.3" fill="#b87844" opacity="0.66" transform="rotate(112 233.0 469.3)"/>
<ellipse cx="192.8" cy="464.4" rx="1.7" ry="0.9" fill="#643018" opacity="0.75" transform="rotate(126 192.8 464.4)"/>
<ellipse cx="216.7" cy="485.1" rx="1.8" ry="1.1" fill="#c08850" opacity="0.80" transform="rotate(18 216.7 485.1)"/>
<ellipse cx="174.9" cy="488.3" rx="3.4" ry="1.2" fill="#a86430" opacity="0.64" transform="rotate(115 174.9 488.3)"/>
<ellipse cx="214.3" cy="502.6" rx="2.2" ry="1.7" fill="#a86430" opacity="0.87" transform="rotate(159 214.3 502.6)"/>
<ellipse cx="178.9" cy="503.3" rx="3.2" ry="1.6" fill="#7a4020" opacity="0.64" transform="rotate(31 178.9 503.3)"/>
<ellipse cx="234.6" cy="457.7" rx="3.0" ry="1.4" fill="#7a4020" opacity="0.66" transform="rotate(92 234.6 457.7)"/>
<ellipse cx="224.7" cy="499.9" rx="2.3" ry="0.9" fill="#c08850" opacity="0.77" transform="rotate(6 224.7 499.9)"/>
<ellipse cx="173.4" cy="462.3" rx="3.4" ry="1.0" fill="#b87844" opacity="0.65" transform="rotate(62 173.4 462.3)"/>
<ellipse cx="213.6" cy="464.5" rx="2.1" ry="1.3" fill="#5c2a10" opacity="0.54" transform="rotate(161 213.6 464.5)"/>
<ellipse cx="200.1" cy="457.3" rx="2.6" ry="1.6" fill="#643018" opacity="0.60" transform="rotate(143 200.1 457.3)"/>
<ellipse cx="236.6" cy="481.3" rx="2.4" ry="1.4" fill="#5c2a10" opacity="0.72" transform="rotate(166 236.6 481.3)"/>
<ellipse cx="181.6" cy="512.5" rx="3.3" ry="1.9" fill="#5c2a10" opacity="0.87" transform="rotate(84 181.6 512.5)"/>
<ellipse cx="199.2" cy="503.5" rx="2.9" ry="1.2" fill="#643018" opacity="0.80" transform="rotate(177 199.2 503.5)"/>
<ellipse cx="232.5" cy="486.3" rx="2.4" ry="1.9" fill="#7a4020" opacity="0.64" transform="rotate(166 232.5 486.3)"/>
<ellipse cx="183.5" cy="480.5" rx="2.8" ry="1.9" fill="#c08850" opacity="0.53" transform="rotate(10 183.5 480.5)"/>
<ellipse cx="204.1" cy="453.6" rx="3.5" ry="0.9" fill="#5c2a10" opacity="0.76" transform="rotate(52 204.1 453.6)"/>
<ellipse cx="222.5" cy="509.1" rx="1.6" ry="1.9" fill="#6a3212" opacity="0.66" transform="rotate(61 222.5 509.1)"/>
<ellipse cx="178.4" cy="465.8" rx="3.7" ry="0.9" fill="#5c2a10" opacity="0.77" transform="rotate(21 178.4 465.8)"/>
<ellipse cx="199.8" cy="486.1" rx="2.5" ry="0.8" fill="#6a3212" opacity="0.66" transform="rotate(11 199.8 486.1)"/>
<ellipse cx="198.6" cy="463.5" rx="3.8" ry="1.1" fill="#c08850" opacity="0.71" transform="rotate(70 198.6 463.5)"/>
<ellipse cx="199.6" cy="489.2" rx="2.2" ry="1.8" fill="#6a3212" opacity="0.75" transform="rotate(17 199.6 489.2)"/>
<ellipse cx="201.1" cy="488.7" rx="1.9" ry="1.6" fill="#7a4020" opacity="0.82" transform="rotate(32 201.1 488.7)"/>
<ellipse cx="234.4" cy="463.7" rx="2.3" ry="1.0" fill="#6a3212" opacity="0.56" transform="rotate(14 234.4 463.7)"/>
<ellipse cx="204.0" cy="504.2" rx="3.2" ry="1.7" fill="#b87844" opacity="0.66" transform="rotate(70 204.0 504.2)"/>
<ellipse cx="217.2" cy="515.6" rx="3.3" ry="1.3" fill="#c08850" opacity="0.86" transform="rotate(100 217.2 515.6)"/>
<ellipse cx="235.4" cy="465.3" rx="2.2" ry="1.2" fill="#6a3212" opacity="0.69" transform="rotate(1 235.4 465.3)"/>
<ellipse cx="178.1" cy="509.6" rx="2.6" ry="1.0" fill="#b87844" opacity="0.69" transform="rotate(1 178.1 509.6)"/>
<ellipse cx="214.7" cy="503.0" rx="2.1" ry="1.3" fill="#5c2a10" opacity="0.75" transform="rotate(159 214.7 503.0)"/>
<ellipse cx="215.8" cy="484.5" rx="3.2" ry="0.9" fill="#7a4020" opacity="0.56" transform="rotate(126 215.8 484.5)"/>
<ellipse cx="236.4" cy="510.8" rx="2.1" ry="1.2" fill="#a86430" opacity="0.88" transform="rotate(131 236.4 510.8)"/>
<ellipse cx="238.9" cy="487.2" rx="3.7" ry="1.6" fill="#a86430" opacity="0.81" transform="rotate(85 238.9 487.2)"/>
<ellipse cx="181.7" cy="504.7" rx="1.7" ry="1.3" fill="#b87844" opacity="0.76" transform="rotate(13 181.7 504.7)"/>
<ellipse cx="225.5" cy="466.9" rx="1.6" ry="1.3" fill="#7a4020" opacity="0.82" transform="rotate(109 225.5 466.9)"/>
<ellipse cx="228.5" cy="485.3" rx="2.9" ry="1.3" fill="#6a3212" opacity="0.52" transform="rotate(127 228.5 485.3)"/>
<ellipse cx="215.1" cy="498.2" rx="2.2" ry="0.9" fill="#6a3212" opacity="0.55" transform="rotate(98 215.1 498.2)"/>
<ellipse cx="179.7" cy="497.8" rx="3.9" ry="1.8" fill="#7a4020" opacity="0.63" transform="rotate(30 179.7 497.8)"/>
<ellipse cx="213.9" cy="506.8" rx="1.9" ry="1.9" fill="#a86430" opacity="0.54" transform="rotate(78 213.9 506.8)"/>
<ellipse cx="186.4" cy="470.0" rx="1.6" ry="1.4" fill="#b87844" opacity="0.65" transform="rotate(105 186.4 470.0)"/>
<ellipse cx="215.2" cy="474.6" rx="1.8" ry="1.8" fill="#6a3212" opacity="0.86" transform="rotate(65 215.2 474.6)"/>
<ellipse cx="174.0" cy="475.6" rx="3.9" ry="1.5" fill="#a86430" opacity="0.83" transform="rotate(74 174.0 475.6)"/>
<ellipse cx="231.7" cy="492.5" rx="2.2" ry="1.3" fill="#7a4020" opacity="0.74" transform="rotate(17 231.7 492.5)"/>
<ellipse cx="185.4" cy="459.2" rx="2.5" ry="1.3" fill="#a86430" opacity="0.62" transform="rotate(80 185.4 459.2)"/>
<ellipse cx="184.4" cy="459.1" rx="3.8" ry="1.3" fill="#c08850" opacity="0.73" transform="rotate(154 184.4 459.1)"/>
<ellipse cx="185.3" cy="482.4" rx="2.4" ry="1.2" fill="#5c2a10" opacity="0.78" transform="rotate(143 185.3 482.4)"/>
<ellipse cx="231.5" cy="468.5" rx="2.3" ry="0.9" fill="#a86430" opacity="0.88" transform="rotate(88 231.5 468.5)"/>
<ellipse cx="226.8" cy="514.1" rx="2.0" ry="2.0" fill="#c08850" opacity="0.71" transform="rotate(167 226.8 514.1)"/>
<g filter="url(#blur2)">
<ellipse cx="187.4" cy="484.2" rx="13.0" ry="10.4" fill="#a4a2cc" opacity="0.80" transform="rotate(92 187.4 484.2)"/>
<ellipse cx="209.8" cy="480.3" rx="13.0" ry="10.4" fill="#a4a2cc" opacity="0.80" transform="rotate(168 209.8 480.3)"/>
<ellipse cx="180.6" cy="510.2" rx="10.0" ry="8.0" fill="#a4a2cc" opacity="0.80" transform="rotate(91 180.6 510.2)"/>
<ellipse cx="203.1" cy="503.7" rx="10.0" ry="8.0" fill="#a4a2cc" opacity="0.80" transform="rotate(77 203.1 503.7)"/>
<ellipse cx="225.5" cy="505.0" rx="7.0" ry="5.6" fill="#a4a2cc" opacity="0.80" transform="rotate(114 225.5 505.0)"/>
<ellipse cx="232.3" cy="466.0" rx="5.0" ry="4.0" fill="#a4a2cc" opacity="0.80" transform="rotate(173 232.3 466.0)"/>
<ellipse cx="192.9" cy="459.5" rx="6.0" ry="4.8" fill="#a4a2cc" opacity="0.80" transform="rotate(102 192.9 459.5)"/>
<ellipse cx="216.6" cy="493.3" rx="8.0" ry="6.4" fill="#a4a2cc" opacity="0.80" transform="rotate(20 216.6 493.3)"/>
</g>
<ellipse cx="239.0" cy="502.5" rx="2.1" ry="1.3" fill="#b8b4d6" stroke="#7a3c14" stroke-width="1.0" opacity="0.87" transform="rotate(62 239.0 502.5)"/>
<ellipse cx="193.1" cy="481.7" rx="2.1" ry="1.4" fill="#b8b4d6" stroke="#6a3414" stroke-width="0.9" opacity="0.75" transform="rotate(62 193.1 481.7)"/>
<ellipse cx="202.3" cy="480.3" rx="2.3" ry="1.5" fill="#dccac6" stroke="#a05e28" stroke-width="0.8" opacity="0.92" transform="rotate(13 202.3 480.3)"/>
<ellipse cx="235.2" cy="497.3" rx="2.2" ry="1.3" fill="#9b99c8" stroke="#6a3414" stroke-width="1.1" opacity="0.73" transform="rotate(102 235.2 497.3)"/>
<ellipse cx="226.7" cy="479.9" rx="2.2" ry="1.3" fill="#c4b8cc" stroke="#7a3c14" stroke-width="0.5" opacity="0.73" transform="rotate(130 226.7 479.9)"/>
<ellipse cx="226.6" cy="509.1" rx="1.7" ry="1.4" fill="#cdbcc0" stroke="#8e4a1c" stroke-width="0.7" opacity="0.75" transform="rotate(112 226.6 509.1)"/>
<ellipse cx="198.8" cy="516.9" rx="1.8" ry="1.5" fill="#a6a5d0" stroke="#7a3c14" stroke-width="0.8" opacity="0.82" transform="rotate(166 198.8 516.9)"/>
<ellipse cx="173.0" cy="483.0" rx="2.1" ry="1.3" fill="#b0a8cc" stroke="#7a3c14" stroke-width="1.0" opacity="0.86" transform="rotate(100 173.0 483.0)"/>
<ellipse cx="209.5" cy="493.1" rx="2.1" ry="1.7" fill="#b0a8cc" stroke="#a05e28" stroke-width="0.6" opacity="0.87" transform="rotate(170 209.5 493.1)"/>
<ellipse cx="221.3" cy="513.7" rx="1.9" ry="1.9" fill="#c4b8cc" stroke="#8e4a1c" stroke-width="0.6" opacity="0.94" transform="rotate(99 221.3 513.7)"/>
<ellipse cx="198.7" cy="471.7" rx="1.8" ry="1.4" fill="#b0a8cc" stroke="#5e2c0e" stroke-width="0.9" opacity="0.85" transform="rotate(148 198.7 471.7)"/>
<ellipse cx="194.8" cy="510.8" rx="1.6" ry="1.2" fill="#a6a5d0" stroke="#5e2c0e" stroke-width="0.8" opacity="0.93" transform="rotate(58 194.8 510.8)"/>
<ellipse cx="203.7" cy="514.1" rx="1.6" ry="1.3" fill="#dccac6" stroke="#a05e28" stroke-width="0.8" opacity="0.80" transform="rotate(1 203.7 514.1)"/>
<ellipse cx="202.4" cy="454.8" rx="2.1" ry="1.5" fill="#9b99c8" stroke="#8e4a1c" stroke-width="0.8" opacity="0.93" transform="rotate(130 202.4 454.8)"/>
<ellipse cx="188.2" cy="482.4" rx="1.6" ry="1.1" fill="#9b99c8" stroke="#5e2c0e" stroke-width="0.6" opacity="0.73" transform="rotate(136 188.2 482.4)"/>
<ellipse cx="214.2" cy="514.4" rx="2.3" ry="1.3" fill="#dccac6" stroke="#a05e28" stroke-width="0.7" opacity="0.81" transform="rotate(77 214.2 514.4)"/>
<ellipse cx="190.4" cy="489.5" rx="1.9" ry="1.4" fill="#a6a5d0" stroke="#6a3414" stroke-width="0.5" opacity="0.89" transform="rotate(179 190.4 489.5)"/>
<ellipse cx="235.8" cy="455.4" rx="2.3" ry="1.5" fill="#c4b8cc" stroke="#5e2c0e" stroke-width="1.1" opacity="0.80" transform="rotate(18 235.8 455.4)"/>
<ellipse cx="183.2" cy="509.6" rx="2.0" ry="1.3" fill="#9b99c8" stroke="#8e4a1c" stroke-width="0.5" opacity="0.74" transform="rotate(142 183.2 509.6)"/>
<ellipse cx="225.8" cy="458.9" rx="2.4" ry="1.9" fill="#b8b4d6" stroke="#7a3c14" stroke-width="0.9" opacity="0.90" transform="rotate(88 225.8 458.9)"/>
<ellipse cx="183.7" cy="475.6" rx="1.9" ry="1.1" fill="#cdbcc0" stroke="#6a3414" stroke-width="0.9" opacity="0.83" transform="rotate(40 183.7 475.6)"/>
<ellipse cx="212.2" cy="497.6" rx="1.7" ry="1.7" fill="#c4b8cc" stroke="#7a3c14" stroke-width="0.8" opacity="0.76" transform="rotate(138 212.2 497.6)"/>
<ellipse cx="203.6" cy="496.4" rx="2.4" ry="1.5" fill="#b0a8cc" stroke="#8e4a1c" stroke-width="1.0" opacity="0.93" transform="rotate(113 203.6 496.4)"/>
<ellipse cx="184.8" cy="487.9" rx="1.9" ry="1.5" fill="#9b99c8" stroke="#7a3c14" stroke-width="0.6" opacity="0.76" transform="rotate(68 184.8 487.9)"/>
<ellipse cx="206.1" cy="462.1" rx="1.7" ry="1.4" fill="#9b99c8" stroke="#6a3414" stroke-width="0.5" opacity="0.79" transform="rotate(46 206.1 462.1)"/>
<ellipse cx="231.0" cy="474.0" rx="1.6" ry="1.4" fill="#9b99c8" stroke="#5e2c0e" stroke-width="0.7" opacity="0.74" transform="rotate(18 231.0 474.0)"/>
<ellipse cx="184.4" cy="467.7" rx="2.0" ry="1.4" fill="#c4b8cc" stroke="#8e4a1c" stroke-width="0.8" opacity="0.81" transform="rotate(169 184.4 467.7)"/>
<ellipse cx="196.4" cy="460.9" rx="2.3" ry="1.6" fill="#a6a5d0" stroke="#6a3414" stroke-width="1.0" opacity="0.90" transform="rotate(88 196.4 460.9)"/>
<ellipse cx="188.2" cy="458.3" rx="1.7" ry="1.2" fill="#9b99c8" stroke="#8e4a1c" stroke-width="0.7" opacity="0.79" transform="rotate(13 188.2 458.3)"/>
<ellipse cx="234.7" cy="506.1" rx="1.5" ry="1.8" fill="#a6a5d0" stroke="#7a3c14" stroke-width="0.6" opacity="0.83" transform="rotate(35 234.7 506.1)"/>
<ellipse cx="233.3" cy="482.3" rx="2.0" ry="1.6" fill="#cdbcc0" stroke="#6a3414" stroke-width="0.7" opacity="0.95" transform="rotate(145 233.3 482.3)"/>
<ellipse cx="191.4" cy="504.2" rx="2.1" ry="1.7" fill="#b8b4d6" stroke="#a05e28" stroke-width="1.1" opacity="0.72" transform="rotate(64 191.4 504.2)"/>
<ellipse cx="207.3" cy="456.0" rx="1.7" ry="1.6" fill="#b8b4d6" stroke="#5e2c0e" stroke-width="0.6" opacity="0.92" transform="rotate(135 207.3 456.0)"/>
<ellipse cx="172.6" cy="467.8" rx="1.8" ry="1.5" fill="#dccac6" stroke="#7a3c14" stroke-width="0.6" opacity="0.91" transform="rotate(70 172.6 467.8)"/>
<ellipse cx="227.6" cy="488.5" rx="2.1" ry="1.2" fill="#cdbcc0" stroke="#7a3c14" stroke-width="0.5" opacity="0.77" transform="rotate(136 227.6 488.5)"/>
<ellipse cx="177.8" cy="497.6" rx="2.1" ry="1.5" fill="#9b99c8" stroke="#6a3414" stroke-width="0.6" opacity="0.84" transform="rotate(50 177.8 497.6)"/>
<ellipse cx="172.3" cy="454.8" rx="2.1" ry="1.3" fill="#cdbcc0" stroke="#8e4a1c" stroke-width="0.6" opacity="0.80" transform="rotate(35 172.3 454.8)"/>
<ellipse cx="197.3" cy="486.3" rx="2.0" ry="1.7" fill="#c4b8cc" stroke="#8e4a1c" stroke-width="0.6" opacity="0.82" transform="rotate(69 197.3 486.3)"/>
<ellipse cx="203.5" cy="489.4" rx="1.9" ry="1.2" fill="#b8b4d6" stroke="#7a3c14" stroke-width="0.6" opacity="0.81" transform="rotate(127 203.5 489.4)"/>
<ellipse cx="221.2" cy="490.7" rx="2.4" ry="1.2" fill="#b8b4d6" stroke="#5e2c0e" stroke-width="0.9" opacity="0.70" transform="rotate(173 221.2 490.7)"/>
<ellipse cx="227.0" cy="467.1" rx="1.6" ry="1.7" fill="#9b99c8" stroke="#5e2c0e" stroke-width="0.8" opacity="0.80" transform="rotate(164 227.0 467.1)"/>
<ellipse cx="177.0" cy="457.9" rx="1.7" ry="1.8" fill="#b8b4d6" stroke="#6a3414" stroke-width="0.9" opacity="0.79" transform="rotate(84 177.0 457.9)"/>
<ellipse cx="181.1" cy="505.8" rx="1.8" ry="1.3" fill="#c4b8cc" stroke="#a05e28" stroke-width="0.8" opacity="0.81" transform="rotate(151 181.1 505.8)"/>
<ellipse cx="225.2" cy="495.6" rx="1.6" ry="1.2" fill="#dccac6" stroke="#8e4a1c" stroke-width="0.9" opacity="0.94" transform="rotate(140 225.2 495.6)"/>
<ellipse cx="214.3" cy="471.8" rx="2.2" ry="1.9" fill="#dccac6" stroke="#6a3414" stroke-width="1.0" opacity="0.90" transform="rotate(109 214.3 471.8)"/>
<ellipse cx="232.1" cy="487.2" rx="2.2" ry="1.4" fill="#cdbcc0" stroke="#7a3c14" stroke-width="1.0" opacity="0.81" transform="rotate(46 232.1 487.2)"/>
<ellipse cx="202.6" cy="502.5" rx="2.2" ry="1.6" fill="#c4b8cc" stroke="#5e2c0e" stroke-width="0.9" opacity="0.95" transform="rotate(68 202.6 502.5)"/>
<ellipse cx="175.7" cy="509.4" rx="1.8" ry="1.5" fill="#a6a5d0" stroke="#6a3414" stroke-width="1.0" opacity="0.73" transform="rotate(118 175.7 509.4)"/>
<ellipse cx="207.1" cy="474.5" rx="2.1" ry="1.5" fill="#c4b8cc" stroke="#6a3414" stroke-width="1.1" opacity="0.76" transform="rotate(62 207.1 474.5)"/>
<ellipse cx="221.5" cy="470.5" rx="1.7" ry="1.7" fill="#b0a8cc" stroke="#7a3c14" stroke-width="0.9" opacity="0.88" transform="rotate(57 221.5 470.5)"/>
<ellipse cx="234.7" cy="513.0" rx="1.8" ry="1.2" fill="#9b99c8" stroke="#6a3414" stroke-width="1.0" opacity="0.88" transform="rotate(54 234.7 513.0)"/>
<ellipse cx="208.0" cy="478.8" rx="2.1" ry="1.2" fill="#b8b4d6" stroke="#6a3414" stroke-width="1.0" opacity="0.90" transform="rotate(138 208.0 478.8)"/>
<ellipse cx="179.9" cy="462.5" rx="1.7" ry="1.7" fill="#dccac6" stroke="#a05e28" stroke-width="1.0" opacity="0.94" transform="rotate(96 179.9 462.5)"/>
<ellipse cx="240.7" cy="496.5" rx="1.6" ry="1.7" fill="#dccac6" stroke="#a05e28" stroke-width="0.5" opacity="0.93" transform="rotate(123 240.7 496.5)"/>
<ellipse cx="186.9" cy="491.9" rx="2.1" ry="1.8" fill="#dccac6" stroke="#6a3414" stroke-width="0.6" opacity="0.90" transform="rotate(179 186.9 491.9)"/>
<ellipse cx="216.1" cy="458.5" rx="2.2" ry="1.8" fill="#dccac6" stroke="#7a3c14" stroke-width="1.0" opacity="0.85" transform="rotate(160 216.1 458.5)"/>
<ellipse cx="182.3" cy="514.0" rx="2.0" ry="1.5" fill="#dccac6" stroke="#6a3414" stroke-width="0.6" opacity="0.87" transform="rotate(55 182.3 514.0)"/>
<ellipse cx="212.8" cy="463.0" rx="2.2" ry="1.6" fill="#c4b8cc" stroke="#5e2c0e" stroke-width="0.7" opacity="0.78" transform="rotate(73 212.8 463.0)"/>
<ellipse cx="193.9" cy="496.9" rx="1.7" ry="1.3" fill="#cdbcc0" stroke="#7a3c14" stroke-width="0.6" opacity="0.85" transform="rotate(171 193.9 496.9)"/>
<ellipse cx="236.8" cy="486.8" rx="1.7" ry="1.4" fill="#9b99c8" stroke="#7a3c14" stroke-width="1.0" opacity="0.86" transform="rotate(47 236.8 486.8)"/>
<ellipse cx="230.1" cy="498.3" rx="1.5" ry="1.7" fill="#cdbcc0" stroke="#6a3414" stroke-width="0.7" opacity="0.79" transform="rotate(13 230.1 498.3)"/>
<ellipse cx="175.5" cy="473.1" rx="1.7" ry="1.6" fill="#b8b4d6" stroke="#a05e28" stroke-width="0.9" opacity="0.77" transform="rotate(61 175.5 473.1)"/>
<ellipse cx="190.8" cy="472.0" rx="2.0" ry="1.2" fill="#dccac6" stroke="#a05e28" stroke-width="0.8" opacity="0.90" transform="rotate(171 190.8 472.0)"/>
<ellipse cx="185.3" cy="500.8" rx="2.3" ry="1.2" fill="#9b99c8" stroke="#8e4a1c" stroke-width="0.9" opacity="0.92" transform="rotate(128 185.3 500.8)"/>
<ellipse cx="189.4" cy="515.7" rx="1.7" ry="1.7" fill="#dccac6" stroke="#7a3c14" stroke-width="0.5" opacity="0.74" transform="rotate(152 189.4 515.7)"/>
<ellipse cx="198.0" cy="465.2" rx="1.9" ry="1.6" fill="#9b99c8" stroke="#5e2c0e" stroke-width="1.1" opacity="0.84" transform="rotate(72 198.0 465.2)"/>
<ellipse cx="212.0" cy="452.8" rx="2.3" ry="1.3" fill="#c4b8cc" stroke="#8e4a1c" stroke-width="0.9" opacity="0.71" transform="rotate(81 212.0 452.8)"/>
<ellipse cx="190.6" cy="477.3" rx="1.9" ry="1.9" fill="#c4b8cc" stroke="#5e2c0e" stroke-width="0.9" opacity="0.95" transform="rotate(48 190.6 477.3)"/>
<ellipse cx="204.7" cy="469.2" rx="2.4" ry="1.6" fill="#b8b4d6" stroke="#8e4a1c" stroke-width="0.8" opacity="0.73" transform="rotate(82 204.7 469.2)"/>
<ellipse cx="212.0" cy="510.6" rx="1.5" ry="1.9" fill="#9b99c8" stroke="#8e4a1c" stroke-width="1.0" opacity="0.80" transform="rotate(2 212.0 510.6)"/>
<ellipse cx="218.2" cy="494.2" rx="1.7" ry="1.7" fill="#dccac6" stroke="#a05e28" stroke-width="0.9" opacity="0.86" transform="rotate(144 218.2 494.2)"/>
<ellipse cx="188.1" cy="464.8" rx="1.8" ry="1.7" fill="#9b99c8" stroke="#7a3c14" stroke-width="1.1" opacity="0.72" transform="rotate(59 188.1 464.8)"/>
<ellipse cx="232.4" cy="519.0" rx="1.6" ry="1.3" fill="#b8b4d6" stroke="#6a3414" stroke-width="0.5" opacity="0.75" transform="rotate(29 232.4 519.0)"/>
<ellipse cx="221.7" cy="485.3" rx="2.3" ry="1.5" fill="#b8b4d6" stroke="#7a3c14" stroke-width="0.5" opacity="0.90" transform="rotate(122 221.7 485.3)"/>
<ellipse cx="222.0" cy="460.8" rx="1.9" ry="1.3" fill="#cdbcc0" stroke="#5e2c0e" stroke-width="0.6" opacity="0.89" transform="rotate(103 222.0 460.8)"/>
<ellipse cx="241.3" cy="516.5" rx="2.0" ry="1.9" fill="#9b99c8" stroke="#8e4a1c" stroke-width="1.1" opacity="0.85" transform="rotate(51 241.3 516.5)"/>
<ellipse cx="236.9" cy="466.0" rx="2.3" ry="1.5" fill="#cdbcc0" stroke="#6a3414" stroke-width="0.5" opacity="0.89" transform="rotate(42 236.9 466.0)"/>
<ellipse cx="218.2" cy="475.5" rx="2.1" ry="1.7" fill="#c4b8cc" stroke="#6a3414" stroke-width="0.6" opacity="0.84" transform="rotate(122 218.2 475.5)"/>
<ellipse cx="238.5" cy="508.9" rx="1.9" ry="1.4" fill="#b0a8cc" stroke="#7a3c14" stroke-width="0.5" opacity="0.81" transform="rotate(124 238.5 508.9)"/>
<ellipse cx="174.2" cy="493.6" rx="2.0" ry="1.6" fill="#b8b4d6" stroke="#5e2c0e" stroke-width="0.6" opacity="0.90" transform="rotate(177 174.2 493.6)"/>
<ellipse cx="233.2" cy="492.9" rx="1.5" ry="1.5" fill="#a6a5d0" stroke="#6a3414" stroke-width="0.5" opacity="0.87" transform="rotate(139 233.2 492.9)"/>
<ellipse cx="172.2" cy="512.6" rx="1.5" ry="1.7" fill="#9b99c8" stroke="#8e4a1c" stroke-width="1.0" opacity="0.77" transform="rotate(23 172.2 512.6)"/>
<ellipse cx="180.4" cy="480.3" rx="2.0" ry="1.2" fill="#a6a5d0" stroke="#5e2c0e" stroke-width="0.7" opacity="0.80" transform="rotate(85 180.4 480.3)"/>
<ellipse cx="207.1" cy="506.0" rx="1.7" ry="1.6" fill="#b0a8cc" stroke="#6a3414" stroke-width="0.8" opacity="0.90" transform="rotate(74 207.1 506.0)"/>
<ellipse cx="218.4" cy="453.1" rx="2.4" ry="1.5" fill="#dccac6" stroke="#a05e28" stroke-width="0.8" opacity="0.80" transform="rotate(134 218.4 453.1)"/>
<ellipse cx="214.9" cy="478.6" rx="2.0" ry="1.2" fill="#dccac6" stroke="#5e2c0e" stroke-width="0.7" opacity="0.81" transform="rotate(90 214.9 478.6)"/>
<ellipse cx="207.2" cy="518.6" rx="2.1" ry="1.5" fill="#b0a8cc" stroke="#7a3c14" stroke-width="0.7" opacity="0.74" transform="rotate(77 207.2 518.6)"/>
<ellipse cx="240.3" cy="480.2" rx="1.9" ry="1.5" fill="#a6a5d0" stroke="#7a3c14" stroke-width="0.6" opacity="0.80" transform="rotate(13 240.3 480.2)"/>
<ellipse cx="172.1" cy="517.8" rx="2.0" ry="1.3" fill="#9b99c8" stroke="#7a3c14" stroke-width="1.1" opacity="0.95" transform="rotate(58 172.1 517.8)"/>
<ellipse cx="198.8" cy="496.4" rx="1.8" ry="1.3" fill="#cdbcc0" stroke="#7a3c14" stroke-width="0.7" opacity="0.90" transform="rotate(60 198.8 496.4)"/>
<ellipse cx="171.7" cy="500.6" rx="2.2" ry="1.6" fill="#c4b8cc" stroke="#7a3c14" stroke-width="0.9" opacity="0.82" transform="rotate(96 171.7 500.6)"/>
<ellipse cx="228.1" cy="484.1" rx="2.1" ry="1.5" fill="#b0a8cc" stroke="#7a3c14" stroke-width="0.5" opacity="0.86" transform="rotate(27 228.1 484.1)"/>
<ellipse cx="178.1" cy="488.2" rx="1.6" ry="1.1" fill="#cdbcc0" stroke="#5e2c0e" stroke-width="0.6" opacity="0.81" transform="rotate(89 178.1 488.2)"/>
<ellipse cx="177.8" cy="483.7" rx="1.8" ry="1.5" fill="#9b99c8" stroke="#8e4a1c" stroke-width="0.7" opacity="0.85" transform="rotate(170 177.8 483.7)"/>
<ellipse cx="189.0" cy="511.2" rx="2.1" ry="1.2" fill="#b8b4d6" stroke="#6a3414" stroke-width="0.7" opacity="0.92" transform="rotate(119 189.0 511.2)"/>
<ellipse cx="171.7" cy="459.6" rx="2.3" ry="1.5" fill="#b8b4d6" stroke="#6a3414" stroke-width="0.7" opacity="0.81" transform="rotate(65 171.7 459.6)"/>
<ellipse cx="176.0" cy="452.4" rx="1.8" ry="1.3" fill="#b0a8cc" stroke="#a05e28" stroke-width="0.5" opacity="0.91" transform="rotate(9 176.0 452.4)"/>
<ellipse cx="217.5" cy="468.8" rx="1.7" ry="1.7" fill="#a6a5d0" stroke="#8e4a1c" stroke-width="0.9" opacity="0.93" transform="rotate(81 217.5 468.8)"/>
<ellipse cx="211.3" cy="503.0" rx="1.9" ry="1.5" fill="#cdbcc0" stroke="#7a3c14" stroke-width="0.5" opacity="0.74" transform="rotate(179 211.3 503.0)"/>
<ellipse cx="177.7" cy="466.4" rx="1.5" ry="1.8" fill="#c4b8cc" stroke="#6a3414" stroke-width="0.9" opacity="0.86" transform="rotate(174 177.7 466.4)"/>
<ellipse cx="194.8" cy="453.4" rx="1.8" ry="1.6" fill="#dccac6" stroke="#6a3414" stroke-width="0.9" opacity="0.81" transform="rotate(27 194.8 453.4)"/>
<ellipse cx="199.5" cy="510.2" rx="2.3" ry="1.7" fill="#9b99c8" stroke="#7a3c14" stroke-width="1.0" opacity="0.92" transform="rotate(23 199.5 510.2)"/>
<ellipse cx="172.1" cy="489.4" rx="1.7" ry="1.3" fill="#c4b8cc" stroke="#8e4a1c" stroke-width="1.0" opacity="0.88" transform="rotate(65 172.1 489.4)"/>
<ellipse cx="241.1" cy="458.1" rx="1.9" ry="1.7" fill="#dccac6" stroke="#a05e28" stroke-width="0.6" opacity="0.94" transform="rotate(128 241.1 458.1)"/>
<ellipse cx="196.4" cy="505.3" rx="1.6" ry="1.5" fill="#9b99c8" stroke="#5e2c0e" stroke-width="0.7" opacity="0.72" transform="rotate(14 196.4 505.3)"/>
<ellipse cx="236.3" cy="472.2" rx="1.9" ry="1.3" fill="#b8b4d6" stroke="#6a3414" stroke-width="0.7" opacity="0.82" transform="rotate(82 236.3 472.2)"/>
<ellipse cx="221.3" cy="497.9" rx="1.5" ry="1.5" fill="#9b99c8" stroke="#5e2c0e" stroke-width="0.8" opacity="0.90" transform="rotate(39 221.3 497.9)"/>
<ellipse cx="196.0" cy="491.4" rx="1.6" ry="1.4" fill="#cdbcc0" stroke="#5e2c0e" stroke-width="0.6" opacity="0.82" transform="rotate(128 196.0 491.4)"/>
<ellipse cx="212.3" cy="484.4" rx="1.8" ry="1.4" fill="#cdbcc0" stroke="#8e4a1c" stroke-width="1.0" opacity="0.91" transform="rotate(159 212.3 484.4)"/>
<ellipse cx="229.8" cy="505.1" rx="2.4" ry="1.7" fill="#cdbcc0" stroke="#7a3c14" stroke-width="1.0" opacity="0.80" transform="rotate(141 229.8 505.1)"/>
<ellipse cx="190.7" cy="454.7" rx="1.6" ry="1.4" fill="#cdbcc0" stroke="#8e4a1c" stroke-width="0.5" opacity="0.88" transform="rotate(164 190.7 454.7)"/>
<ellipse cx="182.5" cy="457.8" rx="1.6" ry="1.8" fill="#9b99c8" stroke="#8e4a1c" stroke-width="0.9" opacity="0.84" transform="rotate(22 182.5 457.8)"/>
<ellipse cx="207.2" cy="485.7" rx="1.7" ry="1.8" fill="#b0a8cc" stroke="#6a3414" stroke-width="0.9" opacity="0.79" transform="rotate(109 207.2 485.7)"/>
<ellipse cx="215.1" cy="490.7" rx="1.7" ry="1.3" fill="#b8b4d6" stroke="#6a3414" stroke-width="0.9" opacity="0.71" transform="rotate(88 215.1 490.7)"/>
<ellipse cx="219.9" cy="506.4" rx="2.2" ry="1.2" fill="#b0a8cc" stroke="#a05e28" stroke-width="1.0" opacity="0.71" transform="rotate(93 219.9 506.4)"/>
<ellipse cx="240.0" cy="453.3" rx="1.6" ry="1.5" fill="#9b99c8" stroke="#5e2c0e" stroke-width="0.8" opacity="0.75" transform="rotate(171 240.0 453.3)"/>
<ellipse cx="231.8" cy="458.7" rx="1.8" ry="1.8" fill="#9b99c8" stroke="#6a3414" stroke-width="0.9" opacity="0.81" transform="rotate(67 231.8 458.7)"/>
<ellipse cx="193.1" cy="519.0" rx="1.5" ry="1.9" fill="#b8b4d6" stroke="#6a3414" stroke-width="0.6" opacity="0.82" transform="rotate(129 193.1 519.0)"/>
<ellipse cx="216.0" cy="501.0" rx="1.9" ry="1.3" fill="#cdbcc0" stroke="#7a3c14" stroke-width="0.9" opacity="0.95" transform="rotate(45 216.0 501.0)"/>
<ellipse cx="232.4" cy="464.7" rx="2.3" ry="1.2" fill="#cdbcc0" stroke="#8e4a1c" stroke-width="0.8" opacity="0.91" transform="rotate(70 232.4 464.7)"/>
<ellipse cx="177.4" cy="517.3" rx="1.6" ry="1.3" fill="#b0a8cc" stroke="#6a3414" stroke-width="0.5" opacity="0.95" transform="rotate(1 177.4 517.3)"/>
<ellipse cx="222.0" cy="518.2" rx="2.1" ry="1.7" fill="#cdbcc0" stroke="#8e4a1c" stroke-width="0.8" opacity="0.74" transform="rotate(49 222.0 518.2)"/>
<ellipse cx="225.6" cy="452.3" rx="2.0" ry="1.5" fill="#cdbcc0" stroke="#6a3414" stroke-width="0.7" opacity="0.77" transform="rotate(53 225.6 452.3)"/>
<ellipse cx="194.3" cy="467.9" rx="1.7" ry="1.7" fill="#c4b8cc" stroke="#a05e28" stroke-width="0.6" opacity="0.90" transform="rotate(3 194.3 467.9)"/>
<ellipse cx="216.8" cy="482.8" rx="2.3" ry="1.2" fill="#b0a8cc" stroke="#5e2c0e" stroke-width="0.7" opacity="0.83" transform="rotate(43 216.8 482.8)"/>
<ellipse cx="231.7" cy="469.5" rx="2.3" ry="1.7" fill="#9b99c8" stroke="#6a3414" stroke-width="0.8" opacity="0.94" transform="rotate(99 231.7 469.5)"/>
<ellipse cx="198.1" cy="500.8" rx="2.3" ry="1.1" fill="#9b99c8" stroke="#7a3c14" stroke-width="0.9" opacity="0.91" transform="rotate(20 198.1 500.8)"/>
<ellipse cx="222.2" cy="455.9" rx="1.9" ry="1.6" fill="#dccac6" stroke="#5e2c0e" stroke-width="0.7" opacity="0.85" transform="rotate(76 222.2 455.9)"/>
<ellipse cx="234.5" cy="476.8" rx="2.0" ry="1.1" fill="#b8b4d6" stroke="#6a3414" stroke-width="1.0" opacity="0.93" transform="rotate(105 234.5 476.8)"/>
<ellipse cx="179.7" cy="492.9" rx="1.9" ry="1.3" fill="#a6a5d0" stroke="#6a3414" stroke-width="0.6" opacity="0.86" transform="rotate(69 179.7 492.9)"/>
<ellipse cx="216.9" cy="518.0" rx="1.8" ry="1.4" fill="#cdbcc0" stroke="#7a3c14" stroke-width="0.5" opacity="0.86" transform="rotate(138 216.9 518.0)"/>
<ellipse cx="172.1" cy="477.7" rx="2.4" ry="1.7" fill="#dccac6" stroke="#8e4a1c" stroke-width="0.9" opacity="0.72" transform="rotate(22 172.1 477.7)"/>
<ellipse cx="224.7" cy="475.2" rx="1.6" ry="1.8" fill="#dccac6" stroke="#8e4a1c" stroke-width="1.1" opacity="0.94" transform="rotate(131 224.7 475.2)"/>
<ellipse cx="197.2" cy="476.9" rx="1.6" ry="1.5" fill="#dccac6" stroke="#8e4a1c" stroke-width="0.7" opacity="0.72" transform="rotate(43 197.2 476.9)"/>
<ellipse cx="227.5" cy="513.8" rx="1.7" ry="1.6" fill="#dccac6" stroke="#a05e28" stroke-width="0.6" opacity="0.76" transform="rotate(37 227.5 513.8)"/>
<ellipse cx="241.4" cy="468.8" rx="2.0" ry="1.5" fill="#b0a8cc" stroke="#a05e28" stroke-width="0.8" opacity="0.76" transform="rotate(90 241.4 468.8)"/>
<ellipse cx="221.7" cy="478.9" rx="1.7" ry="1.7" fill="#b0a8cc" stroke="#7a3c14" stroke-width="0.6" opacity="0.84" transform="rotate(98 221.7 478.9)"/>
<ellipse cx="183.9" cy="452.3" rx="2.3" ry="1.5" fill="#dccac6" stroke="#8e4a1c" stroke-width="0.9" opacity="0.89" transform="rotate(20 183.9 452.3)"/>
<ellipse cx="226.5" cy="500.8" rx="1.6" ry="1.5" fill="#dccac6" stroke="#8e4a1c" stroke-width="0.7" opacity="0.87" transform="rotate(120 226.5 500.8)"/>
<ellipse cx="177.8" cy="502.2" rx="2.3" ry="1.8" fill="#c4b8cc" stroke="#7a3c14" stroke-width="0.7" opacity="0.72" transform="rotate(36 177.8 502.2)"/>
<ellipse cx="206.9" cy="501.4" rx="1.7" ry="1.8" fill="#cdbcc0" stroke="#6a3414" stroke-width="0.6" opacity="0.80" transform="rotate(37 206.9 501.4)"/>
<ellipse cx="233.3" cy="502.0" rx="2.4" ry="1.6" fill="#c4b8cc" stroke="#a05e28" stroke-width="1.0" opacity="0.79" transform="rotate(125 233.3 502.0)"/>
<ellipse cx="202.5" cy="473.9" rx="2.2" ry="1.7" fill="#a6a5d0" stroke="#5e2c0e" stroke-width="0.7" opacity="0.89" transform="rotate(60 202.5 473.9)"/>
<ellipse cx="240.2" cy="489.7" rx="2.1" ry="1.3" fill="#cdbcc0" stroke="#7a3c14" stroke-width="0.6" opacity="0.89" transform="rotate(167 240.2 489.7)"/>
<ellipse cx="180.5" cy="471.8" rx="1.6" ry="1.2" fill="#c4b8cc" stroke="#7a3c14" stroke-width="0.9" opacity="0.77" transform="rotate(93 180.5 471.8)"/>
<ellipse cx="215.1" cy="505.7" rx="2.1" ry="1.5" fill="#b8b4d6" stroke="#5e2c0e" stroke-width="1.0" opacity="0.75" transform="rotate(129 215.1 505.7)"/>
<ellipse cx="187.5" cy="506.3" rx="1.6" ry="1.3" fill="#cdbcc0" stroke="#5e2c0e" stroke-width="0.8" opacity="0.93" transform="rotate(116 187.5 506.3)"/>
<ellipse cx="241.2" cy="473.9" rx="1.7" ry="1.4" fill="#dccac6" stroke="#7a3c14" stroke-width="0.6" opacity="0.74" transform="rotate(61 241.2 473.9)"/>
<ellipse cx="189.0" cy="497.5" rx="1.8" ry="1.2" fill="#a6a5d0" stroke="#a05e28" stroke-width="0.8" opacity="0.95" transform="rotate(176 189.0 497.5)"/>
<ellipse cx="211.4" cy="517.8" rx="1.8" ry="1.7" fill="#9b99c8" stroke="#a05e28" stroke-width="1.1" opacity="0.87" transform="rotate(167 211.4 517.8)"/>
<ellipse cx="210.8" cy="467.8" rx="1.6" ry="1.9" fill="#9b99c8" stroke="#8e4a1c" stroke-width="0.9" opacity="0.71" transform="rotate(9 210.8 467.8)"/>
<ellipse cx="217.5" cy="510.8" rx="1.9" ry="1.7" fill="#9b99c8" stroke="#7a3c14" stroke-width="0.5" opacity="0.83" transform="rotate(60 217.5 510.8)"/>
<ellipse cx="221.2" cy="465.6" rx="1.9" ry="1.1" fill="#cdbcc0" stroke="#6a3414" stroke-width="0.8" opacity="0.72" transform="rotate(3 221.2 465.6)"/>
<ellipse cx="239.9" cy="462.3" rx="1.9" ry="1.3" fill="#dccac6" stroke="#7a3c14" stroke-width="0.7" opacity="0.87" transform="rotate(152 239.9 462.3)"/>
<ellipse cx="217.3" cy="463.7" rx="1.5" ry="1.1" fill="#b8b4d6" stroke="#8e4a1c" stroke-width="0.7" opacity="0.87" transform="rotate(119 217.3 463.7)"/>
<ellipse cx="201.4" cy="462.1" rx="1.6" ry="1.5" fill="#b8b4d6" stroke="#a05e28" stroke-width="0.8" opacity="0.92" transform="rotate(20 201.4 462.1)"/>
<ellipse cx="173.8" cy="463.6" rx="2.1" ry="1.1" fill="#a6a5d0" stroke="#7a3c14" stroke-width="0.7" opacity="0.81" transform="rotate(130 173.8 463.6)"/>
<ellipse cx="209.0" cy="514.2" rx="2.2" ry="1.8" fill="#dccac6" stroke="#a05e28" stroke-width="0.8" opacity="0.89" transform="rotate(66 209.0 514.2)"/>
<ellipse cx="231.2" cy="510.5" rx="2.1" ry="1.3" fill="#c4b8cc" stroke="#6a3414" stroke-width="1.0" opacity="0.92" transform="rotate(131 231.2 510.5)"/>
<ellipse cx="183.6" cy="518.3" rx="1.9" ry="1.2" fill="#9b99c8" stroke="#6a3414" stroke-width="0.6" opacity="0.72" transform="rotate(164 183.6 518.3)"/>
<ellipse cx="172.9" cy="505.7" rx="1.6" ry="1.5" fill="#b0a8cc" stroke="#5e2c0e" stroke-width="0.8" opacity="0.89" transform="rotate(144 172.9 505.7)"/>
<ellipse cx="222.3" cy="502.2" rx="2.3" ry="1.8" fill="#c4b8cc" stroke="#a05e28" stroke-width="0.7" opacity="0.92" transform="rotate(163 222.3 502.2)"/>
<ellipse cx="184.3" cy="462.2" rx="1.6" ry="1.8" fill="#cdbcc0" stroke="#7a3c14" stroke-width="0.5" opacity="0.75" transform="rotate(115 184.3 462.2)"/>
<ellipse cx="197.5" cy="481.5" rx="1.5" ry="1.4" fill="#a6a5d0" stroke="#8e4a1c" stroke-width="0.6" opacity="0.75" transform="rotate(110 197.5 481.5)"/>
<ellipse cx="192.1" cy="463.3" rx="2.3" ry="1.3" fill="#c4b8cc" stroke="#5e2c0e" stroke-width="0.8" opacity="0.93" transform="rotate(167 192.1 463.3)"/>
<ellipse cx="205.3" cy="510.0" rx="1.9" ry="1.1" fill="#a6a5d0" stroke="#8e4a1c" stroke-width="0.6" opacity="0.89" transform="rotate(99 205.3 510.0)"/>
<ellipse cx="229.8" cy="454.8" rx="1.6" ry="1.3" fill="#9b99c8" stroke="#a05e28" stroke-width="1.0" opacity="0.71" transform="rotate(14 229.8 454.8)"/>
<ellipse cx="184.1" cy="495.8" rx="2.2" ry="1.1" fill="#b8b4d6" stroke="#8e4a1c" stroke-width="0.7" opacity="0.86" transform="rotate(47 184.1 495.8)"/>
<ellipse cx="183.8" cy="483.1" rx="1.8" ry="1.3" fill="#b0a8cc" stroke="#5e2c0e" stroke-width="0.7" opacity="0.82" transform="rotate(69 183.8 483.1)"/>
<ellipse cx="211.4" cy="476.1" rx="1.7" ry="1.4" fill="#c4b8cc" stroke="#8e4a1c" stroke-width="0.8" opacity="0.79" transform="rotate(177 211.4 476.1)"/>
<ellipse cx="236.7" cy="518.4" rx="2.3" ry="1.3" fill="#9b99c8" stroke="#8e4a1c" stroke-width="0.9" opacity="0.84" transform="rotate(8 236.7 518.4)"/>
</g>
<rect x="172.5" y="453" width="67.9" height="65" fill="none" stroke="#3a3a55" stroke-width="0.6"/>
<line x1="223.9" y1="515.8" x2="238.9" y2="515.8" stroke="#1a1a1a" stroke-width="0.8"/>
<text x="172.9" y="528" font-size="7" text-anchor="start" font-weight="normal" fill="#111" stroke="#111" stroke-width="0.12" textLength="46" lengthAdjust="spacingAndGlyphs">MCT4 Score 2</text>
<clipPath id="clip3"><rect x="245.7" y="453" width="67.9" height="65"/></clipPath>
<g clip-path="url(#clip3)">
<rect x="245.7" y="453" width="67.9" height="65" fill="#7e3c16"/>
<ellipse cx="272.2" cy="511.2" rx="2.3" ry="1.5" fill="#6a2e10" opacity="0.89" transform="rotate(154 272.2 511.2)"/>
<ellipse cx="311.7" cy="471.9" rx="2.4" ry="1.9" fill="#b46c30" opacity="0.75" transform="rotate(51 311.7 471.9)"/>
<ellipse cx="289.1" cy="472.2" rx="1.8" ry="0.8" fill="#b46c30" opacity="0.78" transform="rotate(165 289.1 472.2)"/>
<ellipse cx="272.8" cy="486.4" rx="1.5" ry="1.1" fill="#a85a26" opacity="0.62" transform="rotate(67 272.8 486.4)"/>
<ellipse cx="258.5" cy="455.8" rx="1.9" ry="2.0" fill="#4e200a" opacity="0.89" transform="rotate(71 258.5 455.8)"/>
<ellipse cx="273.4" cy="499.5" rx="2.9" ry="1.4" fill="#5a260c" opacity="0.51" transform="rotate(159 273.4 499.5)"/>
<ellipse cx="311.0" cy="485.0" rx="3.5" ry="1.0" fill="#b46c30" opacity="0.86" transform="rotate(18 311.0 485.0)"/>
<ellipse cx="308.2" cy="493.6" rx="3.1" ry="1.3" fill="#4e200a" opacity="0.55" transform="rotate(170 308.2 493.6)"/>
<ellipse cx="274.3" cy="482.8" rx="2.0" ry="1.5" fill="#6a2e10" opacity="0.76" transform="rotate(17 274.3 482.8)"/>
<ellipse cx="248.0" cy="454.8" rx="3.0" ry="0.9" fill="#984e20" opacity="0.77" transform="rotate(61 248.0 454.8)"/>
<ellipse cx="258.0" cy="489.0" rx="2.0" ry="1.2" fill="#6a2e10" opacity="0.63" transform="rotate(91 258.0 489.0)"/>
<ellipse cx="260.1" cy="457.6" rx="2.4" ry="0.9" fill="#6a2e10" opacity="0.54" transform="rotate(18 260.1 457.6)"/>
<ellipse cx="312.5" cy="468.9" rx="3.2" ry="1.2" fill="#5a260c" opacity="0.88" transform="rotate(129 312.5 468.9)"/>
<ellipse cx="250.5" cy="498.3" rx="3.5" ry="1.8" fill="#a85a26" opacity="0.81" transform="rotate(80 250.5 498.3)"/>
<ellipse cx="300.9" cy="517.7" rx="2.3" ry="1.2" fill="#4e200a" opacity="0.75" transform="rotate(123 300.9 517.7)"/>
<ellipse cx="274.7" cy="484.7" rx="3.1" ry="0.8" fill="#4e200a" opacity="0.89" transform="rotate(165 274.7 484.7)"/>
<ellipse cx="278.8" cy="486.9" rx="3.9" ry="1.0" fill="#b46c30" opacity="0.66" transform="rotate(93 278.8 486.9)"/>
<ellipse cx="283.3" cy="494.6" rx="2.1" ry="1.0" fill="#4e200a" opacity="0.79" transform="rotate(68 283.3 494.6)"/>
<ellipse cx="287.7" cy="494.9" rx="1.5" ry="1.1" fill="#5a260c" opacity="0.70" transform="rotate(83 287.7 494.9)"/>
<ellipse cx="250.7" cy="470.5" rx="2.5" ry="1.6" fill="#6a2e10" opacity="0.62" transform="rotate(104 250.7 470.5)"/>
<ellipse cx="275.0" cy="479.2" rx="2.7" ry="1.0" fill="#984e20" opacity="0.53" transform="rotate(5 275.0 479.2)"/>
<ellipse cx="281.7" cy="515.2" rx="2.7" ry="1.8" fill="#6a2e10" opacity="0.76" transform="rotate(61 281.7 515.2)"/>
<ellipse cx="282.1" cy="478.5" rx="1.6" ry="1.1" fill="#b46c30" opacity="0.77" transform="rotate(1 282.1 478.5)"/>
<ellipse cx="266.0" cy="502.9" rx="3.6" ry="1.5" fill="#b46c30" opacity="0.67" transform="rotate(96 266.0 502.9)"/>
<ellipse cx="292.9" cy="481.6" rx="3.3" ry="1.8" fill="#5a260c" opacity="0.54" transform="rotate(84 292.9 481.6)"/>
<ellipse cx="291.5" cy="454.8" rx="2.3" ry="1.8" fill="#4e200a" opacity="0.84" transform="rotate(21 291.5 454.8)"/>
<ellipse cx="270.9" cy="479.5" rx="3.6" ry="0.9" fill="#a85a26" opacity="0.58" transform="rotate(46 270.9 479.5)"/>
<ellipse cx="265.0" cy="503.2" rx="3.0" ry="1.3" fill="#4e200a" opacity="0.60" transform="rotate(55 265.0 503.2)"/>
<ellipse cx="253.4" cy="474.2" rx="1.7" ry="0.9" fill="#984e20" opacity="0.88" transform="rotate(78 253.4 474.2)"/>
<ellipse cx="253.5" cy="515.8" rx="3.3" ry="0.8" fill="#4e200a" opacity="0.53" transform="rotate(60 253.5 515.8)"/>
<ellipse cx="250.3" cy="498.6" rx="3.1" ry="1.7" fill="#5a260c" opacity="0.76" transform="rotate(80 250.3 498.6)"/>
<ellipse cx="249.6" cy="469.7" rx="3.7" ry="1.8" fill="#5a260c" opacity="0.54" transform="rotate(41 249.6 469.7)"/>
<ellipse cx="262.2" cy="500.1" rx="3.0" ry="1.5" fill="#984e20" opacity="0.59" transform="rotate(38 262.2 500.1)"/>
<ellipse cx="307.3" cy="457.5" rx="1.9" ry="2.0" fill="#a85a26" opacity="0.69" transform="rotate(157 307.3 457.5)"/>
<ellipse cx="278.9" cy="453.6" rx="2.1" ry="0.8" fill="#984e20" opacity="0.64" transform="rotate(82 278.9 453.6)"/>
<ellipse cx="268.8" cy="470.8" rx="3.4" ry="1.8" fill="#a85a26" opacity="0.74" transform="rotate(71 268.8 470.8)"/>
<ellipse cx="286.8" cy="476.2" rx="1.5" ry="0.9" fill="#6a2e10" opacity="0.57" transform="rotate(136 286.8 476.2)"/>
<ellipse cx="246.4" cy="454.2" rx="1.6" ry="1.3" fill="#b46c30" opacity="0.73" transform="rotate(118 246.4 454.2)"/>
<ellipse cx="264.0" cy="489.2" rx="3.5" ry="1.4" fill="#6a2e10" opacity="0.59" transform="rotate(77 264.0 489.2)"/>
<ellipse cx="267.6" cy="495.6" rx="2.4" ry="1.7" fill="#6a2e10" opacity="0.68" transform="rotate(162 267.6 495.6)"/>
<ellipse cx="254.0" cy="483.6" rx="3.4" ry="0.8" fill="#984e20" opacity="0.78" transform="rotate(101 254.0 483.6)"/>
<ellipse cx="297.1" cy="506.5" rx="2.3" ry="1.8" fill="#b46c30" opacity="0.55" transform="rotate(151 297.1 506.5)"/>
<ellipse cx="255.7" cy="468.5" rx="3.1" ry="1.4" fill="#4e200a" opacity="0.51" transform="rotate(162 255.7 468.5)"/>
<ellipse cx="296.6" cy="463.6" rx="2.5" ry="1.2" fill="#5a260c" opacity="0.64" transform="rotate(108 296.6 463.6)"/>
<ellipse cx="285.2" cy="484.2" rx="2.7" ry="1.0" fill="#5a260c" opacity="0.77" transform="rotate(118 285.2 484.2)"/>
<ellipse cx="310.5" cy="464.7" rx="2.9" ry="1.4" fill="#b46c30" opacity="0.78" transform="rotate(60 310.5 464.7)"/>
<ellipse cx="247.8" cy="483.4" rx="2.5" ry="1.0" fill="#b46c30" opacity="0.73" transform="rotate(74 247.8 483.4)"/>
<ellipse cx="248.0" cy="488.0" rx="2.6" ry="1.0" fill="#b46c30" opacity="0.63" transform="rotate(59 248.0 488.0)"/>
<ellipse cx="298.1" cy="496.0" rx="3.9" ry="1.1" fill="#984e20" opacity="0.74" transform="rotate(154 298.1 496.0)"/>
<ellipse cx="294.7" cy="474.7" rx="3.9" ry="1.9" fill="#a85a26" opacity="0.80" transform="rotate(124 294.7 474.7)"/>
<ellipse cx="304.5" cy="512.7" rx="3.1" ry="1.0" fill="#a85a26" opacity="0.61" transform="rotate(24 304.5 512.7)"/>
<ellipse cx="284.6" cy="470.7" rx="3.3" ry="1.6" fill="#984e20" opacity="0.85" transform="rotate(177 284.6 470.7)"/>
<ellipse cx="267.5" cy="513.4" rx="1.5" ry="1.3" fill="#b46c30" opacity="0.63" transform="rotate(170 267.5 513.4)"/>
<ellipse cx="252.0" cy="498.8" rx="2.4" ry="1.0" fill="#4e200a" opacity="0.90" transform="rotate(160 252.0 498.8)"/>
<ellipse cx="286.8" cy="473.3" rx="3.0" ry="1.1" fill="#6a2e10" opacity="0.55" transform="rotate(61 286.8 473.3)"/>
<ellipse cx="277.7" cy="470.1" rx="3.9" ry="1.0" fill="#b46c30" opacity="0.61" transform="rotate(26 277.7 470.1)"/>
<ellipse cx="263.2" cy="472.4" rx="2.3" ry="1.0" fill="#b46c30" opacity="0.57" transform="rotate(56 263.2 472.4)"/>
<ellipse cx="261.5" cy="478.9" rx="3.9" ry="0.8" fill="#4e200a" opacity="0.66" transform="rotate(84 261.5 478.9)"/>
<ellipse cx="302.9" cy="508.6" rx="3.3" ry="1.1" fill="#984e20" opacity="0.69" transform="rotate(4 302.9 508.6)"/>
<ellipse cx="280.8" cy="455.2" rx="3.2" ry="1.9" fill="#6a2e10" opacity="0.55" transform="rotate(83 280.8 455.2)"/>
<ellipse cx="294.4" cy="482.7" rx="3.6" ry="1.7" fill="#4e200a" opacity="0.53" transform="rotate(60 294.4 482.7)"/>
<ellipse cx="301.6" cy="504.2" rx="1.6" ry="1.8" fill="#984e20" opacity="0.51" transform="rotate(57 301.6 504.2)"/>
<ellipse cx="307.1" cy="489.3" rx="2.9" ry="1.3" fill="#984e20" opacity="0.89" transform="rotate(25 307.1 489.3)"/>
<ellipse cx="271.6" cy="497.9" rx="4.0" ry="0.9" fill="#b46c30" opacity="0.60" transform="rotate(67 271.6 497.9)"/>
<ellipse cx="248.9" cy="505.3" rx="3.8" ry="1.9" fill="#5a260c" opacity="0.51" transform="rotate(39 248.9 505.3)"/>
<ellipse cx="261.1" cy="515.0" rx="3.7" ry="1.2" fill="#a85a26" opacity="0.68" transform="rotate(34 261.1 515.0)"/>
<ellipse cx="302.7" cy="486.4" rx="2.3" ry="1.0" fill="#6a2e10" opacity="0.79" transform="rotate(117 302.7 486.4)"/>
<ellipse cx="258.1" cy="515.4" rx="2.3" ry="1.5" fill="#a85a26" opacity="0.73" transform="rotate(105 258.1 515.4)"/>
<ellipse cx="277.7" cy="465.1" rx="1.5" ry="1.0" fill="#5a260c" opacity="0.83" transform="rotate(86 277.7 465.1)"/>
<ellipse cx="309.6" cy="486.2" rx="3.1" ry="1.0" fill="#4e200a" opacity="0.79" transform="rotate(170 309.6 486.2)"/>
<ellipse cx="280.8" cy="515.5" rx="3.7" ry="1.1" fill="#5a260c" opacity="0.65" transform="rotate(114 280.8 515.5)"/>
<ellipse cx="264.5" cy="461.5" rx="2.7" ry="1.8" fill="#5a260c" opacity="0.65" transform="rotate(104 264.5 461.5)"/>
<ellipse cx="276.8" cy="492.6" rx="1.7" ry="1.8" fill="#984e20" opacity="0.73" transform="rotate(93 276.8 492.6)"/>
<ellipse cx="290.1" cy="498.5" rx="3.7" ry="1.9" fill="#b46c30" opacity="0.79" transform="rotate(151 290.1 498.5)"/>
<ellipse cx="259.2" cy="492.0" rx="3.6" ry="2.0" fill="#4e200a" opacity="0.63" transform="rotate(150 259.2 492.0)"/>
<ellipse cx="282.8" cy="458.9" rx="2.8" ry="0.9" fill="#a85a26" opacity="0.52" transform="rotate(98 282.8 458.9)"/>
<ellipse cx="264.6" cy="491.4" rx="3.3" ry="1.6" fill="#5a260c" opacity="0.75" transform="rotate(94 264.6 491.4)"/>
<ellipse cx="248.6" cy="462.7" rx="1.6" ry="1.5" fill="#6a2e10" opacity="0.63" transform="rotate(143 248.6 462.7)"/>
<ellipse cx="310.5" cy="481.5" rx="2.4" ry="0.9" fill="#4e200a" opacity="0.76" transform="rotate(13 310.5 481.5)"/>
<ellipse cx="304.4" cy="474.7" rx="1.8" ry="1.8" fill="#5a260c" opacity="0.67" transform="rotate(115 304.4 474.7)"/>
<ellipse cx="299.1" cy="513.3" rx="2.9" ry="1.9" fill="#6a2e10" opacity="0.51" transform="rotate(109 299.1 513.3)"/>
<ellipse cx="291.5" cy="494.9" rx="2.4" ry="1.2" fill="#4e200a" opacity="0.51" transform="rotate(126 291.5 494.9)"/>
<ellipse cx="311.0" cy="465.7" rx="2.4" ry="1.6" fill="#984e20" opacity="0.79" transform="rotate(122 311.0 465.7)"/>
<ellipse cx="296.2" cy="488.7" rx="2.7" ry="1.2" fill="#5a260c" opacity="0.89" transform="rotate(170 296.2 488.7)"/>
<ellipse cx="249.9" cy="486.3" rx="2.3" ry="1.8" fill="#984e20" opacity="0.86" transform="rotate(57 249.9 486.3)"/>
<ellipse cx="261.6" cy="466.4" rx="2.1" ry="1.3" fill="#6a2e10" opacity="0.69" transform="rotate(7 261.6 466.4)"/>
<ellipse cx="305.4" cy="499.8" rx="2.6" ry="1.4" fill="#b46c30" opacity="0.61" transform="rotate(163 305.4 499.8)"/>
<ellipse cx="302.5" cy="510.0" rx="3.7" ry="1.8" fill="#b46c30" opacity="0.55" transform="rotate(147 302.5 510.0)"/>
<ellipse cx="286.4" cy="459.7" rx="1.9" ry="0.9" fill="#984e20" opacity="0.79" transform="rotate(137 286.4 459.7)"/>
<ellipse cx="260.3" cy="472.1" rx="3.3" ry="1.6" fill="#5a260c" opacity="0.61" transform="rotate(130 260.3 472.1)"/>
<ellipse cx="296.3" cy="505.8" rx="3.0" ry="1.5" fill="#984e20" opacity="0.71" transform="rotate(47 296.3 505.8)"/>
<ellipse cx="256.7" cy="466.9" rx="3.7" ry="1.0" fill="#984e20" opacity="0.76" transform="rotate(22 256.7 466.9)"/>
<ellipse cx="248.0" cy="470.2" rx="2.4" ry="1.3" fill="#5a260c" opacity="0.73" transform="rotate(25 248.0 470.2)"/>
<ellipse cx="296.5" cy="473.6" rx="2.9" ry="0.9" fill="#a85a26" opacity="0.54" transform="rotate(141 296.5 473.6)"/>
<ellipse cx="305.1" cy="465.8" rx="2.7" ry="1.5" fill="#984e20" opacity="0.61" transform="rotate(50 305.1 465.8)"/>
<ellipse cx="273.8" cy="509.9" rx="2.9" ry="1.4" fill="#6a2e10" opacity="0.56" transform="rotate(27 273.8 509.9)"/>
<ellipse cx="309.2" cy="516.8" rx="1.7" ry="1.6" fill="#a85a26" opacity="0.66" transform="rotate(141 309.2 516.8)"/>
<ellipse cx="300.4" cy="512.6" rx="3.3" ry="1.5" fill="#a85a26" opacity="0.68" transform="rotate(57 300.4 512.6)"/>
<ellipse cx="262.9" cy="453.8" rx="3.8" ry="1.2" fill="#5a260c" opacity="0.84" transform="rotate(39 262.9 453.8)"/>
<ellipse cx="302.6" cy="500.5" rx="2.9" ry="1.9" fill="#6a2e10" opacity="0.54" transform="rotate(42 302.6 500.5)"/>
<ellipse cx="300.1" cy="465.1" rx="1.5" ry="1.9" fill="#a85a26" opacity="0.84" transform="rotate(99 300.1 465.1)"/>
<ellipse cx="310.9" cy="478.1" rx="3.7" ry="0.9" fill="#5a260c" opacity="0.87" transform="rotate(11 310.9 478.1)"/>
<ellipse cx="293.1" cy="457.0" rx="1.6" ry="1.8" fill="#6a2e10" opacity="0.88" transform="rotate(131 293.1 457.0)"/>
<ellipse cx="313.5" cy="461.3" rx="2.5" ry="1.2" fill="#984e20" opacity="0.53" transform="rotate(23 313.5 461.3)"/>
<ellipse cx="260.5" cy="466.4" rx="2.1" ry="1.9" fill="#a85a26" opacity="0.79" transform="rotate(54 260.5 466.4)"/>
<ellipse cx="276.3" cy="504.1" rx="3.4" ry="1.6" fill="#5a260c" opacity="0.88" transform="rotate(57 276.3 504.1)"/>
<ellipse cx="261.6" cy="478.0" rx="3.2" ry="1.7" fill="#5a260c" opacity="0.76" transform="rotate(170 261.6 478.0)"/>
<ellipse cx="263.2" cy="469.0" rx="3.5" ry="1.5" fill="#a85a26" opacity="0.68" transform="rotate(53 263.2 469.0)"/>
<ellipse cx="301.7" cy="480.9" rx="3.3" ry="1.2" fill="#984e20" opacity="0.75" transform="rotate(80 301.7 480.9)"/>
<ellipse cx="299.5" cy="484.9" rx="2.7" ry="1.2" fill="#6a2e10" opacity="0.66" transform="rotate(65 299.5 484.9)"/>
<ellipse cx="296.4" cy="479.7" rx="1.6" ry="1.2" fill="#d8b8a0" stroke="#5a280c" stroke-width="0.4" opacity="0.91" transform="rotate(170 296.4 479.7)"/>
<ellipse cx="246.4" cy="503.4" rx="1.4" ry="1.2" fill="#ead6cc" stroke="#4a1f08" stroke-width="0.5" opacity="0.83" transform="rotate(142 246.4 503.4)"/>
<ellipse cx="254.0" cy="512.4" rx="1.3" ry="1.2" fill="#d0a078" stroke="#4a1f08" stroke-width="0.4" opacity="0.98" transform="rotate(40 254.0 512.4)"/>
<ellipse cx="247.1" cy="491.9" rx="1.1" ry="1.1" fill="#d0a078" stroke="#6e3310" stroke-width="0.6" opacity="0.93" transform="rotate(171 247.1 491.9)"/>
<ellipse cx="260.6" cy="503.7" rx="1.4" ry="1.0" fill="#c9b6d0" stroke="#8a4a1c" stroke-width="0.5" opacity="0.71" transform="rotate(13 260.6 503.7)"/>
<ellipse cx="294.2" cy="466.0" rx="1.2" ry="0.9" fill="#c4a9c0" stroke="#5a280c" stroke-width="0.4" opacity="0.89" transform="rotate(109 294.2 466.0)"/>
<ellipse cx="274.0" cy="493.3" rx="1.4" ry="1.2" fill="#d0a078" stroke="#5a280c" stroke-width="0.5" opacity="0.99" transform="rotate(3 274.0 493.3)"/>
<ellipse cx="275.5" cy="471.8" rx="1.1" ry="0.7" fill="#c9b6d0" stroke="#8a4a1c" stroke-width="0.3" opacity="0.92" transform="rotate(2 275.5 471.8)"/>
<ellipse cx="313.6" cy="510.6" rx="1.3" ry="0.8" fill="#f3e8e4" stroke="#4a1f08" stroke-width="0.7" opacity="0.90" transform="rotate(68 313.6 510.6)"/>
<ellipse cx="302.3" cy="469.6" rx="1.5" ry="1.1" fill="#d8b8a0" stroke="#5a280c" stroke-width="0.5" opacity="0.79" transform="rotate(65 302.3 469.6)"/>
<ellipse cx="291.0" cy="501.9" rx="1.4" ry="0.8" fill="#f3e8e4" stroke="#5a280c" stroke-width="0.3" opacity="0.82" transform="rotate(95 291.0 501.9)"/>
<ellipse cx="309.3" cy="455.8" rx="1.2" ry="1.2" fill="#f3e8e4" stroke="#4a1f08" stroke-width="0.6" opacity="0.74" transform="rotate(44 309.3 455.8)"/>
<ellipse cx="280.9" cy="494.7" rx="1.1" ry="1.2" fill="#f3e8e4" stroke="#5a280c" stroke-width="0.4" opacity="0.93" transform="rotate(48 280.9 494.7)"/>
<ellipse cx="255.8" cy="482.0" rx="1.4" ry="1.1" fill="#c4a9c0" stroke="#5a280c" stroke-width="0.6" opacity="0.88" transform="rotate(67 255.8 482.0)"/>
<ellipse cx="306.8" cy="469.0" rx="1.3" ry="1.0" fill="#dcc0b0" stroke="#6e3310" stroke-width="0.5" opacity="0.80" transform="rotate(157 306.8 469.0)"/>
<ellipse cx="301.3" cy="505.3" rx="1.7" ry="1.3" fill="#c4a9c0" stroke="#8a4a1c" stroke-width="0.6" opacity="0.92" transform="rotate(87 301.3 505.3)"/>
<ellipse cx="258.4" cy="464.6" rx="1.0" ry="0.9" fill="#ead6cc" stroke="#8a4a1c" stroke-width="0.7" opacity="0.81" transform="rotate(140 258.4 464.6)"/>
<ellipse cx="265.8" cy="474.0" rx="1.5" ry="1.1" fill="#f3e8e4" stroke="#6e3310" stroke-width="0.4" opacity="0.73" transform="rotate(76 265.8 474.0)"/>
<ellipse cx="305.8" cy="513.6" rx="1.6" ry="0.9" fill="#ead6cc" stroke="#5a280c" stroke-width="0.5" opacity="0.81" transform="rotate(142 305.8 513.6)"/>
<ellipse cx="309.7" cy="509.7" rx="1.6" ry="0.8" fill="#f3e8e4" stroke="#5a280c" stroke-width="0.5" opacity="0.73" transform="rotate(20 309.7 509.7)"/>
<ellipse cx="302.2" cy="518.2" rx="1.5" ry="1.2" fill="#c4a9c0" stroke="#6e3310" stroke-width="0.4" opacity="0.79" transform="rotate(153 302.2 518.2)"/>
<ellipse cx="255.0" cy="505.2" rx="1.5" ry="0.8" fill="#ead6cc" stroke="#6e3310" stroke-width="0.4" opacity="0.89" transform="rotate(77 255.0 505.2)"/>
<ellipse cx="293.1" cy="510.3" rx="1.1" ry="1.1" fill="#c9b6d0" stroke="#4a1f08" stroke-width="0.6" opacity="0.75" transform="rotate(20 293.1 510.3)"/>
<ellipse cx="304.3" cy="488.1" rx="1.2" ry="1.0" fill="#c9b6d0" stroke="#5a280c" stroke-width="0.3" opacity="0.93" transform="rotate(158 304.3 488.1)"/>
<ellipse cx="289.8" cy="474.1" rx="1.5" ry="1.3" fill="#d0a078" stroke="#4a1f08" stroke-width="0.6" opacity="0.89" transform="rotate(37 289.8 474.1)"/>
<ellipse cx="311.8" cy="480.0" rx="1.8" ry="0.8" fill="#d8b8a0" stroke="#5a280c" stroke-width="0.5" opacity="0.73" transform="rotate(57 311.8 480.0)"/>
<ellipse cx="266.6" cy="478.4" rx="1.4" ry="1.1" fill="#d8b8a0" stroke="#8a4a1c" stroke-width="0.6" opacity="0.72" transform="rotate(149 266.6 478.4)"/>
<ellipse cx="278.3" cy="462.5" rx="1.8" ry="0.8" fill="#d8b8a0" stroke="#8a4a1c" stroke-width="0.4" opacity="0.95" transform="rotate(97 278.3 462.5)"/>
<ellipse cx="248.5" cy="511.3" rx="1.4" ry="0.8" fill="#f3e8e4" stroke="#6e3310" stroke-width="0.3" opacity="0.93" transform="rotate(124 248.5 511.3)"/>
<ellipse cx="246.6" cy="479.7" rx="1.4" ry="1.2" fill="#c9b6d0" stroke="#8a4a1c" stroke-width="0.4" opacity="0.75" transform="rotate(160 246.6 479.7)"/>
<ellipse cx="261.3" cy="466.6" rx="1.4" ry="1.2" fill="#dcc0b0" stroke="#4a1f08" stroke-width="0.5" opacity="0.91" transform="rotate(16 261.3 466.6)"/>
<ellipse cx="273.1" cy="476.1" rx="1.1" ry="1.0" fill="#c4a9c0" stroke="#8a4a1c" stroke-width="0.3" opacity="0.74" transform="rotate(29 273.1 476.1)"/>
<ellipse cx="288.2" cy="469.7" rx="1.3" ry="1.0" fill="#f3e8e4" stroke="#8a4a1c" stroke-width="0.6" opacity="0.87" transform="rotate(18 288.2 469.7)"/>
<ellipse cx="274.6" cy="507.2" rx="1.3" ry="0.9" fill="#d8b8a0" stroke="#6e3310" stroke-width="0.7" opacity="0.89" transform="rotate(15 274.6 507.2)"/>
<ellipse cx="257.8" cy="513.8" rx="1.3" ry="1.1" fill="#dcc0b0" stroke="#8a4a1c" stroke-width="0.7" opacity="0.85" transform="rotate(143 257.8 513.8)"/>
<ellipse cx="305.8" cy="501.2" rx="1.1" ry="0.9" fill="#f3e8e4" stroke="#4a1f08" stroke-width="0.6" opacity="0.80" transform="rotate(83 305.8 501.2)"/>
<ellipse cx="282.6" cy="498.0" rx="1.3" ry="1.0" fill="#c9b6d0" stroke="#8a4a1c" stroke-width="0.4" opacity="0.87" transform="rotate(28 282.6 498.0)"/>
<ellipse cx="306.0" cy="473.2" rx="1.1" ry="0.9" fill="#dcc0b0" stroke="#8a4a1c" stroke-width="0.6" opacity="0.79" transform="rotate(25 306.0 473.2)"/>
<ellipse cx="295.0" cy="457.0" rx="1.0" ry="1.1" fill="#ead6cc" stroke="#5a280c" stroke-width="0.3" opacity="0.80" transform="rotate(95 295.0 457.0)"/>
<ellipse cx="264.2" cy="458.4" rx="1.0" ry="0.9" fill="#f3e8e4" stroke="#8a4a1c" stroke-width="0.5" opacity="0.82" transform="rotate(136 264.2 458.4)"/>
<ellipse cx="308.3" cy="488.5" rx="1.5" ry="0.8" fill="#d8b8a0" stroke="#5a280c" stroke-width="0.4" opacity="0.77" transform="rotate(145 308.3 488.5)"/>
<ellipse cx="269.6" cy="455.1" rx="1.4" ry="1.1" fill="#dcc0b0" stroke="#6e3310" stroke-width="0.5" opacity="0.92" transform="rotate(122 269.6 455.1)"/>
<ellipse cx="245.4" cy="488.0" rx="1.7" ry="0.9" fill="#c9b6d0" stroke="#6e3310" stroke-width="0.6" opacity="0.77" transform="rotate(157 245.4 488.0)"/>
<ellipse cx="251.9" cy="469.6" rx="1.8" ry="0.9" fill="#f3e8e4" stroke="#5a280c" stroke-width="0.4" opacity="0.90" transform="rotate(75 251.9 469.6)"/>
<ellipse cx="282.1" cy="458.8" rx="1.0" ry="0.9" fill="#d8b8a0" stroke="#8a4a1c" stroke-width="0.4" opacity="0.97" transform="rotate(4 282.1 458.8)"/>
<ellipse cx="312.7" cy="470.8" rx="1.1" ry="1.0" fill="#dcc0b0" stroke="#6e3310" stroke-width="0.6" opacity="0.96" transform="rotate(160 312.7 470.8)"/>
<ellipse cx="267.1" cy="496.7" rx="1.1" ry="1.1" fill="#d0a078" stroke="#6e3310" stroke-width="0.6" opacity="0.98" transform="rotate(69 267.1 496.7)"/>
<ellipse cx="249.6" cy="459.9" rx="1.5" ry="1.0" fill="#dcc0b0" stroke="#4a1f08" stroke-width="0.4" opacity="0.98" transform="rotate(90 249.6 459.9)"/>
<ellipse cx="279.2" cy="488.5" rx="1.3" ry="1.2" fill="#d8b8a0" stroke="#5a280c" stroke-width="0.6" opacity="0.94" transform="rotate(121 279.2 488.5)"/>
<ellipse cx="252.7" cy="491.5" rx="1.4" ry="0.7" fill="#d8b8a0" stroke="#6e3310" stroke-width="0.5" opacity="0.82" transform="rotate(116 252.7 491.5)"/>
<ellipse cx="268.5" cy="502.4" rx="1.2" ry="0.8" fill="#c4a9c0" stroke="#5a280c" stroke-width="0.6" opacity="1.00" transform="rotate(163 268.5 502.4)"/>
<ellipse cx="302.2" cy="509.5" rx="1.5" ry="1.2" fill="#c4a9c0" stroke="#5a280c" stroke-width="0.6" opacity="0.85" transform="rotate(84 302.2 509.5)"/>
<ellipse cx="286.0" cy="489.8" rx="1.4" ry="0.7" fill="#c4a9c0" stroke="#6e3310" stroke-width="0.6" opacity="0.87" transform="rotate(62 286.0 489.8)"/>
<ellipse cx="300.8" cy="455.5" rx="1.0" ry="1.1" fill="#ead6cc" stroke="#6e3310" stroke-width="0.4" opacity="0.88" transform="rotate(20 300.8 455.5)"/>
<ellipse cx="299.6" cy="486.1" rx="1.6" ry="0.8" fill="#ead6cc" stroke="#5a280c" stroke-width="0.5" opacity="0.98" transform="rotate(39 299.6 486.1)"/>
<ellipse cx="284.2" cy="468.9" rx="1.7" ry="0.9" fill="#ead6cc" stroke="#8a4a1c" stroke-width="0.7" opacity="0.79" transform="rotate(0 284.2 468.9)"/>
<ellipse cx="311.4" cy="518.2" rx="1.6" ry="1.1" fill="#ead6cc" stroke="#5a280c" stroke-width="0.5" opacity="0.84" transform="rotate(58 311.4 518.2)"/>
<ellipse cx="301.7" cy="501.3" rx="1.2" ry="1.0" fill="#ead6cc" stroke="#4a1f08" stroke-width="0.3" opacity="0.98" transform="rotate(86 301.7 501.3)"/>
<ellipse cx="266.7" cy="492.9" rx="1.3" ry="1.1" fill="#dcc0b0" stroke="#6e3310" stroke-width="0.4" opacity="0.71" transform="rotate(138 266.7 492.9)"/>
<ellipse cx="270.4" cy="466.0" rx="1.6" ry="1.1" fill="#d0a078" stroke="#5a280c" stroke-width="0.5" opacity="0.82" transform="rotate(31 270.4 466.0)"/>
<ellipse cx="274.3" cy="489.8" rx="1.6" ry="1.0" fill="#dcc0b0" stroke="#6e3310" stroke-width="0.4" opacity="0.76" transform="rotate(133 274.3 489.8)"/>
<ellipse cx="259.1" cy="498.2" rx="1.8" ry="1.3" fill="#d8b8a0" stroke="#5a280c" stroke-width="0.4" opacity="0.87" transform="rotate(45 259.1 498.2)"/>
<ellipse cx="277.4" cy="468.8" rx="1.8" ry="1.0" fill="#c4a9c0" stroke="#6e3310" stroke-width="0.3" opacity="0.80" transform="rotate(130 277.4 468.8)"/>
<ellipse cx="254.9" cy="461.6" rx="1.3" ry="1.2" fill="#d0a078" stroke="#6e3310" stroke-width="0.4" opacity="0.73" transform="rotate(119 254.9 461.6)"/>
<ellipse cx="277.2" cy="496.8" rx="1.0" ry="0.9" fill="#c9b6d0" stroke="#5a280c" stroke-width="0.4" opacity="0.90" transform="rotate(17 277.2 496.8)"/>
<ellipse cx="278.6" cy="455.6" rx="1.8" ry="1.0" fill="#d0a078" stroke="#8a4a1c" stroke-width="0.6" opacity="0.89" transform="rotate(66 278.6 455.6)"/>
<ellipse cx="248.2" cy="455.3" rx="1.6" ry="1.0" fill="#f3e8e4" stroke="#5a280c" stroke-width="0.4" opacity="0.87" transform="rotate(119 248.2 455.3)"/>
<ellipse cx="245.3" cy="465.4" rx="1.5" ry="1.0" fill="#dcc0b0" stroke="#8a4a1c" stroke-width="0.4" opacity="0.88" transform="rotate(79 245.3 465.4)"/>
<ellipse cx="275.2" cy="481.4" rx="1.3" ry="0.9" fill="#c4a9c0" stroke="#8a4a1c" stroke-width="0.7" opacity="0.75" transform="rotate(86 275.2 481.4)"/>
<ellipse cx="251.4" cy="485.8" rx="1.8" ry="0.9" fill="#d8b8a0" stroke="#8a4a1c" stroke-width="0.3" opacity="0.73" transform="rotate(147 251.4 485.8)"/>
<ellipse cx="288.0" cy="495.1" rx="1.0" ry="0.8" fill="#c9b6d0" stroke="#5a280c" stroke-width="0.4" opacity="0.82" transform="rotate(150 288.0 495.1)"/>
<ellipse cx="253.3" cy="516.3" rx="1.6" ry="0.9" fill="#c4a9c0" stroke="#6e3310" stroke-width="0.6" opacity="0.89" transform="rotate(9 253.3 516.3)"/>
<ellipse cx="247.6" cy="507.3" rx="1.4" ry="1.3" fill="#c9b6d0" stroke="#4a1f08" stroke-width="0.4" opacity="0.88" transform="rotate(75 247.6 507.3)"/>
<ellipse cx="256.4" cy="454.5" rx="1.8" ry="1.1" fill="#d0a078" stroke="#4a1f08" stroke-width="0.4" opacity="1.00" transform="rotate(69 256.4 454.5)"/>
<ellipse cx="270.7" cy="498.4" rx="1.7" ry="1.2" fill="#f3e8e4" stroke="#4a1f08" stroke-width="0.7" opacity="0.96" transform="rotate(97 270.7 498.4)"/>
<ellipse cx="298.5" cy="509.2" rx="1.8" ry="1.2" fill="#ead6cc" stroke="#6e3310" stroke-width="0.6" opacity="0.90" transform="rotate(138 298.5 509.2)"/>
<ellipse cx="295.3" cy="513.3" rx="1.6" ry="0.9" fill="#d0a078" stroke="#6e3310" stroke-width="0.3" opacity="0.92" transform="rotate(126 295.3 513.3)"/>
<ellipse cx="286.2" cy="510.8" rx="1.5" ry="0.8" fill="#d8b8a0" stroke="#4a1f08" stroke-width="0.3" opacity="0.78" transform="rotate(61 286.2 510.8)"/>
<ellipse cx="273.3" cy="517.4" rx="1.8" ry="0.8" fill="#dcc0b0" stroke="#8a4a1c" stroke-width="0.3" opacity="1.00" transform="rotate(51 273.3 517.4)"/>
<ellipse cx="270.4" cy="484.9" rx="1.3" ry="0.9" fill="#d0a078" stroke="#4a1f08" stroke-width="0.5" opacity="0.99" transform="rotate(29 270.4 484.9)"/>
<ellipse cx="302.6" cy="464.7" rx="1.5" ry="0.8" fill="#d0a078" stroke="#5a280c" stroke-width="0.5" opacity="0.87" transform="rotate(79 302.6 464.7)"/>
<ellipse cx="277.1" cy="510.1" rx="1.4" ry="1.3" fill="#dcc0b0" stroke="#8a4a1c" stroke-width="0.5" opacity="0.97" transform="rotate(135 277.1 510.1)"/>
<ellipse cx="293.1" cy="472.5" rx="1.6" ry="0.8" fill="#c4a9c0" stroke="#5a280c" stroke-width="0.4" opacity="0.82" transform="rotate(101 293.1 472.5)"/>
<ellipse cx="309.0" cy="515.2" rx="1.1" ry="1.1" fill="#c4a9c0" stroke="#4a1f08" stroke-width="0.4" opacity="0.90" transform="rotate(12 309.0 515.2)"/>
<ellipse cx="253.1" cy="499.6" rx="1.5" ry="0.7" fill="#dcc0b0" stroke="#6e3310" stroke-width="0.3" opacity="0.77" transform="rotate(48 253.1 499.6)"/>
<ellipse cx="305.4" cy="479.3" rx="1.8" ry="1.0" fill="#d8b8a0" stroke="#6e3310" stroke-width="0.4" opacity="0.98" transform="rotate(130 305.4 479.3)"/>
<ellipse cx="311.2" cy="452.8" rx="1.7" ry="1.1" fill="#c9b6d0" stroke="#8a4a1c" stroke-width="0.3" opacity="0.92" transform="rotate(169 311.2 452.8)"/>
<ellipse cx="285.4" cy="462.6" rx="1.7" ry="1.0" fill="#c4a9c0" stroke="#4a1f08" stroke-width="0.7" opacity="0.91" transform="rotate(117 285.4 462.6)"/>
<ellipse cx="289.7" cy="518.7" rx="1.7" ry="1.1" fill="#c4a9c0" stroke="#5a280c" stroke-width="0.6" opacity="0.71" transform="rotate(139 289.7 518.7)"/>
<ellipse cx="297.3" cy="490.4" rx="1.6" ry="0.9" fill="#f3e8e4" stroke="#6e3310" stroke-width="0.6" opacity="0.80" transform="rotate(149 297.3 490.4)"/>
<ellipse cx="255.6" cy="488.4" rx="1.2" ry="0.9" fill="#d8b8a0" stroke="#8a4a1c" stroke-width="0.4" opacity="0.71" transform="rotate(8 255.6 488.4)"/>
<ellipse cx="282.9" cy="512.8" rx="1.5" ry="1.2" fill="#ead6cc" stroke="#4a1f08" stroke-width="0.7" opacity="0.86" transform="rotate(71 282.9 512.8)"/>
<ellipse cx="264.7" cy="512.4" rx="1.6" ry="1.1" fill="#ead6cc" stroke="#5a280c" stroke-width="0.6" opacity="0.72" transform="rotate(177 264.7 512.4)"/>
<ellipse cx="291.1" cy="513.3" rx="1.4" ry="1.3" fill="#ead6cc" stroke="#5a280c" stroke-width="0.6" opacity="0.73" transform="rotate(158 291.1 513.3)"/>
<ellipse cx="272.6" cy="459.8" rx="1.7" ry="1.0" fill="#d8b8a0" stroke="#4a1f08" stroke-width="0.5" opacity="0.76" transform="rotate(126 272.6 459.8)"/>
<ellipse cx="270.9" cy="506.6" rx="1.6" ry="0.7" fill="#d8b8a0" stroke="#6e3310" stroke-width="0.4" opacity="0.92" transform="rotate(106 270.9 506.6)"/>
<ellipse cx="310.6" cy="499.0" rx="1.6" ry="1.3" fill="#dcc0b0" stroke="#6e3310" stroke-width="0.4" opacity="0.78" transform="rotate(39 310.6 499.0)"/>
<ellipse cx="244.9" cy="470.8" rx="1.1" ry="0.8" fill="#dcc0b0" stroke="#8a4a1c" stroke-width="0.4" opacity="0.90" transform="rotate(52 244.9 470.8)"/>
<ellipse cx="296.4" cy="496.8" rx="1.5" ry="1.0" fill="#c9b6d0" stroke="#4a1f08" stroke-width="0.6" opacity="0.73" transform="rotate(136 296.4 496.8)"/>
<ellipse cx="312.2" cy="505.5" rx="1.1" ry="1.2" fill="#f3e8e4" stroke="#4a1f08" stroke-width="0.4" opacity="0.95" transform="rotate(6 312.2 505.5)"/>
<ellipse cx="248.2" cy="497.2" rx="1.5" ry="0.7" fill="#dcc0b0" stroke="#6e3310" stroke-width="0.7" opacity="0.79" transform="rotate(159 248.2 497.2)"/>
<ellipse cx="256.1" cy="472.6" rx="1.6" ry="0.9" fill="#f3e8e4" stroke="#8a4a1c" stroke-width="0.5" opacity="1.00" transform="rotate(172 256.1 472.6)"/>
<ellipse cx="291.2" cy="497.4" rx="1.2" ry="1.2" fill="#ead6cc" stroke="#4a1f08" stroke-width="0.5" opacity="0.94" transform="rotate(47 291.2 497.4)"/>
<ellipse cx="314.3" cy="494.5" rx="1.1" ry="1.0" fill="#f3e8e4" stroke="#4a1f08" stroke-width="0.6" opacity="0.74" transform="rotate(98 314.3 494.5)"/>
<ellipse cx="295.4" cy="486.6" rx="1.2" ry="1.2" fill="#d0a078" stroke="#4a1f08" stroke-width="0.3" opacity="0.88" transform="rotate(102 295.4 486.6)"/>
<ellipse cx="285.4" cy="474.4" rx="1.4" ry="0.9" fill="#c4a9c0" stroke="#5a280c" stroke-width="0.6" opacity="0.97" transform="rotate(6 285.4 474.4)"/>
<ellipse cx="266.7" cy="517.2" rx="1.7" ry="0.7" fill="#c4a9c0" stroke="#8a4a1c" stroke-width="0.7" opacity="0.78" transform="rotate(141 266.7 517.2)"/>
<ellipse cx="244.9" cy="461.9" rx="1.7" ry="1.0" fill="#f3e8e4" stroke="#5a280c" stroke-width="0.6" opacity="0.85" transform="rotate(138 244.9 461.9)"/>
<ellipse cx="263.9" cy="481.5" rx="1.6" ry="1.0" fill="#d0a078" stroke="#4a1f08" stroke-width="0.5" opacity="1.00" transform="rotate(142 263.9 481.5)"/>
<ellipse cx="278.2" cy="515.5" rx="1.3" ry="0.9" fill="#f3e8e4" stroke="#8a4a1c" stroke-width="0.7" opacity="0.83" transform="rotate(46 278.2 515.5)"/>
<ellipse cx="310.6" cy="475.5" rx="1.3" ry="1.0" fill="#c9b6d0" stroke="#5a280c" stroke-width="0.6" opacity="0.73" transform="rotate(130 310.6 475.5)"/>
<ellipse cx="308.4" cy="460.0" rx="1.8" ry="0.8" fill="#c9b6d0" stroke="#5a280c" stroke-width="0.3" opacity="0.80" transform="rotate(104 308.4 460.0)"/>
<ellipse cx="267.3" cy="508.3" rx="1.4" ry="1.0" fill="#c9b6d0" stroke="#6e3310" stroke-width="0.6" opacity="0.74" transform="rotate(95 267.3 508.3)"/>
<ellipse cx="270.4" cy="494.8" rx="1.4" ry="1.2" fill="#ead6cc" stroke="#8a4a1c" stroke-width="0.5" opacity="0.78" transform="rotate(66 270.4 494.8)"/>
<ellipse cx="267.0" cy="469.5" rx="1.1" ry="1.0" fill="#ead6cc" stroke="#8a4a1c" stroke-width="0.5" opacity="1.00" transform="rotate(49 267.0 469.5)"/>
<ellipse cx="252.7" cy="454.0" rx="1.3" ry="0.9" fill="#dcc0b0" stroke="#6e3310" stroke-width="0.3" opacity="0.98" transform="rotate(34 252.7 454.0)"/>
<ellipse cx="250.1" cy="476.9" rx="1.4" ry="1.2" fill="#dcc0b0" stroke="#5a280c" stroke-width="0.6" opacity="0.84" transform="rotate(122 250.1 476.9)"/>
<ellipse cx="280.6" cy="483.1" rx="1.5" ry="0.9" fill="#dcc0b0" stroke="#6e3310" stroke-width="0.5" opacity="0.99" transform="rotate(54 280.6 483.1)"/>
<ellipse cx="304.1" cy="484.1" rx="1.7" ry="0.8" fill="#c9b6d0" stroke="#4a1f08" stroke-width="0.6" opacity="0.82" transform="rotate(76 304.1 484.1)"/>
<ellipse cx="263.9" cy="462.4" rx="1.0" ry="1.1" fill="#c9b6d0" stroke="#8a4a1c" stroke-width="0.3" opacity="0.83" transform="rotate(146 263.9 462.4)"/>
<ellipse cx="271.1" cy="471.4" rx="1.3" ry="1.0" fill="#c4a9c0" stroke="#6e3310" stroke-width="0.4" opacity="0.85" transform="rotate(6 271.1 471.4)"/>
<ellipse cx="283.7" cy="479.1" rx="1.5" ry="1.0" fill="#ead6cc" stroke="#8a4a1c" stroke-width="0.6" opacity="0.99" transform="rotate(19 283.7 479.1)"/>
<ellipse cx="292.0" cy="480.9" rx="1.3" ry="0.8" fill="#d8b8a0" stroke="#5a280c" stroke-width="0.3" opacity="0.98" transform="rotate(129 292.0 480.9)"/>
<ellipse cx="276.8" cy="485.8" rx="1.1" ry="0.8" fill="#c4a9c0" stroke="#6e3310" stroke-width="0.5" opacity="0.85" transform="rotate(171 276.8 485.8)"/>
<ellipse cx="282.8" cy="465.4" rx="1.2" ry="1.2" fill="#d8b8a0" stroke="#4a1f08" stroke-width="0.6" opacity="0.87" transform="rotate(94 282.8 465.4)"/>
<ellipse cx="296.0" cy="518.8" rx="1.8" ry="0.9" fill="#d0a078" stroke="#5a280c" stroke-width="0.7" opacity="0.83" transform="rotate(159 296.0 518.8)"/>
<ellipse cx="285.4" cy="485.1" rx="1.3" ry="1.0" fill="#ead6cc" stroke="#4a1f08" stroke-width="0.6" opacity="0.88" transform="rotate(165 285.4 485.1)"/>
<ellipse cx="248.8" cy="482.7" rx="1.7" ry="1.2" fill="#f3e8e4" stroke="#8a4a1c" stroke-width="0.5" opacity="0.71" transform="rotate(137 248.8 482.7)"/>
<ellipse cx="261.1" cy="453.4" rx="1.3" ry="1.3" fill="#d8b8a0" stroke="#6e3310" stroke-width="0.6" opacity="0.71" transform="rotate(115 261.1 453.4)"/>
<ellipse cx="268.8" cy="459.3" rx="1.3" ry="1.0" fill="#d8b8a0" stroke="#4a1f08" stroke-width="0.5" opacity="0.99" transform="rotate(6 268.8 459.3)"/>
<ellipse cx="314.1" cy="489.3" rx="1.3" ry="1.2" fill="#d0a078" stroke="#8a4a1c" stroke-width="0.5" opacity="0.88" transform="rotate(85 314.1 489.3)"/>
<ellipse cx="251.2" cy="507.3" rx="1.6" ry="1.0" fill="#f3e8e4" stroke="#5a280c" stroke-width="0.3" opacity="0.93" transform="rotate(153 251.2 507.3)"/>
<ellipse cx="284.2" cy="452.7" rx="1.5" ry="1.2" fill="#c4a9c0" stroke="#4a1f08" stroke-width="0.4" opacity="0.77" transform="rotate(26 284.2 452.7)"/>
<ellipse cx="260.0" cy="487.3" rx="1.1" ry="0.8" fill="#ead6cc" stroke="#6e3310" stroke-width="0.5" opacity="0.77" transform="rotate(53 260.0 487.3)"/>
<ellipse cx="309.8" cy="484.9" rx="1.1" ry="1.3" fill="#f3e8e4" stroke="#4a1f08" stroke-width="0.7" opacity="0.80" transform="rotate(129 309.8 484.9)"/>
<ellipse cx="291.8" cy="459.6" rx="1.7" ry="1.2" fill="#ead6cc" stroke="#4a1f08" stroke-width="0.6" opacity="0.91" transform="rotate(40 291.8 459.6)"/>
<ellipse cx="294.3" cy="475.8" rx="1.5" ry="0.8" fill="#d0a078" stroke="#5a280c" stroke-width="0.4" opacity="0.72" transform="rotate(26 294.3 475.8)"/>
<ellipse cx="270.2" cy="514.1" rx="1.8" ry="0.9" fill="#d8b8a0" stroke="#6e3310" stroke-width="0.3" opacity="0.77" transform="rotate(145 270.2 514.1)"/>
<ellipse cx="291.9" cy="493.0" rx="1.3" ry="0.8" fill="#c4a9c0" stroke="#6e3310" stroke-width="0.5" opacity="0.95" transform="rotate(159 291.9 493.0)"/>
<ellipse cx="299.6" cy="481.8" rx="1.0" ry="0.8" fill="#c9b6d0" stroke="#5a280c" stroke-width="0.3" opacity="0.96" transform="rotate(152 299.6 481.8)"/>
<ellipse cx="285.6" cy="506.4" rx="1.8" ry="0.7" fill="#d8b8a0" stroke="#8a4a1c" stroke-width="0.7" opacity="0.82" transform="rotate(72 285.6 506.4)"/>
<ellipse cx="246.8" cy="474.4" rx="1.5" ry="1.0" fill="#f3e8e4" stroke="#8a4a1c" stroke-width="0.3" opacity="0.85" transform="rotate(93 246.8 474.4)"/>
<ellipse cx="305.8" cy="454.8" rx="1.2" ry="1.1" fill="#dcc0b0" stroke="#4a1f08" stroke-width="0.5" opacity="0.99" transform="rotate(103 305.8 454.8)"/>
<ellipse cx="312.8" cy="467.2" rx="1.3" ry="1.0" fill="#c4a9c0" stroke="#8a4a1c" stroke-width="0.3" opacity="0.72" transform="rotate(6 312.8 467.2)"/>
<ellipse cx="276.1" cy="458.8" rx="1.1" ry="0.8" fill="#c4a9c0" stroke="#5a280c" stroke-width="0.7" opacity="0.98" transform="rotate(96 276.1 458.8)"/>
<ellipse cx="299.4" cy="459.9" rx="1.2" ry="0.9" fill="#f3e8e4" stroke="#6e3310" stroke-width="0.4" opacity="0.85" transform="rotate(148 299.4 459.9)"/>
<ellipse cx="266.1" cy="453.7" rx="1.0" ry="0.7" fill="#dcc0b0" stroke="#5a280c" stroke-width="0.5" opacity="0.94" transform="rotate(150 266.1 453.7)"/>
<ellipse cx="261.5" cy="477.9" rx="1.6" ry="1.0" fill="#c9b6d0" stroke="#4a1f08" stroke-width="0.4" opacity="0.85" transform="rotate(31 261.5 477.9)"/>
<ellipse cx="257.9" cy="510.2" rx="1.5" ry="0.8" fill="#d0a078" stroke="#4a1f08" stroke-width="0.5" opacity="0.92" transform="rotate(176 257.9 510.2)"/>
<ellipse cx="288.1" cy="459.0" rx="1.3" ry="1.1" fill="#f3e8e4" stroke="#8a4a1c" stroke-width="0.6" opacity="0.74" transform="rotate(137 288.1 459.0)"/>
<ellipse cx="256.0" cy="493.7" rx="1.2" ry="1.2" fill="#c9b6d0" stroke="#8a4a1c" stroke-width="0.4" opacity="0.79" transform="rotate(85 256.0 493.7)"/>
<ellipse cx="280.6" cy="472.8" rx="1.0" ry="0.8" fill="#c4a9c0" stroke="#4a1f08" stroke-width="0.4" opacity="0.99" transform="rotate(96 280.6 472.8)"/>
<ellipse cx="281.3" cy="503.4" rx="1.2" ry="1.0" fill="#d8b8a0" stroke="#5a280c" stroke-width="0.5" opacity="0.94" transform="rotate(140 281.3 503.4)"/>
<ellipse cx="264.1" cy="489.4" rx="1.3" ry="0.8" fill="#f3e8e4" stroke="#4a1f08" stroke-width="0.4" opacity="0.89" transform="rotate(5 264.1 489.4)"/>
<ellipse cx="313.0" cy="459.9" rx="1.4" ry="1.2" fill="#ead6cc" stroke="#4a1f08" stroke-width="0.4" opacity="0.78" transform="rotate(157 313.0 459.9)"/>
<ellipse cx="294.6" cy="504.9" rx="1.4" ry="1.2" fill="#d0a078" stroke="#6e3310" stroke-width="0.7" opacity="0.81" transform="rotate(85 294.6 504.9)"/>
<ellipse cx="295.8" cy="461.9" rx="1.5" ry="0.7" fill="#c9b6d0" stroke="#5a280c" stroke-width="0.6" opacity="0.96" transform="rotate(128 295.8 461.9)"/>
<ellipse cx="299.6" cy="493.5" rx="1.2" ry="1.1" fill="#f3e8e4" stroke="#6e3310" stroke-width="0.6" opacity="0.88" transform="rotate(109 299.6 493.5)"/>
<ellipse cx="309.2" cy="494.0" rx="1.4" ry="0.7" fill="#dcc0b0" stroke="#6e3310" stroke-width="0.4" opacity="0.80" transform="rotate(152 309.2 494.0)"/>
<ellipse cx="279.9" cy="507.7" rx="1.5" ry="0.8" fill="#dcc0b0" stroke="#5a280c" stroke-width="0.3" opacity="0.89" transform="rotate(92 279.9 507.7)"/>
<ellipse cx="260.9" cy="518.2" rx="1.4" ry="0.8" fill="#d0a078" stroke="#4a1f08" stroke-width="0.4" opacity="0.97" transform="rotate(71 260.9 518.2)"/>
<ellipse cx="299.5" cy="475.8" rx="1.2" ry="0.9" fill="#dcc0b0" stroke="#5a280c" stroke-width="0.6" opacity="0.99" transform="rotate(100 299.5 475.8)"/>
<ellipse cx="289.8" cy="453.0" rx="1.4" ry="1.3" fill="#d8b8a0" stroke="#4a1f08" stroke-width="0.5" opacity="0.79" transform="rotate(64 289.8 453.0)"/>
<ellipse cx="254.7" cy="465.6" rx="1.8" ry="0.8" fill="#d8b8a0" stroke="#6e3310" stroke-width="0.3" opacity="1.00" transform="rotate(77 254.7 465.6)"/>
<ellipse cx="257.9" cy="469.3" rx="1.2" ry="1.0" fill="#d0a078" stroke="#5a280c" stroke-width="0.6" opacity="0.74" transform="rotate(58 257.9 469.3)"/>
<ellipse cx="283.4" cy="518.1" rx="1.0" ry="0.7" fill="#c9b6d0" stroke="#8a4a1c" stroke-width="0.5" opacity="0.76" transform="rotate(102 283.4 518.1)"/>
<ellipse cx="307.3" cy="504.5" rx="1.6" ry="1.3" fill="#f3e8e4" stroke="#6e3310" stroke-width="0.5" opacity="0.90" transform="rotate(48 307.3 504.5)"/>
<ellipse cx="290.4" cy="484.5" rx="1.2" ry="0.9" fill="#d8b8a0" stroke="#8a4a1c" stroke-width="0.6" opacity="0.98" transform="rotate(96 290.4 484.5)"/>
<ellipse cx="296.4" cy="469.0" rx="1.2" ry="0.7" fill="#d8b8a0" stroke="#8a4a1c" stroke-width="0.5" opacity="0.79" transform="rotate(29 296.4 469.0)"/>
<ellipse cx="285.7" cy="501.1" rx="1.7" ry="1.1" fill="#d8b8a0" stroke="#6e3310" stroke-width="0.3" opacity="0.78" transform="rotate(147 285.7 501.1)"/>
<ellipse cx="300.9" cy="514.1" rx="1.1" ry="1.0" fill="#c4a9c0" stroke="#4a1f08" stroke-width="0.3" opacity="0.79" transform="rotate(119 300.9 514.1)"/>
<ellipse cx="260.0" cy="481.5" rx="1.5" ry="0.8" fill="#d0a078" stroke="#6e3310" stroke-width="0.7" opacity="0.98" transform="rotate(15 260.0 481.5)"/>
<ellipse cx="289.1" cy="465.2" rx="1.0" ry="1.1" fill="#f3e8e4" stroke="#8a4a1c" stroke-width="0.3" opacity="0.71" transform="rotate(145 289.1 465.2)"/>
<ellipse cx="270.4" cy="489.5" rx="1.5" ry="1.0" fill="#c4a9c0" stroke="#4a1f08" stroke-width="0.5" opacity="0.75" transform="rotate(57 270.4 489.5)"/>
<ellipse cx="304.1" cy="461.3" rx="1.2" ry="1.1" fill="#ead6cc" stroke="#6e3310" stroke-width="0.4" opacity="0.90" transform="rotate(29 304.1 461.3)"/>
<ellipse cx="267.6" cy="487.3" rx="1.7" ry="0.8" fill="#f3e8e4" stroke="#6e3310" stroke-width="0.5" opacity="0.77" transform="rotate(12 267.6 487.3)"/>
<ellipse cx="287.8" cy="477.5" rx="1.5" ry="0.9" fill="#ead6cc" stroke="#4a1f08" stroke-width="0.3" opacity="0.90" transform="rotate(50 287.8 477.5)"/>
<ellipse cx="276.5" cy="500.2" rx="1.8" ry="0.7" fill="#c9b6d0" stroke="#6e3310" stroke-width="0.3" opacity="0.87" transform="rotate(88 276.5 500.2)"/>
<ellipse cx="249.9" cy="517.8" rx="1.7" ry="0.9" fill="#ead6cc" stroke="#6e3310" stroke-width="0.4" opacity="0.91" transform="rotate(106 249.9 517.8)"/>
<ellipse cx="249.6" cy="488.9" rx="1.1" ry="0.9" fill="#f3e8e4" stroke="#4a1f08" stroke-width="0.7" opacity="0.71" transform="rotate(34 249.6 488.9)"/>
<ellipse cx="313.6" cy="485.1" rx="1.6" ry="1.2" fill="#c4a9c0" stroke="#5a280c" stroke-width="0.6" opacity="0.78" transform="rotate(133 313.6 485.1)"/>
<ellipse cx="252.2" cy="480.3" rx="1.1" ry="0.9" fill="#d8b8a0" stroke="#4a1f08" stroke-width="0.3" opacity="0.97" transform="rotate(38 252.2 480.3)"/>
<ellipse cx="245.6" cy="514.0" rx="1.4" ry="1.2" fill="#c9b6d0" stroke="#6e3310" stroke-width="0.4" opacity="0.90" transform="rotate(146 245.6 514.0)"/>
<ellipse cx="262.6" cy="494.2" rx="1.6" ry="0.8" fill="#c4a9c0" stroke="#4a1f08" stroke-width="0.6" opacity="0.83" transform="rotate(140 262.6 494.2)"/>
<ellipse cx="259.1" cy="475.0" rx="1.0" ry="1.0" fill="#ead6cc" stroke="#5a280c" stroke-width="0.4" opacity="0.88" transform="rotate(102 259.1 475.0)"/>
<ellipse cx="302.6" cy="452.3" rx="1.1" ry="1.0" fill="#dcc0b0" stroke="#8a4a1c" stroke-width="0.5" opacity="0.94" transform="rotate(27 302.6 452.3)"/>
<ellipse cx="298.6" cy="452.7" rx="1.4" ry="1.1" fill="#ead6cc" stroke="#6e3310" stroke-width="0.6" opacity="0.74" transform="rotate(72 298.6 452.7)"/>
<ellipse cx="277.8" cy="476.1" rx="1.5" ry="1.2" fill="#ead6cc" stroke="#8a4a1c" stroke-width="0.5" opacity="0.93" transform="rotate(86 277.8 476.1)"/>
<ellipse cx="258.4" cy="506.7" rx="1.7" ry="1.2" fill="#c9b6d0" stroke="#4a1f08" stroke-width="0.4" opacity="0.72" transform="rotate(119 258.4 506.7)"/>
<ellipse cx="304.1" cy="496.5" rx="1.4" ry="1.2" fill="#d8b8a0" stroke="#8a4a1c" stroke-width="0.7" opacity="0.85" transform="rotate(35 304.1 496.5)"/>
<ellipse cx="260.2" cy="460.2" rx="1.5" ry="0.7" fill="#d8b8a0" stroke="#4a1f08" stroke-width="0.6" opacity="0.87" transform="rotate(115 260.2 460.2)"/>
<ellipse cx="271.1" cy="479.2" rx="1.6" ry="1.2" fill="#c4a9c0" stroke="#8a4a1c" stroke-width="0.3" opacity="0.97" transform="rotate(97 271.1 479.2)"/>
<ellipse cx="263.8" cy="506.4" rx="1.0" ry="0.8" fill="#ead6cc" stroke="#5a280c" stroke-width="0.4" opacity="0.77" transform="rotate(138 263.8 506.4)"/>
<ellipse cx="266.7" cy="465.2" rx="1.2" ry="0.8" fill="#dcc0b0" stroke="#8a4a1c" stroke-width="0.3" opacity="0.93" transform="rotate(15 266.7 465.2)"/>
<ellipse cx="289.1" cy="506.2" rx="1.7" ry="1.1" fill="#d0a078" stroke="#8a4a1c" stroke-width="0.4" opacity="0.77" transform="rotate(70 289.1 506.2)"/>
<ellipse cx="256.2" cy="458.3" rx="1.3" ry="1.0" fill="#ead6cc" stroke="#5a280c" stroke-width="0.6" opacity="0.71" transform="rotate(105 256.2 458.3)"/>
<ellipse cx="265.1" cy="499.6" rx="1.3" ry="0.9" fill="#d0a078" stroke="#5a280c" stroke-width="0.6" opacity="0.82" transform="rotate(86 265.1 499.6)"/>
<ellipse cx="306.2" cy="508.7" rx="1.5" ry="0.7" fill="#d0a078" stroke="#4a1f08" stroke-width="0.4" opacity="0.84" transform="rotate(33 306.2 508.7)"/>
<ellipse cx="270.9" cy="510.5" rx="1.8" ry="0.7" fill="#f3e8e4" stroke="#5a280c" stroke-width="0.5" opacity="0.94" transform="rotate(144 270.9 510.5)"/>
<ellipse cx="260.0" cy="491.5" rx="1.1" ry="1.2" fill="#ead6cc" stroke="#8a4a1c" stroke-width="0.3" opacity="0.94" transform="rotate(156 260.0 491.5)"/>
<ellipse cx="303.6" cy="475.9" rx="1.4" ry="0.8" fill="#dcc0b0" stroke="#8a4a1c" stroke-width="0.7" opacity="0.88" transform="rotate(156 303.6 475.9)"/>
<ellipse cx="273.7" cy="455.5" rx="1.5" ry="0.9" fill="#d8b8a0" stroke="#4a1f08" stroke-width="0.3" opacity="0.92" transform="rotate(35 273.7 455.5)"/>
<ellipse cx="275.9" cy="452.4" rx="1.1" ry="0.8" fill="#c4a9c0" stroke="#6e3310" stroke-width="0.5" opacity="0.74" transform="rotate(179 275.9 452.4)"/>
<ellipse cx="275.0" cy="513.0" rx="1.8" ry="1.2" fill="#f3e8e4" stroke="#8a4a1c" stroke-width="0.6" opacity="0.99" transform="rotate(118 275.0 513.0)"/>
<ellipse cx="277.9" cy="491.8" rx="1.2" ry="1.3" fill="#c4a9c0" stroke="#4a1f08" stroke-width="0.3" opacity="0.95" transform="rotate(163 277.9 491.8)"/>
<ellipse cx="298.3" cy="500.4" rx="1.4" ry="0.9" fill="#d8b8a0" stroke="#8a4a1c" stroke-width="0.5" opacity="0.99" transform="rotate(12 298.3 500.4)"/>
<ellipse cx="286.0" cy="456.2" rx="1.1" ry="1.2" fill="#c4a9c0" stroke="#6e3310" stroke-width="0.6" opacity="0.74" transform="rotate(89 286.0 456.2)"/>
<ellipse cx="250.9" cy="465.7" rx="1.6" ry="0.7" fill="#d8b8a0" stroke="#8a4a1c" stroke-width="0.6" opacity="0.85" transform="rotate(9 250.9 465.7)"/>
<ellipse cx="273.2" cy="502.2" rx="1.4" ry="1.2" fill="#d0a078" stroke="#8a4a1c" stroke-width="0.5" opacity="0.75" transform="rotate(162 273.2 502.2)"/>
<ellipse cx="275.4" cy="464.7" rx="1.1" ry="0.9" fill="#dcc0b0" stroke="#8a4a1c" stroke-width="0.6" opacity="0.80" transform="rotate(9 275.4 464.7)"/>
<ellipse cx="255.2" cy="476.5" rx="1.2" ry="1.3" fill="#c4a9c0" stroke="#5a280c" stroke-width="0.5" opacity="0.85" transform="rotate(57 255.2 476.5)"/>
<ellipse cx="314.4" cy="456.3" rx="1.3" ry="1.1" fill="#c9b6d0" stroke="#5a280c" stroke-width="0.5" opacity="0.94" transform="rotate(161 314.4 456.3)"/>
<ellipse cx="288.3" cy="481.6" rx="1.7" ry="1.3" fill="#d0a078" stroke="#4a1f08" stroke-width="0.3" opacity="0.74" transform="rotate(78 288.3 481.6)"/>
<ellipse cx="246.3" cy="517.6" rx="1.5" ry="1.0" fill="#c9b6d0" stroke="#6e3310" stroke-width="0.5" opacity="0.83" transform="rotate(37 246.3 517.6)"/>
<ellipse cx="310.1" cy="463.7" rx="1.3" ry="0.8" fill="#ead6cc" stroke="#8a4a1c" stroke-width="0.6" opacity="0.88" transform="rotate(127 310.1 463.7)"/>
<ellipse cx="299.5" cy="471.7" rx="1.7" ry="0.9" fill="#d8b8a0" stroke="#4a1f08" stroke-width="0.4" opacity="0.94" transform="rotate(45 299.5 471.7)"/>
<ellipse cx="298.6" cy="465.0" rx="1.0" ry="0.9" fill="#f3e8e4" stroke="#6e3310" stroke-width="0.3" opacity="0.70" transform="rotate(60 298.6 465.0)"/>
<ellipse cx="267.8" cy="482.6" rx="1.4" ry="1.1" fill="#d8b8a0" stroke="#4a1f08" stroke-width="0.5" opacity="0.79" transform="rotate(42 267.8 482.6)"/>
<ellipse cx="305.6" cy="492.4" rx="1.2" ry="0.9" fill="#dcc0b0" stroke="#4a1f08" stroke-width="0.3" opacity="0.82" transform="rotate(134 305.6 492.4)"/>
<ellipse cx="286.3" cy="515.9" rx="1.2" ry="0.8" fill="#c9b6d0" stroke="#5a280c" stroke-width="0.4" opacity="0.76" transform="rotate(69 286.3 515.9)"/>
<ellipse cx="256.7" cy="518.8" rx="1.1" ry="0.9" fill="#d0a078" stroke="#8a4a1c" stroke-width="0.5" opacity="0.79" transform="rotate(168 256.7 518.8)"/>
<ellipse cx="250.2" cy="503.8" rx="1.6" ry="0.8" fill="#d8b8a0" stroke="#5a280c" stroke-width="0.4" opacity="0.79" transform="rotate(147 250.2 503.8)"/>
<ellipse cx="314.4" cy="475.7" rx="1.1" ry="1.0" fill="#c4a9c0" stroke="#4a1f08" stroke-width="0.4" opacity="0.93" transform="rotate(135 314.4 475.7)"/>
<ellipse cx="292.1" cy="488.6" rx="1.7" ry="1.1" fill="#ead6cc" stroke="#6e3310" stroke-width="0.4" opacity="0.93" transform="rotate(48 292.1 488.6)"/>
<ellipse cx="277.5" cy="505.2" rx="1.5" ry="1.0" fill="#c9b6d0" stroke="#8a4a1c" stroke-width="0.6" opacity="0.85" transform="rotate(65 277.5 505.2)"/>
<ellipse cx="245.4" cy="457.4" rx="1.1" ry="1.1" fill="#dcc0b0" stroke="#6e3310" stroke-width="0.6" opacity="0.90" transform="rotate(146 245.4 457.4)"/>
<ellipse cx="262.0" cy="470.9" rx="1.2" ry="1.0" fill="#c4a9c0" stroke="#5a280c" stroke-width="0.6" opacity="0.76" transform="rotate(80 262.0 470.9)"/>
<ellipse cx="281.7" cy="491.2" rx="1.3" ry="1.0" fill="#f3e8e4" stroke="#4a1f08" stroke-width="0.4" opacity="0.99" transform="rotate(165 281.7 491.2)"/>
<ellipse cx="250.3" cy="473.1" rx="1.2" ry="1.0" fill="#d0a078" stroke="#5a280c" stroke-width="0.4" opacity="0.78" transform="rotate(104 250.3 473.1)"/>
<ellipse cx="300.4" cy="497.2" rx="1.7" ry="1.2" fill="#c4a9c0" stroke="#4a1f08" stroke-width="0.6" opacity="0.97" transform="rotate(5 300.4 497.2)"/>
<ellipse cx="293.5" cy="453.3" rx="1.4" ry="1.1" fill="#c9b6d0" stroke="#6e3310" stroke-width="0.4" opacity="0.73" transform="rotate(140 293.5 453.3)"/>
<ellipse cx="314.1" cy="515.0" rx="1.5" ry="1.2" fill="#f3e8e4" stroke="#6e3310" stroke-width="0.6" opacity="0.98" transform="rotate(130 314.1 515.0)"/>
<ellipse cx="314.1" cy="463.6" rx="1.7" ry="1.1" fill="#dcc0b0" stroke="#5a280c" stroke-width="0.3" opacity="0.99" transform="rotate(151 314.1 463.6)"/>
<ellipse cx="244.9" cy="495.1" rx="1.5" ry="1.1" fill="#c4a9c0" stroke="#8a4a1c" stroke-width="0.4" opacity="0.98" transform="rotate(167 244.9 495.1)"/>
<ellipse cx="308.0" cy="481.6" rx="1.5" ry="0.9" fill="#d8b8a0" stroke="#5a280c" stroke-width="0.6" opacity="0.84" transform="rotate(30 308.0 481.6)"/>
<ellipse cx="305.8" cy="518.7" rx="1.3" ry="1.1" fill="#c4a9c0" stroke="#5a280c" stroke-width="0.4" opacity="0.78" transform="rotate(112 305.8 518.7)"/>
<ellipse cx="279.9" cy="452.3" rx="1.3" ry="0.9" fill="#ead6cc" stroke="#8a4a1c" stroke-width="0.7" opacity="0.97" transform="rotate(156 279.9 452.3)"/>
<ellipse cx="294.5" cy="500.8" rx="1.5" ry="1.1" fill="#ead6cc" stroke="#4a1f08" stroke-width="0.5" opacity="0.94" transform="rotate(26 294.5 500.8)"/>
<ellipse cx="259.7" cy="456.7" rx="1.7" ry="1.1" fill="#ead6cc" stroke="#4a1f08" stroke-width="0.6" opacity="0.95" transform="rotate(94 259.7 456.7)"/>
<ellipse cx="244.9" cy="499.7" rx="1.2" ry="1.3" fill="#d8b8a0" stroke="#6e3310" stroke-width="0.5" opacity="0.81" transform="rotate(46 244.9 499.7)"/>
<ellipse cx="263.8" cy="485.2" rx="1.2" ry="1.1" fill="#d8b8a0" stroke="#4a1f08" stroke-width="0.4" opacity="1.00" transform="rotate(61 263.8 485.2)"/>
<ellipse cx="252.7" cy="495.5" rx="1.6" ry="0.9" fill="#ead6cc" stroke="#8a4a1c" stroke-width="0.3" opacity="0.98" transform="rotate(66 252.7 495.5)"/>
<ellipse cx="244.8" cy="483.6" rx="1.7" ry="1.0" fill="#d8b8a0" stroke="#8a4a1c" stroke-width="0.4" opacity="0.97" transform="rotate(172 244.8 483.6)"/>
<ellipse cx="314.3" cy="501.4" rx="1.7" ry="0.9" fill="#dcc0b0" stroke="#8a4a1c" stroke-width="0.3" opacity="0.96" transform="rotate(29 314.3 501.4)"/>
<ellipse cx="262.2" cy="509.8" rx="1.3" ry="1.1" fill="#dcc0b0" stroke="#4a1f08" stroke-width="0.6" opacity="0.74" transform="rotate(52 262.2 509.8)"/>
<ellipse cx="244.9" cy="452.2" rx="1.4" ry="0.9" fill="#dcc0b0" stroke="#4a1f08" stroke-width="0.5" opacity="0.76" transform="rotate(137 244.9 452.2)"/>
<ellipse cx="307.6" cy="497.2" rx="1.7" ry="1.1" fill="#c9b6d0" stroke="#4a1f08" stroke-width="0.3" opacity="0.96" transform="rotate(21 307.6 497.2)"/>
<ellipse cx="248.2" cy="468.8" rx="1.2" ry="1.2" fill="#ead6cc" stroke="#6e3310" stroke-width="0.7" opacity="0.97" transform="rotate(151 248.2 468.8)"/>
<ellipse cx="301.7" cy="490.6" rx="1.8" ry="0.9" fill="#d0a078" stroke="#4a1f08" stroke-width="0.7" opacity="0.92" transform="rotate(159 301.7 490.6)"/>
<ellipse cx="269.0" cy="475.7" rx="1.8" ry="0.7" fill="#c9b6d0" stroke="#5a280c" stroke-width="0.6" opacity="0.76" transform="rotate(106 269.0 475.7)"/>
</g>
<rect x="245.7" y="453" width="67.9" height="65" fill="none" stroke="#3a3a55" stroke-width="0.6"/>
<line x1="297.1" y1="515.8" x2="312.1" y2="515.8" stroke="#1a1a1a" stroke-width="0.8"/>
<text x="246.1" y="528" font-size="7" text-anchor="start" font-weight="normal" fill="#111" stroke="#111" stroke-width="0.12" textLength="46" lengthAdjust="spacingAndGlyphs">MCT4 Score 3</text>
</svg>
</body></html>
